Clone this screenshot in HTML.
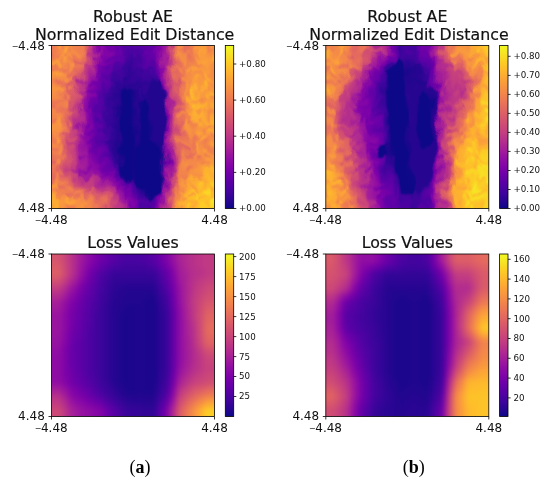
<!DOCTYPE html>
<html><head><meta charset="utf-8"><title>Robust AE</title>
<style>
html,body{margin:0;padding:0;background:#fff;}
body{width:550px;height:483px;overflow:hidden;}
svg{display:block}
text{font-family:"DejaVu Sans","Liberation Sans",sans-serif;fill:#111;}
.t{font-size:15.8px;text-anchor:middle;stroke:#111;stroke-width:.2px}
.k{font-size:12px}
.c{font-size:8.7px}
.cap{font-family:"Liberation Serif","DejaVu Serif",serif;font-size:18px;text-anchor:middle;fill:#000}
</style></head><body>
<svg width="550" height="483" viewBox="0 0 550 483">
<defs>
<linearGradient id="pl" x1="0" y1="1" x2="0" y2="0">
<stop offset="0.00" stop-color="#0d0887"/><stop offset="0.05" stop-color="#2a0593"/><stop offset="0.10" stop-color="#41049d"/><stop offset="0.15" stop-color="#5601a4"/><stop offset="0.20" stop-color="#6a00a8"/><stop offset="0.25" stop-color="#7e03a8"/><stop offset="0.30" stop-color="#8f0da4"/><stop offset="0.35" stop-color="#a11b9b"/><stop offset="0.40" stop-color="#b12a90"/><stop offset="0.45" stop-color="#bf3984"/><stop offset="0.50" stop-color="#cc4778"/><stop offset="0.55" stop-color="#d6556d"/><stop offset="0.60" stop-color="#e16462"/><stop offset="0.65" stop-color="#ea7457"/><stop offset="0.70" stop-color="#f2844b"/><stop offset="0.75" stop-color="#f89540"/><stop offset="0.80" stop-color="#fca636"/><stop offset="0.85" stop-color="#feba2c"/><stop offset="0.90" stop-color="#fcce25"/><stop offset="0.95" stop-color="#f7e425"/><stop offset="1.00" stop-color="#f0f921"/></linearGradient>
<clipPath id="ctl"><rect x="51.5" y="45.5" width="163.0" height="163.0"/></clipPath><filter id="ftl" x="-10%" y="-10%" width="120%" height="120%" color-interpolation-filters="sRGB"><feGaussianBlur stdDeviation="1.3" result="b"/><feTurbulence type="fractalNoise" baseFrequency="0.09 0.045" numOctaves="2" seed="3" result="n"/><feDisplacementMap in="b" in2="n" scale="14" xChannelSelector="R" yChannelSelector="G"/></filter>
<clipPath id="ctr"><rect x="325.8" y="45.5" width="163.0" height="163.0"/></clipPath><filter id="ftr" x="-10%" y="-10%" width="120%" height="120%" color-interpolation-filters="sRGB"><feGaussianBlur stdDeviation="1.3" result="b"/><feTurbulence type="fractalNoise" baseFrequency="0.09 0.045" numOctaves="2" seed="7" result="n"/><feDisplacementMap in="b" in2="n" scale="14" xChannelSelector="R" yChannelSelector="G"/></filter>
<clipPath id="cbl"><rect x="51.5" y="254.0" width="163.0" height="162.5"/></clipPath><filter id="fbl" x="-10%" y="-10%" width="120%" height="120%" color-interpolation-filters="sRGB"><feGaussianBlur stdDeviation="2.5"/></filter>
<clipPath id="cbr"><rect x="325.8" y="254.0" width="163.0" height="162.5"/></clipPath><filter id="fbr" x="-10%" y="-10%" width="120%" height="120%" color-interpolation-filters="sRGB"><feGaussianBlur stdDeviation="2.5"/></filter>
</defs>
<rect width="550" height="483" fill="#fff"/>
<g clip-path="url(#ctl)"><g filter="url(#ftl)" shape-rendering="crispEdges"><path fill="#0d0887" d="M123.9 104.4h4.9v4.9h-4.9z"/><path fill="#130789" d="M123.9 95.3h4.9v4.9h-4.9zM123.9 99.8h4.9v4.9h-4.9zM123.9 108.9h4.9v4.9h-4.9zM123.9 113.4h4.9v4.9h-4.9zM123.9 117.9h4.9v4.9h-4.9zM123.9 127h4.9v4.9h-4.9zM151.1 127h4.9v4.9h-4.9zM123.9 131.5h4.9v4.9h-4.9zM151.1 131.5h4.9v4.9h-4.9zM123.9 136.1h4.9v4.9h-4.9zM151.1 136.1h4.9v4.9h-4.9zM123.9 140.6h9.5v4.9h-9.5zM151.1 140.6h4.9v4.9h-4.9zM123.9 145.1h4.9v4.9h-4.9zM151.1 145.1h4.9v4.9h-4.9zM123.9 149.6h9.5v4.9h-9.5zM142.1 149.6h14v4.9h-14zM123.9 154.2h9.5v4.9h-9.5zM146.6 154.2h4.9v4.9h-4.9zM123.9 158.7h4.9v4.9h-4.9zM146.6 158.7h9.5v4.9h-9.5zM137.5 163.2h4.9v4.9h-4.9zM151.1 163.2h4.9v4.9h-4.9zM137.5 167.8h4.9v4.9h-4.9zM151.1 167.8h4.9v4.9h-4.9zM137.5 172.3h4.9v4.9h-4.9zM146.6 172.3h9.5v4.9h-9.5zM146.6 176.8h4.9v4.9h-4.9z"/><path fill="#19068c" d="M123.9 90.8h4.9v4.9h-4.9zM128.5 99.8h4.9v4.9h-4.9zM128.5 104.4h4.9v4.9h-4.9zM151.1 104.4h4.9v4.9h-4.9zM151.1 108.9h4.9v4.9h-4.9zM119.4 113.4h4.9v4.9h-4.9zM128.5 113.4h4.9v4.9h-4.9zM119.4 117.9h4.9v4.9h-4.9zM151.1 117.9h4.9v4.9h-4.9zM123.9 122.5h9.5v4.9h-9.5zM151.1 122.5h4.9v4.9h-4.9zM128.5 131.5h9.5v4.9h-9.5zM146.6 136.1h4.9v4.9h-4.9zM146.6 140.6h4.9v4.9h-4.9zM128.5 145.1h14v4.9h-14zM146.6 145.1h4.9v4.9h-4.9zM133 149.6h9.5v4.9h-9.5zM133 154.2h4.9v4.9h-4.9zM142.1 154.2h4.9v4.9h-4.9zM151.1 154.2h4.9v4.9h-4.9zM128.5 158.7h9.5v4.9h-9.5zM142.1 158.7h4.9v4.9h-4.9zM123.9 163.2h4.9v4.9h-4.9zM133 163.2h4.9v4.9h-4.9zM142.1 163.2h9.5v4.9h-9.5zM142.1 167.8h9.5v4.9h-9.5zM142.1 172.3h4.9v4.9h-4.9zM142.1 176.8h4.9v4.9h-4.9zM151.1 176.8h4.9v4.9h-4.9z"/><path fill="#1d068e" d="M123.9 86.2h4.9v4.9h-4.9zM119.4 95.3h4.9v4.9h-4.9zM151.1 95.3h4.9v4.9h-4.9zM119.4 99.8h4.9v4.9h-4.9zM151.1 99.8h4.9v4.9h-4.9zM114.9 104.4h9.5v4.9h-9.5zM119.4 108.9h4.9v4.9h-4.9zM133 108.9h4.9v4.9h-4.9zM146.6 108.9h4.9v4.9h-4.9zM114.9 113.4h4.9v4.9h-4.9zM133 113.4h4.9v4.9h-4.9zM151.1 113.4h4.9v4.9h-4.9zM128.5 117.9h9.5v4.9h-9.5zM146.6 117.9h4.9v4.9h-4.9zM119.4 127h4.9v4.9h-4.9zM128.5 127h9.5v4.9h-9.5zM142.1 131.5h9.5v4.9h-9.5zM128.5 136.1h4.9v4.9h-4.9zM142.1 136.1h4.9v4.9h-4.9zM133 140.6h14v4.9h-14zM142.1 145.1h4.9v4.9h-4.9zM137.5 154.2h4.9v4.9h-4.9zM137.5 158.7h4.9v4.9h-4.9zM128.5 163.2h4.9v4.9h-4.9zM133 167.8h4.9v4.9h-4.9zM133 172.3h4.9v4.9h-4.9zM137.5 176.8h4.9v4.9h-4.9zM142.1 181.3h9.5v4.9h-9.5z"/><path fill="#220690" d="M142.1 90.8h4.9v4.9h-4.9zM151.1 90.8h4.9v4.9h-4.9zM128.5 95.3h4.9v4.9h-4.9zM146.6 99.8h4.9v4.9h-4.9zM146.6 104.4h4.9v4.9h-4.9zM114.9 108.9h4.9v4.9h-4.9zM128.5 108.9h4.9v4.9h-4.9zM142.1 108.9h4.9v4.9h-4.9zM146.6 113.4h4.9v4.9h-4.9zM119.4 122.5h4.9v4.9h-4.9zM133 122.5h18.5v4.9h-18.5zM114.9 127h4.9v4.9h-4.9zM142.1 127h9.5v4.9h-9.5zM119.4 131.5h4.9v4.9h-4.9zM119.4 136.1h4.9v4.9h-4.9zM133 136.1h9.5v4.9h-9.5zM114.9 140.6h9.5v4.9h-9.5zM137.5 181.3h4.9v4.9h-4.9zM151.1 181.3h4.9v4.9h-4.9zM151.1 185.9h4.9v4.9h-4.9z"/><path fill="#260591" d="M119.4 90.8h4.9v4.9h-4.9zM128.5 90.8h9.5v4.9h-9.5zM146.6 90.8h4.9v4.9h-4.9zM133 95.3h4.9v4.9h-4.9zM146.6 95.3h4.9v4.9h-4.9zM133 99.8h14v4.9h-14zM133 104.4h4.9v4.9h-4.9zM142.1 113.4h4.9v4.9h-4.9zM137.5 117.9h9.5v4.9h-9.5zM110.4 122.5h9.5v4.9h-9.5zM137.5 127h4.9v4.9h-4.9zM114.9 131.5h4.9v4.9h-4.9zM137.5 131.5h4.9v4.9h-4.9zM114.9 136.1h4.9v4.9h-4.9zM119.4 145.1h4.9v4.9h-4.9zM119.4 149.6h4.9v4.9h-4.9zM119.4 154.2h4.9v4.9h-4.9zM128.5 167.8h4.9v4.9h-4.9zM128.5 172.3h4.9v4.9h-4.9zM137.5 185.9h14v4.9h-14z"/><path fill="#2a0593" d="M123.9 72.7h4.9v4.9h-4.9zM123.9 81.7h14v4.9h-14zM128.5 86.2h4.9v4.9h-4.9zM137.5 86.2h4.9v4.9h-4.9zM110.4 95.3h9.5v4.9h-9.5zM137.5 95.3h9.5v4.9h-9.5zM114.9 99.8h4.9v4.9h-4.9zM110.4 104.4h4.9v4.9h-4.9zM137.5 104.4h9.5v4.9h-9.5zM137.5 113.4h4.9v4.9h-4.9zM114.9 117.9h4.9v4.9h-4.9zM114.9 145.1h4.9v4.9h-4.9zM114.9 149.6h4.9v4.9h-4.9zM114.9 154.2h4.9v4.9h-4.9zM114.9 158.7h9.5v4.9h-9.5zM123.9 167.8h4.9v4.9h-4.9z"/><path fill="#2f0596" d="M123.9 63.6h4.9v4.9h-4.9zM123.9 77.2h4.9v4.9h-4.9zM114.9 81.7h9.5v4.9h-9.5zM137.5 81.7h14v4.9h-14zM114.9 86.2h9.5v4.9h-9.5zM133 86.2h4.9v4.9h-4.9zM146.6 86.2h4.9v4.9h-4.9zM114.9 90.8h4.9v4.9h-4.9zM110.4 108.9h4.9v4.9h-4.9zM137.5 108.9h4.9v4.9h-4.9zM110.4 113.4h4.9v4.9h-4.9zM110.4 117.9h4.9v4.9h-4.9zM110.4 127h4.9v4.9h-4.9zM110.4 131.5h4.9v4.9h-4.9zM110.4 140.6h4.9v4.9h-4.9zM133 176.8h4.9v4.9h-4.9zM142.1 190.4h4.9v4.9h-4.9zM151.1 190.4h4.9v4.9h-4.9z"/><path fill="#330597" d="M123.9 68.1h9.5v4.9h-9.5zM133 77.2h4.9v4.9h-4.9zM110.4 86.2h4.9v4.9h-4.9zM142.1 86.2h4.9v4.9h-4.9zM151.1 86.2h4.9v4.9h-4.9zM110.4 90.8h4.9v4.9h-4.9zM137.5 90.8h4.9v4.9h-4.9zM105.8 95.3h4.9v4.9h-4.9zM110.4 99.8h4.9v4.9h-4.9zM110.4 136.1h4.9v4.9h-4.9zM123.9 172.3h4.9v4.9h-4.9zM128.5 176.8h4.9v4.9h-4.9z"/><path fill="#370499" d="M128.5 63.6h4.9v4.9h-4.9zM133 68.1h4.9v4.9h-4.9zM128.5 72.7h4.9v4.9h-4.9zM119.4 77.2h4.9v4.9h-4.9zM128.5 77.2h4.9v4.9h-4.9zM105.8 99.8h4.9v4.9h-4.9zM105.8 117.9h4.9v4.9h-4.9zM105.8 122.5h4.9v4.9h-4.9zM155.6 131.5h4.9v4.9h-4.9zM105.8 140.6h4.9v4.9h-4.9zM110.4 145.1h4.9v4.9h-4.9zM119.4 163.2h4.9v4.9h-4.9zM133 181.3h4.9v4.9h-4.9zM146.6 190.4h4.9v4.9h-4.9z"/><path fill="#3a049a" d="M123.9 59.1h9.5v4.9h-9.5zM137.5 68.1h4.9v4.9h-4.9zM133 72.7h4.9v4.9h-4.9zM137.5 77.2h9.5v4.9h-9.5zM151.1 81.7h4.9v4.9h-4.9zM105.8 90.8h4.9v4.9h-4.9zM105.8 104.4h4.9v4.9h-4.9zM105.8 113.4h4.9v4.9h-4.9zM155.6 145.1h4.9v4.9h-4.9zM110.4 149.6h4.9v4.9h-4.9zM110.4 154.2h4.9v4.9h-4.9zM110.4 158.7h4.9v4.9h-4.9zM155.6 158.7h4.9v4.9h-4.9zM119.4 167.8h4.9v4.9h-4.9zM155.6 167.8h4.9v4.9h-4.9zM137.5 190.4h4.9v4.9h-4.9z"/><path fill="#3e049c" d="M128.5 54.6h4.9v4.9h-4.9zM114.9 72.7h4.9v4.9h-4.9zM114.9 77.2h4.9v4.9h-4.9zM146.6 77.2h9.5v4.9h-9.5zM101.3 108.9h9.5v4.9h-9.5zM119.4 172.3h4.9v4.9h-4.9zM128.5 181.3h4.9v4.9h-4.9z"/><path fill="#41049d" d="M133 59.1h4.9v4.9h-4.9zM146.6 68.1h4.9v4.9h-4.9zM119.4 72.7h4.9v4.9h-4.9zM137.5 72.7h9.5v4.9h-9.5zM101.3 95.3h4.9v4.9h-4.9zM155.6 99.8h4.9v4.9h-4.9zM101.3 113.4h4.9v4.9h-4.9zM155.6 113.4h4.9v4.9h-4.9zM155.6 122.5h4.9v4.9h-4.9zM105.8 127h4.9v4.9h-4.9zM105.8 131.5h4.9v4.9h-4.9zM114.9 163.2h4.9v4.9h-4.9zM155.6 163.2h4.9v4.9h-4.9zM155.6 172.3h4.9v4.9h-4.9z"/><path fill="#44039e" d="M123.9 54.6h4.9v4.9h-4.9zM137.5 54.6h4.9v4.9h-4.9zM137.5 59.1h4.9v4.9h-4.9zM133 63.6h4.9v4.9h-4.9zM119.4 68.1h4.9v4.9h-4.9zM142.1 68.1h4.9v4.9h-4.9zM151.1 72.7h4.9v4.9h-4.9zM110.4 77.2h4.9v4.9h-4.9zM105.8 86.2h4.9v4.9h-4.9zM101.3 90.8h4.9v4.9h-4.9zM155.6 95.3h4.9v4.9h-4.9zM101.3 99.8h4.9v4.9h-4.9zM155.6 117.9h4.9v4.9h-4.9zM101.3 127h4.9v4.9h-4.9zM155.6 136.1h4.9v4.9h-4.9zM155.6 149.6h4.9v4.9h-4.9zM155.6 154.2h4.9v4.9h-4.9zM110.4 163.2h4.9v4.9h-4.9zM133 185.9h4.9v4.9h-4.9zM142.1 194.9h4.9v4.9h-4.9zM151.1 194.9h4.9v4.9h-4.9z"/><path fill="#4903a0" d="M123.9 50h14v4.9h-14zM119.4 63.6h4.9v4.9h-4.9zM137.5 63.6h4.9v4.9h-4.9zM114.9 68.1h4.9v4.9h-4.9zM151.1 68.1h4.9v4.9h-4.9zM110.4 81.7h4.9v4.9h-4.9zM101.3 117.9h4.9v4.9h-4.9zM101.3 122.5h4.9v4.9h-4.9zM155.6 127h4.9v4.9h-4.9zM105.8 136.1h4.9v4.9h-4.9zM155.6 140.6h4.9v4.9h-4.9zM123.9 176.8h4.9v4.9h-4.9zM155.6 176.8h4.9v4.9h-4.9zM137.5 194.9h4.9v4.9h-4.9zM146.6 194.9h4.9v4.9h-4.9zM137.5 204h4.9v16.9h-4.9zM146.6 204h4.9v16.9h-4.9z"/><path fill="#4c02a1" d="M128.5 33.5h4.9v16.9h-4.9zM137.5 50h4.9v4.9h-4.9zM146.6 72.7h4.9v4.9h-4.9zM155.6 90.8h4.9v4.9h-4.9zM101.3 104.4h4.9v4.9h-4.9zM155.6 104.4h4.9v4.9h-4.9zM155.6 108.9h4.9v4.9h-4.9zM101.3 140.6h4.9v4.9h-4.9zM105.8 145.1h4.9v4.9h-4.9zM105.8 154.2h4.9v4.9h-4.9zM114.9 167.8h4.9v4.9h-4.9z"/><path fill="#5002a2" d="M123.9 33.5h4.9v16.9h-4.9zM142.1 59.1h4.9v4.9h-4.9zM114.9 63.6h4.9v4.9h-4.9zM110.4 72.7h4.9v4.9h-4.9zM101.3 86.2h4.9v4.9h-4.9zM96.8 95.3h4.9v4.9h-4.9zM96.8 117.9h4.9v4.9h-4.9zM96.8 127h4.9v4.9h-4.9zM101.3 136.1h4.9v4.9h-4.9zM105.8 158.7h4.9v4.9h-4.9zM114.9 172.3h4.9v4.9h-4.9zM128.5 185.9h4.9v4.9h-4.9zM133 190.4h4.9v4.9h-4.9zM142.1 199.4h4.9v4.9h-4.9zM151.1 199.4h4.9v4.9h-4.9zM142.1 204h4.9v16.9h-4.9z"/><path fill="#5302a3" d="M119.4 33.5h4.9v16.9h-4.9zM137.5 33.5h4.9v16.9h-4.9zM133 54.6h4.9v4.9h-4.9zM119.4 59.1h4.9v4.9h-4.9zM151.1 59.1h4.9v4.9h-4.9zM105.8 72.7h4.9v4.9h-4.9zM155.6 86.2h4.9v4.9h-4.9zM96.8 90.8h4.9v4.9h-4.9zM96.8 104.4h4.9v4.9h-4.9zM101.3 131.5h4.9v4.9h-4.9zM96.8 140.6h4.9v4.9h-4.9zM105.8 149.6h4.9v4.9h-4.9zM101.3 154.2h4.9v4.9h-4.9zM146.6 199.4h4.9v4.9h-4.9z"/><path fill="#5601a4" d="M133 33.5h4.9v16.9h-4.9zM142.1 54.6h4.9v4.9h-4.9zM142.1 63.6h4.9v4.9h-4.9zM151.1 63.6h4.9v4.9h-4.9zM101.3 81.7h9.5v4.9h-9.5zM92.2 99.8h9.5v4.9h-9.5zM96.8 108.9h4.9v4.9h-4.9zM119.4 176.8h4.9v4.9h-4.9zM151.1 204h4.9v16.9h-4.9z"/><path fill="#5901a5" d="M119.4 50h4.9v4.9h-4.9zM105.8 63.6h4.9v4.9h-4.9zM146.6 63.6h4.9v4.9h-4.9zM101.3 72.7h4.9v4.9h-4.9zM92.2 95.3h4.9v4.9h-4.9zM92.2 108.9h4.9v4.9h-4.9zM96.8 136.1h4.9v4.9h-4.9zM155.6 181.3h4.9v4.9h-4.9zM137.5 199.4h4.9v4.9h-4.9z"/><path fill="#5e01a6" d="M142.1 33.5h9.5v16.9h-9.5zM114.9 54.6h9.5v4.9h-9.5zM114.9 59.1h4.9v4.9h-4.9zM146.6 59.1h4.9v4.9h-4.9zM110.4 68.1h4.9v4.9h-4.9zM105.8 77.2h4.9v4.9h-4.9zM92.2 90.8h4.9v4.9h-4.9zM96.8 113.4h4.9v4.9h-4.9zM96.8 122.5h4.9v4.9h-4.9zM96.8 131.5h4.9v4.9h-4.9zM96.8 145.1h9.5v4.9h-9.5zM101.3 149.6h4.9v4.9h-4.9zM105.8 163.2h4.9v4.9h-4.9zM160.2 163.2h4.9v4.9h-4.9zM133 194.9h4.9v4.9h-4.9z"/><path fill="#6100a7" d="M110.4 33.5h4.9v16.9h-4.9zM96.8 77.2h4.9v4.9h-4.9zM155.6 77.2h4.9v4.9h-4.9zM160.2 108.9h4.9v4.9h-4.9zM92.2 113.4h4.9v4.9h-4.9zM160.2 117.9h4.9v4.9h-4.9zM160.2 122.5h4.9v4.9h-4.9zM160.2 145.1h4.9v4.9h-4.9zM110.4 167.8h4.9v4.9h-4.9zM114.9 176.8h4.9v4.9h-4.9zM119.4 181.3h4.9v4.9h-4.9z"/><path fill="#6400a7" d="M151.1 33.5h4.9v16.9h-4.9zM142.1 50h9.5v4.9h-9.5zM105.8 54.6h9.5v4.9h-9.5zM146.6 54.6h9.5v4.9h-9.5zM101.3 63.6h4.9v4.9h-4.9zM110.4 63.6h4.9v4.9h-4.9zM105.8 68.1h4.9v4.9h-4.9zM155.6 68.1h4.9v4.9h-4.9zM101.3 77.2h4.9v4.9h-4.9zM96.8 86.2h4.9v4.9h-4.9zM160.2 99.8h4.9v4.9h-4.9zM160.2 113.4h4.9v4.9h-4.9zM92.2 117.9h4.9v4.9h-4.9zM92.2 145.1h4.9v4.9h-4.9zM96.8 154.2h4.9v4.9h-4.9zM160.2 154.2h4.9v4.9h-4.9zM123.9 181.3h4.9v4.9h-4.9zM123.9 185.9h4.9v4.9h-4.9zM155.6 185.9h4.9v4.9h-4.9zM155.6 190.4h4.9v4.9h-4.9z"/><path fill="#6700a8" d="M155.6 81.7h4.9v4.9h-4.9zM92.2 104.4h4.9v4.9h-4.9zM92.2 122.5h4.9v4.9h-4.9zM92.2 127h4.9v4.9h-4.9zM92.2 131.5h4.9v4.9h-4.9zM160.2 131.5h4.9v4.9h-4.9zM160.2 136.1h4.9v4.9h-4.9zM92.2 149.6h4.9v4.9h-4.9zM160.2 158.7h4.9v4.9h-4.9zM101.3 163.2h4.9v4.9h-4.9z"/><path fill="#6a00a8" d="M114.9 33.5h4.9v16.9h-4.9zM110.4 50h9.5v4.9h-9.5zM110.4 59.1h4.9v4.9h-4.9zM101.3 68.1h4.9v4.9h-4.9zM155.6 72.7h4.9v4.9h-4.9zM160.2 127h4.9v4.9h-4.9zM92.2 140.6h4.9v4.9h-4.9zM160.2 140.6h4.9v4.9h-4.9zM96.8 158.7h9.5v4.9h-9.5zM101.3 167.8h9.5v4.9h-9.5zM128.5 190.4h4.9v4.9h-4.9zM133 204h4.9v16.9h-4.9z"/><path fill="#6e00a8" d="M155.6 63.6h4.9v4.9h-4.9zM96.8 81.7h4.9v4.9h-4.9zM160.2 81.7h4.9v4.9h-4.9zM160.2 95.3h4.9v4.9h-4.9zM87.7 104.4h4.9v4.9h-4.9z"/><path fill="#7100a8" d="M105.8 59.1h4.9v4.9h-4.9zM92.2 81.7h4.9v4.9h-4.9zM87.7 90.8h4.9v4.9h-4.9zM87.7 99.8h4.9v4.9h-4.9zM87.7 131.5h4.9v4.9h-4.9zM87.7 140.6h4.9v4.9h-4.9zM96.8 149.6h4.9v4.9h-4.9zM160.2 149.6h4.9v4.9h-4.9zM160.2 167.8h4.9v4.9h-4.9zM105.8 172.3h4.9v4.9h-4.9z"/><path fill="#7501a8" d="M105.8 33.5h4.9v16.9h-4.9zM151.1 50h4.9v4.9h-4.9zM96.8 68.1h4.9v4.9h-4.9zM96.8 72.7h4.9v4.9h-4.9zM83.2 122.5h4.9v4.9h-4.9zM92.2 136.1h4.9v4.9h-4.9zM87.7 149.6h4.9v4.9h-4.9zM123.9 190.4h4.9v4.9h-4.9zM133 199.4h4.9v4.9h-4.9zM155.6 199.4h4.9v4.9h-4.9zM128.5 204h4.9v16.9h-4.9z"/><path fill="#7801a8" d="M101.3 54.6h4.9v4.9h-4.9zM96.8 63.6h4.9v4.9h-4.9zM92.2 72.7h4.9v4.9h-4.9zM92.2 86.2h4.9v4.9h-4.9zM164.7 158.7h4.9v4.9h-4.9zM96.8 167.8h4.9v4.9h-4.9zM110.4 172.3h4.9v4.9h-4.9zM160.2 172.3h4.9v4.9h-4.9zM128.5 194.9h4.9v4.9h-4.9z"/><path fill="#7b02a8" d="M155.6 33.5h4.9v16.9h-4.9zM101.3 59.1h4.9v4.9h-4.9zM155.6 59.1h4.9v4.9h-4.9zM87.7 81.7h4.9v4.9h-4.9zM160.2 90.8h4.9v4.9h-4.9zM160.2 104.4h4.9v4.9h-4.9zM87.7 113.4h4.9v4.9h-4.9zM87.7 117.9h4.9v4.9h-4.9zM92.2 154.2h4.9v4.9h-4.9zM96.8 163.2h4.9v4.9h-4.9zM123.9 194.9h4.9v4.9h-4.9zM155.6 194.9h4.9v4.9h-4.9z"/><path fill="#7e03a8" d="M155.6 54.6h4.9v4.9h-4.9zM87.7 108.9h4.9v4.9h-4.9zM164.7 113.4h4.9v4.9h-4.9zM87.7 122.5h4.9v4.9h-4.9zM164.7 127h4.9v4.9h-4.9zM87.7 136.1h4.9v4.9h-4.9zM155.6 204h4.9v16.9h-4.9z"/><path fill="#8104a7" d="M96.8 33.5h4.9v16.9h-4.9zM101.3 50h9.5v4.9h-9.5zM160.2 86.2h4.9v4.9h-4.9zM87.7 95.3h4.9v4.9h-4.9zM87.7 127h4.9v4.9h-4.9zM83.2 131.5h4.9v4.9h-4.9zM164.7 136.1h4.9v4.9h-4.9zM87.7 145.1h4.9v4.9h-4.9zM92.2 158.7h4.9v4.9h-4.9zM160.2 176.8h4.9v4.9h-4.9zM114.9 181.3h4.9v4.9h-4.9z"/><path fill="#8405a7" d="M155.6 50h4.9v4.9h-4.9zM96.8 59.1h4.9v4.9h-4.9zM160.2 72.7h4.9v4.9h-4.9zM87.7 86.2h4.9v4.9h-4.9zM83.2 108.9h4.9v4.9h-4.9zM164.7 122.5h4.9v4.9h-4.9zM83.2 127h4.9v4.9h-4.9zM83.2 140.6h4.9v4.9h-4.9zM87.7 163.2h4.9v4.9h-4.9zM101.3 172.3h4.9v4.9h-4.9zM110.4 176.8h4.9v4.9h-4.9zM114.9 185.9h9.5v4.9h-9.5zM128.5 199.4h4.9v4.9h-4.9z"/><path fill="#8707a6" d="M160.2 68.1h4.9v4.9h-4.9zM92.2 77.2h4.9v4.9h-4.9zM83.2 90.8h4.9v4.9h-4.9zM83.2 99.8h4.9v4.9h-4.9zM164.7 108.9h4.9v4.9h-4.9zM83.2 117.9h4.9v4.9h-4.9zM83.2 136.1h4.9v4.9h-4.9zM87.7 154.2h4.9v4.9h-4.9z"/><path fill="#8b0aa5" d="M101.3 33.5h4.9v16.9h-4.9zM83.2 95.3h4.9v4.9h-4.9zM83.2 104.4h4.9v4.9h-4.9zM164.7 145.1h4.9v4.9h-4.9zM164.7 149.6h4.9v4.9h-4.9zM87.7 158.7h4.9v4.9h-4.9zM92.2 163.2h4.9v4.9h-4.9zM83.2 167.8h4.9v4.9h-4.9zM92.2 167.8h4.9v4.9h-4.9zM96.8 172.3h4.9v4.9h-4.9zM105.8 176.8h4.9v4.9h-4.9z"/><path fill="#8e0ca4" d="M160.2 77.2h4.9v4.9h-4.9zM83.2 113.4h4.9v4.9h-4.9zM78.7 154.2h4.9v4.9h-4.9zM160.2 181.3h4.9v4.9h-4.9z"/><path fill="#910ea3" d="M96.8 54.6h4.9v4.9h-4.9zM92.2 68.1h4.9v4.9h-4.9zM78.7 104.4h4.9v4.9h-4.9zM78.7 108.9h4.9v4.9h-4.9zM164.7 117.9h4.9v4.9h-4.9zM78.7 136.1h4.9v4.9h-4.9zM87.7 167.8h4.9v4.9h-4.9zM164.7 172.3h4.9v4.9h-4.9zM110.4 181.3h4.9v4.9h-4.9z"/><path fill="#9410a2" d="M92.2 63.6h4.9v4.9h-4.9zM78.7 122.5h4.9v4.9h-4.9zM83.2 145.1h4.9v4.9h-4.9zM164.7 163.2h4.9v4.9h-4.9zM78.7 167.8h4.9v4.9h-4.9zM92.2 172.3h4.9v4.9h-4.9zM123.9 199.4h4.9v4.9h-4.9zM160.2 199.4h4.9v4.9h-4.9z"/><path fill="#9613a1" d="M160.2 33.5h4.9v16.9h-4.9zM87.7 77.2h4.9v4.9h-4.9zM164.7 77.2h4.9v4.9h-4.9zM164.7 140.6h4.9v4.9h-4.9zM83.2 154.2h4.9v4.9h-4.9zM164.7 154.2h4.9v4.9h-4.9zM78.7 172.3h4.9v4.9h-4.9zM119.4 190.4h4.9v4.9h-4.9z"/><path fill="#99159f" d="M92.2 54.6h4.9v4.9h-4.9zM160.2 63.6h4.9v4.9h-4.9zM83.2 86.2h4.9v4.9h-4.9zM78.7 99.8h4.9v4.9h-4.9zM78.7 127h4.9v4.9h-4.9zM164.7 131.5h4.9v4.9h-4.9zM78.7 145.1h4.9v4.9h-4.9zM83.2 149.6h4.9v4.9h-4.9zM87.7 172.3h4.9v4.9h-4.9zM160.2 185.9h4.9v4.9h-4.9zM114.9 190.4h4.9v4.9h-4.9zM119.4 194.9h4.9v4.9h-4.9zM160.2 194.9h4.9v4.9h-4.9z"/><path fill="#9d189d" d="M164.7 99.8h4.9v4.9h-4.9zM78.7 140.6h4.9v4.9h-4.9zM119.4 199.4h4.9v4.9h-4.9z"/><path fill="#a01a9c" d="M96.8 50h4.9v4.9h-4.9zM160.2 50h4.9v4.9h-4.9zM164.7 54.6h4.9v4.9h-4.9zM164.7 95.3h4.9v4.9h-4.9zM164.7 104.4h4.9v4.9h-4.9zM169.2 145.1h4.9v4.9h-4.9zM78.7 158.7h9.5v4.9h-9.5zM164.7 167.8h4.9v4.9h-4.9zM83.2 172.3h4.9v4.9h-4.9zM83.2 176.8h9.5v4.9h-9.5zM160.2 190.4h4.9v4.9h-4.9z"/><path fill="#a21d9a" d="M160.2 59.1h4.9v4.9h-4.9zM83.2 77.2h4.9v4.9h-4.9zM164.7 90.8h4.9v4.9h-4.9zM78.7 149.6h4.9v4.9h-4.9zM83.2 163.2h4.9v4.9h-4.9zM101.3 176.8h4.9v4.9h-4.9zM105.8 181.3h4.9v4.9h-4.9zM164.7 181.3h4.9v4.9h-4.9z"/><path fill="#a51f99" d="M92.2 33.5h4.9v16.9h-4.9zM164.7 33.5h4.9v16.9h-4.9zM160.2 54.6h4.9v4.9h-4.9zM87.7 72.7h4.9v4.9h-4.9zM83.2 81.7h4.9v4.9h-4.9zM169.2 149.6h4.9v4.9h-4.9zM78.7 163.2h4.9v4.9h-4.9zM74.1 167.8h4.9v4.9h-4.9zM164.7 176.8h4.9v4.9h-4.9zM101.3 181.3h4.9v4.9h-4.9z"/><path fill="#a72197" d="M164.7 59.1h4.9v4.9h-4.9zM164.7 68.1h4.9v4.9h-4.9zM164.7 86.2h4.9v4.9h-4.9zM78.7 95.3h4.9v4.9h-4.9zM169.2 127h4.9v4.9h-4.9zM123.9 204h4.9v16.9h-4.9zM160.2 204h4.9v16.9h-4.9z"/><path fill="#aa2395" d="M87.7 68.1h4.9v4.9h-4.9zM164.7 81.7h4.9v4.9h-4.9zM78.7 90.8h4.9v4.9h-4.9zM169.2 99.8h4.9v4.9h-4.9zM78.7 113.4h4.9v4.9h-4.9zM169.2 113.4h4.9v4.9h-4.9zM169.2 131.5h4.9v4.9h-4.9zM169.2 140.6h4.9v4.9h-4.9zM74.1 163.2h4.9v4.9h-4.9z"/><path fill="#ac2694" d="M78.7 131.5h4.9v4.9h-4.9zM105.8 185.9h4.9v4.9h-4.9z"/><path fill="#b02991" d="M92.2 50h4.9v4.9h-4.9zM92.2 59.1h4.9v4.9h-4.9zM164.7 72.7h4.9v4.9h-4.9zM78.7 77.2h4.9v4.9h-4.9zM169.2 104.4h4.9v4.9h-4.9zM169.2 117.9h4.9v4.9h-4.9zM169.2 122.5h4.9v4.9h-4.9zM74.1 136.1h4.9v4.9h-4.9zM169.2 136.1h4.9v4.9h-4.9zM169.2 154.2h4.9v4.9h-4.9zM74.1 158.7h4.9v4.9h-4.9zM169.2 158.7h4.9v4.9h-4.9zM69.6 167.8h4.9v4.9h-4.9zM96.8 185.9h4.9v4.9h-4.9z"/><path fill="#b22b8f" d="M169.2 108.9h4.9v4.9h-4.9zM78.7 117.9h4.9v4.9h-4.9zM74.1 122.5h4.9v4.9h-4.9zM169.2 167.8h4.9v4.9h-4.9zM96.8 176.8h4.9v4.9h-4.9zM96.8 181.3h4.9v4.9h-4.9zM101.3 185.9h4.9v4.9h-4.9zM110.4 185.9h4.9v4.9h-4.9z"/><path fill="#b42e8d" d="M87.7 63.6h4.9v4.9h-4.9zM74.1 140.6h4.9v4.9h-4.9zM74.1 145.1h4.9v4.9h-4.9zM74.1 149.6h4.9v4.9h-4.9zM74.1 154.2h4.9v4.9h-4.9zM164.7 185.9h4.9v4.9h-4.9zM119.4 204h4.9v16.9h-4.9z"/><path fill="#b6308b" d="M169.2 77.2h4.9v4.9h-4.9zM74.1 117.9h4.9v4.9h-4.9zM92.2 176.8h4.9v4.9h-4.9z"/><path fill="#b83289" d="M164.7 63.6h4.9v4.9h-4.9zM83.2 72.7h4.9v4.9h-4.9zM74.1 90.8h4.9v4.9h-4.9zM74.1 131.5h4.9v4.9h-4.9zM78.7 176.8h4.9v4.9h-4.9zM78.7 181.3h4.9v4.9h-4.9z"/><path fill="#bb3488" d="M87.7 50h4.9v4.9h-4.9zM164.7 50h4.9v4.9h-4.9zM169.2 59.1h4.9v4.9h-4.9zM78.7 86.2h4.9v4.9h-4.9zM169.2 86.2h4.9v4.9h-4.9zM169.2 163.2h4.9v4.9h-4.9zM92.2 181.3h4.9v4.9h-4.9zM101.3 190.4h4.9v4.9h-4.9zM110.4 190.4h4.9v4.9h-4.9z"/><path fill="#be3885" d="M169.2 33.5h4.9v16.9h-4.9zM74.1 104.4h4.9v4.9h-4.9zM74.1 113.4h4.9v4.9h-4.9zM110.4 194.9h9.5v4.9h-9.5zM164.7 194.9h4.9v4.9h-4.9zM114.9 204h4.9v16.9h-4.9z"/><path fill="#c03a83" d="M83.2 63.6h4.9v4.9h-4.9zM83.2 68.1h4.9v4.9h-4.9zM169.2 72.7h4.9v4.9h-4.9zM78.7 81.7h4.9v4.9h-4.9zM92.2 185.9h4.9v4.9h-4.9zM105.8 190.4h4.9v4.9h-4.9zM164.7 190.4h4.9v4.9h-4.9zM164.7 199.4h4.9v4.9h-4.9zM164.7 204h4.9v16.9h-4.9z"/><path fill="#c23c81" d="M169.2 81.7h4.9v4.9h-4.9zM69.6 140.6h4.9v4.9h-4.9zM69.6 176.8h4.9v4.9h-4.9zM83.2 181.3h9.5v4.9h-9.5zM87.7 185.9h4.9v4.9h-4.9z"/><path fill="#c43e7f" d="M87.7 33.5h4.9v16.9h-4.9zM69.6 163.2h4.9v4.9h-4.9zM74.1 172.3h4.9v4.9h-4.9zM74.1 176.8h4.9v4.9h-4.9z"/><path fill="#c6417d" d="M169.2 90.8h4.9v4.9h-4.9zM74.1 108.9h4.9v4.9h-4.9zM74.1 127h4.9v4.9h-4.9zM65.1 140.6h4.9v4.9h-4.9zM69.6 154.2h4.9v4.9h-4.9zM173.8 154.2h4.9v4.9h-4.9zM69.6 158.7h4.9v4.9h-4.9zM169.2 172.3h4.9v4.9h-4.9zM169.2 185.9h4.9v4.9h-4.9z"/><path fill="#c8437b" d="M87.7 59.1h4.9v4.9h-4.9zM169.2 95.3h4.9v4.9h-4.9zM74.1 99.8h4.9v4.9h-4.9zM173.8 131.5h4.9v4.9h-4.9zM69.6 149.6h4.9v4.9h-4.9zM173.8 158.7h4.9v4.9h-4.9zM74.1 181.3h4.9v4.9h-4.9zM114.9 199.4h4.9v4.9h-4.9z"/><path fill="#ca457a" d="M169.2 54.6h4.9v4.9h-4.9zM169.2 68.1h4.9v4.9h-4.9zM74.1 86.2h4.9v4.9h-4.9zM69.6 131.5h4.9v4.9h-4.9zM69.6 172.3h4.9v4.9h-4.9zM83.2 185.9h4.9v4.9h-4.9zM87.7 190.4h4.9v4.9h-4.9zM169.2 204h4.9v16.9h-4.9z"/><path fill="#cc4977" d="M173.8 108.9h4.9v4.9h-4.9zM69.6 113.4h4.9v4.9h-4.9zM69.6 127h4.9v4.9h-4.9zM173.8 127h4.9v4.9h-4.9zM173.8 136.1h4.9v4.9h-4.9zM65.1 145.1h4.9v4.9h-4.9zM173.8 145.1h4.9v4.9h-4.9zM65.1 167.8h4.9v4.9h-4.9zM110.4 199.4h4.9v4.9h-4.9z"/><path fill="#ce4b75" d="M173.8 81.7h4.9v4.9h-4.9zM173.8 95.3h4.9v4.9h-4.9zM173.8 140.6h4.9v4.9h-4.9zM69.6 145.1h4.9v4.9h-4.9zM169.2 176.8h4.9v4.9h-4.9zM169.2 181.3h4.9v4.9h-4.9zM96.8 190.4h4.9v4.9h-4.9z"/><path fill="#d04d73" d="M87.7 54.6h4.9v4.9h-4.9zM74.1 77.2h4.9v4.9h-4.9zM74.1 95.3h4.9v4.9h-4.9zM69.6 104.4h4.9v4.9h-4.9zM65.1 163.2h4.9v4.9h-4.9zM65.1 172.3h4.9v4.9h-4.9zM69.6 181.3h4.9v4.9h-4.9zM78.7 185.9h4.9v4.9h-4.9z"/><path fill="#d24f71" d="M169.2 63.6h4.9v4.9h-4.9zM173.8 86.2h4.9v4.9h-4.9zM69.6 122.5h4.9v4.9h-4.9zM69.6 136.1h4.9v4.9h-4.9zM65.1 149.6h4.9v4.9h-4.9zM173.8 176.8h4.9v4.9h-4.9zM101.3 194.9h4.9v4.9h-4.9zM110.4 204h4.9v16.9h-4.9z"/><path fill="#d45270" d="M169.2 50h4.9v4.9h-4.9zM173.8 90.8h4.9v4.9h-4.9zM173.8 99.8h4.9v4.9h-4.9zM173.8 113.4h4.9v4.9h-4.9zM65.1 136.1h4.9v4.9h-4.9zM101.3 204h4.9v16.9h-4.9z"/><path fill="#d5546e" d="M173.8 59.1h4.9v4.9h-4.9zM78.7 72.7h4.9v4.9h-4.9zM173.8 77.2h4.9v4.9h-4.9zM69.6 99.8h4.9v4.9h-4.9zM173.8 122.5h4.9v4.9h-4.9zM173.8 149.6h4.9v4.9h-4.9zM65.1 154.2h4.9v4.9h-4.9zM65.1 158.7h4.9v4.9h-4.9zM105.8 194.9h4.9v4.9h-4.9z"/><path fill="#d7566c" d="M83.2 59.1h4.9v4.9h-4.9zM69.6 95.3h4.9v4.9h-4.9zM65.1 99.8h4.9v4.9h-4.9zM65.1 104.4h4.9v4.9h-4.9zM65.1 117.9h4.9v4.9h-4.9zM65.1 131.5h4.9v4.9h-4.9zM60.6 145.1h4.9v4.9h-4.9zM60.6 163.2h4.9v4.9h-4.9zM92.2 194.9h4.9v4.9h-4.9zM169.2 194.9h4.9v4.9h-4.9z"/><path fill="#da5a6a" d="M173.8 54.6h4.9v4.9h-4.9zM96.8 194.9h4.9v4.9h-4.9zM105.8 204h4.9v16.9h-4.9z"/><path fill="#db5c68" d="M69.6 81.7h4.9v4.9h-4.9zM60.6 131.5h4.9v4.9h-4.9zM178.3 154.2h4.9v4.9h-4.9zM65.1 176.8h4.9v4.9h-4.9zM173.8 181.3h4.9v4.9h-4.9zM83.2 190.4h4.9v4.9h-4.9zM92.2 190.4h4.9v4.9h-4.9z"/><path fill="#dd5e66" d="M74.1 81.7h4.9v4.9h-4.9zM69.6 90.8h4.9v4.9h-4.9zM60.6 172.3h4.9v4.9h-4.9zM74.1 185.9h4.9v4.9h-4.9zM169.2 190.4h4.9v4.9h-4.9zM105.8 199.4h4.9v4.9h-4.9z"/><path fill="#de6164" d="M65.1 86.2h4.9v4.9h-4.9zM65.1 90.8h4.9v4.9h-4.9zM173.8 117.9h4.9v4.9h-4.9zM65.1 122.5h4.9v4.9h-4.9zM60.6 149.6h4.9v4.9h-4.9zM178.3 158.7h4.9v4.9h-4.9zM173.8 167.8h4.9v4.9h-4.9zM169.2 199.4h4.9v4.9h-4.9zM96.8 204h4.9v16.9h-4.9z"/><path fill="#e06363" d="M74.1 59.1h9.5v4.9h-9.5zM78.7 68.1h4.9v4.9h-4.9zM65.1 81.7h4.9v4.9h-4.9zM173.8 104.4h4.9v4.9h-4.9zM69.6 108.9h4.9v4.9h-4.9zM60.6 140.6h4.9v4.9h-4.9zM178.3 149.6h4.9v4.9h-4.9zM39.5 158.7h16.9v4.9h-16.9zM60.6 158.7h4.9v4.9h-4.9zM173.8 163.2h4.9v4.9h-4.9z"/><path fill="#e26561" d="M83.2 33.5h4.9v16.9h-4.9zM178.3 99.8h4.9v4.9h-4.9zM178.3 122.5h4.9v4.9h-4.9zM178.3 131.5h4.9v4.9h-4.9zM178.3 145.1h9.5v4.9h-9.5zM56 167.8h4.9v4.9h-4.9zM173.8 172.3h4.9v4.9h-4.9zM65.1 181.3h4.9v4.9h-4.9zM69.6 185.9h4.9v4.9h-4.9zM87.7 194.9h4.9v4.9h-4.9z"/><path fill="#e4695e" d="M60.6 95.3h4.9v4.9h-4.9zM39.5 176.8h16.9v4.9h-16.9zM83.2 194.9h4.9v4.9h-4.9z"/><path fill="#e56b5d" d="M178.3 59.1h4.9v4.9h-4.9zM74.1 68.1h4.9v4.9h-4.9zM173.8 68.1h4.9v4.9h-4.9zM69.6 72.7h4.9v4.9h-4.9zM173.8 72.7h4.9v4.9h-4.9zM178.3 108.9h4.9v4.9h-4.9zM65.1 113.4h4.9v4.9h-4.9zM69.6 117.9h4.9v4.9h-4.9zM65.1 127h4.9v4.9h-4.9zM182.8 131.5h4.9v4.9h-4.9zM187.3 154.2h4.9v4.9h-4.9zM56 163.2h4.9v4.9h-4.9zM39.5 172.3h16.9v4.9h-16.9zM39.5 181.3h16.9v4.9h-16.9zM60.6 185.9h4.9v4.9h-4.9zM65.1 190.4h4.9v4.9h-4.9zM96.8 199.4h4.9v4.9h-4.9z"/><path fill="#e76e5b" d="M173.8 50h4.9v4.9h-4.9zM182.8 50h4.9v4.9h-4.9zM78.7 54.6h9.5v4.9h-9.5zM78.7 63.6h4.9v4.9h-4.9zM178.3 117.9h4.9v4.9h-4.9zM60.6 136.1h4.9v4.9h-4.9zM60.6 167.8h4.9v4.9h-4.9zM60.6 176.8h4.9v4.9h-4.9zM173.8 185.9h4.9v4.9h-4.9zM173.8 204h4.9v16.9h-4.9z"/><path fill="#e87059" d="M173.8 33.5h4.9v16.9h-4.9zM182.8 33.5h9.5v16.9h-9.5zM178.3 63.6h4.9v4.9h-4.9zM74.1 72.7h4.9v4.9h-4.9zM178.3 72.7h4.9v4.9h-4.9zM56 81.7h4.9v4.9h-4.9zM178.3 81.7h4.9v4.9h-4.9zM65.1 108.9h4.9v4.9h-4.9zM187.3 149.6h4.9v4.9h-4.9zM74.1 194.9h4.9v4.9h-4.9zM101.3 199.4h4.9v4.9h-4.9z"/><path fill="#e97257" d="M39.5 50h16.9v4.9h-16.9zM187.3 54.6h4.9v4.9h-4.9zM65.1 72.7h4.9v4.9h-4.9zM60.6 81.7h4.9v4.9h-4.9zM39.5 104.4h16.9v4.9h-16.9zM60.6 108.9h4.9v4.9h-4.9zM178.3 136.1h4.9v4.9h-4.9zM196.4 154.2h4.9v4.9h-4.9zM39.5 167.8h16.9v4.9h-16.9zM187.3 167.8h4.9v4.9h-4.9zM69.6 194.9h4.9v4.9h-4.9z"/><path fill="#eb7556" d="M83.2 50h4.9v4.9h-4.9zM39.5 63.6h16.9v4.9h-16.9zM74.1 63.6h4.9v4.9h-4.9zM173.8 63.6h4.9v4.9h-4.9zM60.6 68.1h4.9v4.9h-4.9zM178.3 104.4h4.9v4.9h-4.9zM56 108.9h4.9v4.9h-4.9zM60.6 117.9h4.9v4.9h-4.9zM178.3 127h4.9v4.9h-4.9zM39.5 145.1h16.9v4.9h-16.9zM39.5 154.2h26v4.9h-26zM78.7 190.4h4.9v4.9h-4.9z"/><path fill="#ec7754" d="M191.9 50h4.9v4.9h-4.9zM74.1 54.6h4.9v4.9h-4.9zM187.3 59.1h4.9v4.9h-4.9zM39.5 68.1h16.9v4.9h-16.9zM182.8 68.1h4.9v4.9h-4.9zM69.6 86.2h4.9v4.9h-4.9zM60.6 90.8h4.9v4.9h-4.9zM178.3 90.8h4.9v4.9h-4.9zM39.5 99.8h21.5v4.9h-21.5zM39.5 117.9h16.9v4.9h-16.9zM60.6 127h4.9v4.9h-4.9zM182.8 136.1h4.9v4.9h-4.9zM191.9 136.1h4.9v4.9h-4.9zM187.3 140.6h9.5v4.9h-9.5zM182.8 149.6h4.9v4.9h-4.9zM191.9 149.6h4.9v4.9h-4.9zM39.5 163.2h16.9v4.9h-16.9zM173.8 190.4h4.9v4.9h-4.9z"/><path fill="#ee7b51" d="M39.5 33.5h16.9v16.9h-16.9zM65.1 68.1h4.9v4.9h-4.9zM178.3 86.2h4.9v4.9h-4.9zM182.8 99.8h4.9v4.9h-4.9zM182.8 104.4h4.9v4.9h-4.9zM60.6 122.5h4.9v4.9h-4.9zM187.3 122.5h4.9v4.9h-4.9zM39.5 136.1h16.9v4.9h-16.9zM56 140.6h4.9v4.9h-4.9zM178.3 140.6h4.9v4.9h-4.9zM191.9 167.8h4.9v4.9h-4.9z"/><path fill="#ef7e50" d="M60.6 33.5h4.9v16.9h-4.9zM78.7 33.5h4.9v16.9h-4.9zM191.9 33.5h4.9v16.9h-4.9zM187.3 50h4.9v4.9h-4.9zM56 54.6h4.9v4.9h-4.9zM191.9 54.6h4.9v4.9h-4.9zM191.9 59.1h4.9v4.9h-4.9zM65.1 63.6h4.9v4.9h-4.9zM182.8 63.6h4.9v4.9h-4.9zM56 68.1h4.9v4.9h-4.9zM56 90.8h4.9v4.9h-4.9zM65.1 95.3h4.9v4.9h-4.9zM56 104.4h4.9v4.9h-4.9zM205.4 140.6h4.9v4.9h-4.9zM187.3 145.1h9.5v4.9h-9.5zM39.5 149.6h16.9v4.9h-16.9zM205.4 154.2h4.9v4.9h-4.9zM182.8 158.7h4.9v4.9h-4.9zM178.3 163.2h4.9v4.9h-4.9zM182.8 172.3h4.9v4.9h-4.9zM60.6 181.3h4.9v4.9h-4.9zM56 190.4h4.9v4.9h-4.9zM69.6 190.4h9.5v4.9h-9.5z"/><path fill="#f0804e" d="M205.4 33.5h4.9v16.9h-4.9zM39.5 54.6h16.9v4.9h-16.9zM69.6 59.1h4.9v4.9h-4.9zM182.8 72.7h4.9v4.9h-4.9zM69.6 77.2h4.9v4.9h-4.9zM39.5 81.7h16.9v4.9h-16.9zM60.6 86.2h4.9v4.9h-4.9zM60.6 104.4h4.9v4.9h-4.9zM60.6 113.4h4.9v4.9h-4.9zM196.4 136.1h4.9v4.9h-4.9zM182.8 140.6h4.9v4.9h-4.9zM210 145.1h16.9v4.9h-16.9zM196.4 158.7h4.9v4.9h-4.9zM56 176.8h4.9v4.9h-4.9zM178.3 176.8h4.9v4.9h-4.9zM65.1 185.9h4.9v4.9h-4.9zM60.6 190.4h4.9v4.9h-4.9zM92.2 199.4h4.9v4.9h-4.9zM65.1 204h9.5v16.9h-9.5zM92.2 204h4.9v16.9h-4.9z"/><path fill="#f1834c" d="M74.1 33.5h4.9v16.9h-4.9zM69.6 50h4.9v4.9h-4.9zM78.7 50h4.9v4.9h-4.9zM205.4 50h4.9v4.9h-4.9zM65.1 54.6h4.9v4.9h-4.9zM60.6 59.1h4.9v4.9h-4.9zM187.3 63.6h9.5v4.9h-9.5zM178.3 95.3h4.9v4.9h-4.9zM182.8 113.4h4.9v4.9h-4.9zM182.8 117.9h9.5v4.9h-9.5zM191.9 122.5h4.9v4.9h-4.9zM187.3 136.1h4.9v4.9h-4.9zM205.4 145.1h4.9v4.9h-4.9zM210 149.6h16.9v4.9h-16.9zM182.8 154.2h4.9v4.9h-4.9zM200.9 163.2h4.9v4.9h-4.9zM178.3 167.8h4.9v4.9h-4.9zM56 172.3h4.9v4.9h-4.9zM178.3 172.3h4.9v4.9h-4.9zM173.8 194.9h4.9v4.9h-4.9zM87.7 199.4h4.9v4.9h-4.9zM173.8 199.4h4.9v4.9h-4.9zM83.2 204h4.9v16.9h-4.9z"/><path fill="#f3854b" d="M178.3 50h4.9v4.9h-4.9zM178.3 68.1h4.9v4.9h-4.9zM187.3 90.8h4.9v4.9h-4.9zM56 95.3h4.9v4.9h-4.9zM182.8 95.3h4.9v4.9h-4.9zM60.6 99.8h4.9v4.9h-4.9zM39.5 113.4h16.9v4.9h-16.9zM178.3 113.4h4.9v4.9h-4.9zM200.9 127h4.9v4.9h-4.9zM210 131.5h16.9v4.9h-16.9zM187.3 158.7h4.9v4.9h-4.9zM182.8 167.8h4.9v4.9h-4.9zM39.5 190.4h16.9v4.9h-16.9zM78.7 194.9h4.9v4.9h-4.9z"/><path fill="#f48849" d="M56 50h4.9v4.9h-4.9zM210 50h16.9v4.9h-16.9zM60.6 63.6h4.9v4.9h-4.9zM196.4 63.6h4.9v4.9h-4.9zM69.6 68.1h4.9v4.9h-4.9zM60.6 77.2h4.9v4.9h-4.9zM182.8 77.2h4.9v4.9h-4.9zM187.3 81.7h4.9v4.9h-4.9zM200.9 95.3h4.9v4.9h-4.9zM187.3 99.8h4.9v4.9h-4.9zM39.5 108.9h16.9v4.9h-16.9zM56 131.5h4.9v4.9h-4.9zM205.4 136.1h4.9v4.9h-4.9zM39.5 140.6h16.9v4.9h-16.9zM200.9 140.6h4.9v4.9h-4.9zM56 145.1h4.9v4.9h-4.9zM56 149.6h4.9v4.9h-4.9zM56 158.7h4.9v4.9h-4.9zM191.9 158.7h4.9v4.9h-4.9zM200.9 158.7h4.9v4.9h-4.9zM191.9 163.2h4.9v4.9h-4.9zM178.3 185.9h4.9v4.9h-4.9zM56 194.9h9.5v4.9h-9.5zM78.7 199.4h4.9v4.9h-4.9zM87.7 204h4.9v16.9h-4.9z"/><path fill="#f58c46" d="M178.3 33.5h4.9v16.9h-4.9zM74.1 50h4.9v4.9h-4.9zM182.8 54.6h4.9v4.9h-4.9zM196.4 54.6h4.9v4.9h-4.9zM210 68.1h16.9v4.9h-16.9zM210 72.7h16.9v4.9h-16.9zM56 77.2h4.9v4.9h-4.9zM178.3 77.2h4.9v4.9h-4.9zM39.5 95.3h16.9v4.9h-16.9zM210 95.3h16.9v4.9h-16.9zM205.4 108.9h21.5v4.9h-21.5zM56 113.4h4.9v4.9h-4.9zM205.4 122.5h4.9v4.9h-4.9zM191.9 127h4.9v4.9h-4.9zM39.5 131.5h16.9v4.9h-16.9zM191.9 131.5h4.9v4.9h-4.9zM200.9 131.5h4.9v4.9h-4.9zM191.9 154.2h4.9v4.9h-4.9zM182.8 163.2h4.9v4.9h-4.9zM205.4 163.2h4.9v4.9h-4.9zM187.3 172.3h4.9v4.9h-4.9zM56 181.3h4.9v4.9h-4.9z"/><path fill="#f68f44" d="M69.6 33.5h4.9v16.9h-4.9zM60.6 50h4.9v4.9h-4.9zM178.3 54.6h4.9v4.9h-4.9zM205.4 54.6h4.9v4.9h-4.9zM182.8 59.1h4.9v4.9h-4.9zM210 63.6h16.9v4.9h-16.9zM39.5 72.7h16.9v4.9h-16.9zM60.6 72.7h4.9v4.9h-4.9zM191.9 72.7h9.5v4.9h-9.5zM65.1 77.2h4.9v4.9h-4.9zM187.3 77.2h4.9v4.9h-4.9zM182.8 81.7h4.9v4.9h-4.9zM210 81.7h16.9v4.9h-16.9zM187.3 86.2h4.9v4.9h-4.9zM39.5 90.8h16.9v4.9h-16.9zM182.8 90.8h4.9v4.9h-4.9zM182.8 108.9h4.9v4.9h-4.9zM205.4 113.4h4.9v4.9h-4.9zM39.5 122.5h16.9v4.9h-16.9zM187.3 131.5h4.9v4.9h-4.9zM210 136.1h16.9v4.9h-16.9zM200.9 145.1h4.9v4.9h-4.9zM200.9 149.6h4.9v4.9h-4.9zM187.3 163.2h4.9v4.9h-4.9zM196.4 163.2h4.9v4.9h-4.9zM74.1 204h4.9v16.9h-4.9z"/><path fill="#f79143" d="M196.4 50h4.9v4.9h-4.9zM69.6 54.6h4.9v4.9h-4.9zM210 54.6h16.9v4.9h-16.9zM69.6 63.6h4.9v4.9h-4.9zM187.3 72.7h4.9v4.9h-4.9zM196.4 77.2h4.9v4.9h-4.9zM205.4 86.2h4.9v4.9h-4.9zM200.9 99.8h4.9v4.9h-4.9zM187.3 104.4h4.9v4.9h-4.9zM196.4 108.9h4.9v4.9h-4.9zM56 127h4.9v4.9h-4.9zM200.9 154.2h4.9v4.9h-4.9zM191.9 172.3h9.5v4.9h-9.5zM178.3 181.3h4.9v4.9h-4.9zM83.2 199.4h4.9v4.9h-4.9z"/><path fill="#f89441" d="M60.6 54.6h4.9v4.9h-4.9zM200.9 63.6h4.9v4.9h-4.9zM196.4 68.1h4.9v4.9h-4.9zM205.4 72.7h4.9v4.9h-4.9zM39.5 86.2h21.5v4.9h-21.5zM182.8 86.2h4.9v4.9h-4.9zM196.4 117.9h4.9v4.9h-4.9zM56 122.5h4.9v4.9h-4.9zM39.5 127h16.9v4.9h-16.9zM182.8 127h4.9v4.9h-4.9zM56 136.1h4.9v4.9h-4.9zM205.4 167.8h4.9v4.9h-4.9zM200.9 172.3h4.9v4.9h-4.9zM196.4 176.8h4.9v4.9h-4.9zM56 185.9h4.9v4.9h-4.9zM74.1 199.4h4.9v4.9h-4.9zM78.7 204h4.9v16.9h-4.9z"/><path fill="#f9973f" d="M56 33.5h4.9v16.9h-4.9zM196.4 33.5h4.9v16.9h-4.9zM210 33.5h16.9v16.9h-16.9zM39.5 77.2h16.9v4.9h-16.9zM210 77.2h16.9v4.9h-16.9zM196.4 81.7h4.9v4.9h-4.9zM205.4 81.7h4.9v4.9h-4.9zM196.4 95.3h4.9v4.9h-4.9zM210 99.8h16.9v4.9h-16.9zM187.3 108.9h4.9v4.9h-4.9zM56 117.9h4.9v4.9h-4.9zM182.8 122.5h4.9v4.9h-4.9zM200.9 122.5h4.9v4.9h-4.9zM210 122.5h16.9v4.9h-16.9zM187.3 127h4.9v4.9h-4.9zM196.4 127h4.9v4.9h-4.9zM196.4 149.6h4.9v4.9h-4.9zM210 158.7h16.9v4.9h-16.9zM196.4 167.8h4.9v4.9h-4.9zM39.5 185.9h16.9v4.9h-16.9zM182.8 194.9h4.9v4.9h-4.9zM60.6 199.4h4.9v4.9h-4.9zM60.6 204h4.9v16.9h-4.9z"/><path fill="#f99a3e" d="M200.9 54.6h4.9v4.9h-4.9zM39.5 59.1h21.5v4.9h-21.5zM65.1 59.1h4.9v4.9h-4.9zM205.4 59.1h4.9v4.9h-4.9zM205.4 63.6h4.9v4.9h-4.9zM205.4 68.1h4.9v4.9h-4.9zM200.9 77.2h4.9v4.9h-4.9zM196.4 86.2h4.9v4.9h-4.9zM210 86.2h16.9v4.9h-16.9zM200.9 90.8h4.9v4.9h-4.9zM205.4 104.4h4.9v4.9h-4.9zM205.4 131.5h4.9v4.9h-4.9zM196.4 140.6h4.9v4.9h-4.9zM196.4 145.1h4.9v4.9h-4.9zM210 154.2h16.9v4.9h-16.9zM205.4 158.7h4.9v4.9h-4.9zM187.3 181.3h4.9v4.9h-4.9zM178.3 190.4h4.9v4.9h-4.9zM178.3 194.9h4.9v4.9h-4.9zM182.8 204h4.9v16.9h-4.9z"/><path fill="#fa9c3c" d="M65.1 33.5h4.9v16.9h-4.9zM200.9 33.5h4.9v16.9h-4.9zM196.4 59.1h4.9v4.9h-4.9zM56 63.6h4.9v4.9h-4.9zM187.3 68.1h9.5v4.9h-9.5zM200.9 68.1h4.9v4.9h-4.9zM56 72.7h4.9v4.9h-4.9zM191.9 81.7h4.9v4.9h-4.9zM205.4 90.8h4.9v4.9h-4.9zM191.9 95.3h4.9v4.9h-4.9zM205.4 99.8h4.9v4.9h-4.9zM210 140.6h16.9v4.9h-16.9zM205.4 149.6h4.9v4.9h-4.9zM182.8 176.8h4.9v4.9h-4.9zM65.1 194.9h4.9v4.9h-4.9zM69.6 199.4h4.9v4.9h-4.9zM178.3 204h4.9v16.9h-4.9z"/><path fill="#fba139" d="M65.1 50h4.9v4.9h-4.9zM200.9 50h4.9v4.9h-4.9zM200.9 59.1h4.9v4.9h-4.9zM191.9 77.2h4.9v4.9h-4.9zM200.9 108.9h4.9v4.9h-4.9zM187.3 113.4h4.9v4.9h-4.9zM205.4 117.9h4.9v4.9h-4.9zM210 163.2h16.9v4.9h-16.9zM200.9 167.8h4.9v4.9h-4.9zM191.9 181.3h4.9v4.9h-4.9zM187.3 190.4h4.9v4.9h-4.9z"/><path fill="#fca338" d="M196.4 131.5h4.9v4.9h-4.9zM200.9 136.1h4.9v4.9h-4.9zM191.9 185.9h4.9v4.9h-4.9zM65.1 199.4h4.9v4.9h-4.9zM39.5 204h16.9v16.9h-16.9z"/><path fill="#fca636" d="M205.4 77.2h4.9v4.9h-4.9zM196.4 90.8h4.9v4.9h-4.9zM210 104.4h16.9v4.9h-16.9zM210 127h16.9v4.9h-16.9zM187.3 176.8h4.9v4.9h-4.9zM182.8 181.3h4.9v4.9h-4.9z"/><path fill="#fca934" d="M210 59.1h16.9v4.9h-16.9zM200.9 72.7h4.9v4.9h-4.9zM200.9 86.2h4.9v4.9h-4.9zM187.3 95.3h4.9v4.9h-4.9zM205.4 95.3h4.9v4.9h-4.9zM191.9 104.4h4.9v4.9h-4.9zM210 113.4h16.9v4.9h-16.9zM200.9 117.9h4.9v4.9h-4.9zM205.4 127h4.9v4.9h-4.9zM200.9 181.3h4.9v4.9h-4.9zM39.5 194.9h16.9v4.9h-16.9zM191.9 204h4.9v16.9h-4.9z"/><path fill="#fdac33" d="M210 90.8h16.9v4.9h-16.9zM196.4 99.8h4.9v4.9h-4.9zM196.4 113.4h9.5v4.9h-9.5zM191.9 117.9h4.9v4.9h-4.9zM196.4 122.5h4.9v4.9h-4.9zM210 172.3h16.9v4.9h-16.9zM200.9 176.8h4.9v4.9h-4.9zM182.8 185.9h4.9v4.9h-4.9zM210 185.9h16.9v4.9h-16.9zM39.5 199.4h21.5v4.9h-21.5zM178.3 199.4h4.9v4.9h-4.9z"/><path fill="#fdaf31" d="M200.9 104.4h4.9v4.9h-4.9zM191.9 108.9h4.9v4.9h-4.9zM191.9 113.4h4.9v4.9h-4.9zM210 117.9h16.9v4.9h-16.9zM191.9 176.8h4.9v4.9h-4.9zM205.4 181.3h4.9v4.9h-4.9zM200.9 185.9h4.9v4.9h-4.9zM196.4 194.9h4.9v4.9h-4.9zM187.3 199.4h9.5v4.9h-9.5zM56 204h4.9v16.9h-4.9z"/><path fill="#fdb22f" d="M200.9 81.7h4.9v4.9h-4.9zM196.4 104.4h4.9v4.9h-4.9zM205.4 172.3h4.9v4.9h-4.9zM182.8 199.4h4.9v4.9h-4.9z"/><path fill="#feb72d" d="M191.9 86.2h4.9v4.9h-4.9zM191.9 90.8h4.9v4.9h-4.9zM191.9 99.8h4.9v4.9h-4.9zM205.4 176.8h21.5v4.9h-21.5zM196.4 185.9h4.9v4.9h-4.9zM182.8 190.4h4.9v4.9h-4.9z"/><path fill="#feba2c" d="M210 167.8h16.9v4.9h-16.9zM210 190.4h16.9v4.9h-16.9zM187.3 194.9h4.9v4.9h-4.9zM200.9 194.9h4.9v4.9h-4.9zM210 194.9h16.9v4.9h-16.9zM205.4 199.4h4.9v4.9h-4.9z"/><path fill="#febd2a" d="M187.3 185.9h4.9v4.9h-4.9zM205.4 185.9h4.9v4.9h-4.9zM196.4 204h4.9v16.9h-4.9z"/><path fill="#fec029" d="M196.4 190.4h4.9v4.9h-4.9z"/><path fill="#fdc328" d="M196.4 181.3h4.9v4.9h-4.9zM205.4 194.9h4.9v4.9h-4.9zM196.4 199.4h9.5v4.9h-9.5zM187.3 204h4.9v16.9h-4.9zM210 204h16.9v16.9h-16.9z"/><path fill="#fdc627" d="M191.9 190.4h4.9v4.9h-4.9z"/><path fill="#fdcb26" d="M200.9 204h9.5v16.9h-9.5z"/><path fill="#fcce25" d="M210 181.3h16.9v4.9h-16.9zM191.9 194.9h4.9v4.9h-4.9z"/><path fill="#fcd225" d="M200.9 190.4h4.9v4.9h-4.9z"/><path fill="#fad824" d="M205.4 190.4h4.9v4.9h-4.9z"/><path fill="#f7e425" d="M210 199.4h16.9v4.9h-16.9z"/><polygon fill="#220690" points="150,84 160,80 165,95 165,150 163,182 158,193 150,193"/><polygon fill="#0d0887" points="121,92 126,86 133,90 134,181 128,186 121,178"/><polygon fill="#0d0887" points="140,100 146,96 151,104 151,142 146,146 140,140"/><polygon fill="#0d0887" points="135,146 152,141 163,150 163,180 157,192 151,201 146,192 135,184"/></g></g>
<rect x="51.5" y="45.5" width="163.0" height="163.0" fill="none" stroke="#000" stroke-width="0.8"/>
<path d="M51.5 45.5h-3M51.5 208.5h-3M51.5 208.5v3M214.5 208.5v3" stroke="#000" stroke-width="0.8" fill="none"/>
<text class="k" x="44.8" y="49.8" text-anchor="end"><tspan font-size="8px" dy="-1.1">−</tspan><tspan dy="1.1" dx="-0.4">4.48</tspan></text><text class="k" x="44.8" y="212.1" text-anchor="end">4.48</text><text class="k" x="51.2" y="223.8" text-anchor="middle"><tspan font-size="8px" dy="-1.1">−</tspan><tspan dy="1.1" dx="-0.4">4.48</tspan></text><text class="k" x="214.5" y="223.8" text-anchor="middle">4.48</text>
<text class="t" x="133.0" y="21.7">Robust AE</text><text class="t" x="134.7" y="39.8">Normalized Edit Distance</text>
<rect x="225.3" y="45.5" width="8.4" height="163.0" fill="url(#pl)" stroke="#000" stroke-width="0.8"/>
<path d="M233.7 208.5h2.6" stroke="#000" stroke-width="0.8"/><text class="c" x="239.1" y="211.4">+0.00</text><path d="M233.7 172.4h2.6" stroke="#000" stroke-width="0.8"/><text class="c" x="239.1" y="175.3">+0.20</text><path d="M233.7 136.2h2.6" stroke="#000" stroke-width="0.8"/><text class="c" x="239.1" y="139.1">+0.40</text><path d="M233.7 100.1h2.6" stroke="#000" stroke-width="0.8"/><text class="c" x="239.1" y="103.0">+0.60</text><path d="M233.7 64.0h2.6" stroke="#000" stroke-width="0.8"/><text class="c" x="239.1" y="66.9">+0.80</text>
<g clip-path="url(#ctr)"><g filter="url(#ftr)" shape-rendering="crispEdges"><path fill="#130789" d="M398.2 99.8h4.9v4.9h-4.9zM425.4 117.9h4.9v4.9h-4.9zM398.2 122.5h4.9v4.9h-4.9zM425.4 127h4.9v4.9h-4.9zM420.9 140.6h9.5v4.9h-9.5zM420.9 145.1h4.9v4.9h-4.9zM398.2 154.2h4.9v4.9h-4.9zM398.2 158.7h4.9v4.9h-4.9zM398.2 163.2h4.9v4.9h-4.9z"/><path fill="#19068c" d="M398.2 90.8h4.9v4.9h-4.9zM393.7 99.8h4.9v4.9h-4.9zM425.4 104.4h4.9v4.9h-4.9zM398.2 108.9h4.9v4.9h-4.9zM425.4 108.9h4.9v4.9h-4.9zM425.4 113.4h4.9v4.9h-4.9zM398.2 117.9h4.9v4.9h-4.9zM425.4 122.5h4.9v4.9h-4.9zM398.2 131.5h4.9v4.9h-4.9zM420.9 131.5h9.5v4.9h-9.5zM425.4 136.1h4.9v4.9h-4.9zM398.2 140.6h4.9v4.9h-4.9zM407.3 140.6h4.9v4.9h-4.9zM389.2 145.1h14v4.9h-14zM416.4 145.1h4.9v4.9h-4.9zM425.4 145.1h4.9v4.9h-4.9zM398.2 149.6h4.9v4.9h-4.9zM420.9 149.6h9.5v4.9h-9.5zM402.8 154.2h4.9v4.9h-4.9zM425.4 154.2h4.9v4.9h-4.9zM402.8 158.7h4.9v4.9h-4.9zM420.9 158.7h9.5v4.9h-9.5z"/><path fill="#1d068e" d="M398.2 63.6h4.9v4.9h-4.9zM407.3 68.1h4.9v4.9h-4.9zM402.8 72.7h9.5v4.9h-9.5zM402.8 77.2h4.9v4.9h-4.9zM416.4 81.7h4.9v4.9h-4.9zM402.8 90.8h4.9v4.9h-4.9zM425.4 90.8h4.9v4.9h-4.9zM393.7 95.3h9.5v4.9h-9.5zM425.4 95.3h4.9v4.9h-4.9zM425.4 99.8h4.9v4.9h-4.9zM393.7 104.4h9.5v4.9h-9.5zM398.2 113.4h4.9v4.9h-4.9zM420.9 122.5h4.9v4.9h-4.9zM398.2 127h9.5v4.9h-9.5zM416.4 127h4.9v4.9h-4.9zM407.3 131.5h4.9v4.9h-4.9zM398.2 136.1h4.9v4.9h-4.9zM407.3 136.1h4.9v4.9h-4.9zM420.9 136.1h4.9v4.9h-4.9zM402.8 140.6h4.9v4.9h-4.9zM416.4 140.6h4.9v4.9h-4.9zM402.8 145.1h14v4.9h-14zM393.7 149.6h4.9v4.9h-4.9zM402.8 149.6h9.5v4.9h-9.5zM416.4 149.6h4.9v4.9h-4.9zM393.7 154.2h4.9v4.9h-4.9zM407.3 154.2h4.9v4.9h-4.9zM420.9 154.2h4.9v4.9h-4.9zM393.7 158.7h4.9v4.9h-4.9zM425.4 163.2h4.9v4.9h-4.9zM398.2 167.8h4.9v4.9h-4.9zM416.4 167.8h4.9v4.9h-4.9z"/><path fill="#220690" d="M411.8 63.6h4.9v4.9h-4.9zM398.2 68.1h9.5v4.9h-9.5zM411.8 68.1h4.9v4.9h-4.9zM398.2 72.7h4.9v4.9h-4.9zM398.2 77.2h4.9v4.9h-4.9zM407.3 77.2h23v4.9h-23zM389.2 81.7h4.9v4.9h-4.9zM398.2 81.7h14v4.9h-14zM420.9 81.7h4.9v4.9h-4.9zM393.7 86.2h14v4.9h-14zM389.2 90.8h9.5v4.9h-9.5zM384.7 95.3h4.9v4.9h-4.9zM402.8 95.3h4.9v4.9h-4.9zM402.8 99.8h4.9v4.9h-4.9zM402.8 104.4h4.9v4.9h-4.9zM393.7 108.9h4.9v4.9h-4.9zM402.8 108.9h4.9v4.9h-4.9zM389.2 113.4h9.5v4.9h-9.5zM420.9 113.4h4.9v4.9h-4.9zM393.7 117.9h4.9v4.9h-4.9zM416.4 117.9h9.5v4.9h-9.5zM402.8 122.5h4.9v4.9h-4.9zM407.3 127h4.9v4.9h-4.9zM420.9 127h4.9v4.9h-4.9zM402.8 131.5h4.9v4.9h-4.9zM416.4 131.5h4.9v4.9h-4.9zM402.8 136.1h4.9v4.9h-4.9zM416.4 136.1h4.9v4.9h-4.9zM389.2 140.6h9.5v4.9h-9.5zM411.8 140.6h4.9v4.9h-4.9zM384.7 145.1h4.9v4.9h-4.9zM384.7 149.6h9.5v4.9h-9.5zM407.3 158.7h4.9v4.9h-4.9zM402.8 163.2h4.9v4.9h-4.9zM420.9 163.2h4.9v4.9h-4.9zM402.8 167.8h4.9v4.9h-4.9zM411.8 167.8h4.9v4.9h-4.9zM425.4 167.8h4.9v4.9h-4.9zM398.2 172.3h18.5v4.9h-18.5zM402.8 176.8h4.9v4.9h-4.9z"/><path fill="#260591" d="M416.4 63.6h4.9v4.9h-4.9zM416.4 68.1h4.9v4.9h-4.9zM393.7 72.7h4.9v4.9h-4.9zM411.8 72.7h4.9v4.9h-4.9zM389.2 77.2h9.5v4.9h-9.5zM384.7 81.7h4.9v4.9h-4.9zM393.7 81.7h4.9v4.9h-4.9zM411.8 81.7h4.9v4.9h-4.9zM425.4 81.7h4.9v4.9h-4.9zM407.3 86.2h4.9v4.9h-4.9zM420.9 86.2h9.5v4.9h-9.5zM384.7 90.8h4.9v4.9h-4.9zM420.9 90.8h4.9v4.9h-4.9zM416.4 95.3h4.9v4.9h-4.9zM389.2 99.8h4.9v4.9h-4.9zM420.9 99.8h4.9v4.9h-4.9zM407.3 104.4h4.9v4.9h-4.9zM420.9 104.4h4.9v4.9h-4.9zM389.2 108.9h4.9v4.9h-4.9zM407.3 108.9h4.9v4.9h-4.9zM420.9 108.9h4.9v4.9h-4.9zM402.8 113.4h4.9v4.9h-4.9zM402.8 117.9h4.9v4.9h-4.9zM393.7 122.5h4.9v4.9h-4.9zM407.3 122.5h4.9v4.9h-4.9zM393.7 127h4.9v4.9h-4.9zM411.8 131.5h4.9v4.9h-4.9zM393.7 136.1h4.9v4.9h-4.9zM411.8 136.1h4.9v4.9h-4.9zM384.7 140.6h4.9v4.9h-4.9zM411.8 149.6h4.9v4.9h-4.9zM416.4 154.2h4.9v4.9h-4.9zM416.4 158.7h4.9v4.9h-4.9zM407.3 163.2h4.9v4.9h-4.9zM416.4 163.2h4.9v4.9h-4.9zM393.7 167.8h4.9v4.9h-4.9zM407.3 167.8h4.9v4.9h-4.9zM420.9 167.8h4.9v4.9h-4.9zM416.4 172.3h14v4.9h-14zM398.2 176.8h4.9v4.9h-4.9zM425.4 176.8h4.9v4.9h-4.9zM398.2 181.3h14v4.9h-14z"/><path fill="#2a0593" d="M402.8 63.6h9.5v4.9h-9.5zM416.4 72.7h4.9v4.9h-4.9zM384.7 77.2h4.9v4.9h-4.9zM389.2 86.2h4.9v4.9h-4.9zM416.4 86.2h4.9v4.9h-4.9zM407.3 90.8h9.5v4.9h-9.5zM389.2 95.3h4.9v4.9h-4.9zM420.9 95.3h4.9v4.9h-4.9zM384.7 99.8h4.9v4.9h-4.9zM407.3 99.8h14v4.9h-14zM389.2 104.4h4.9v4.9h-4.9zM416.4 104.4h4.9v4.9h-4.9zM384.7 108.9h4.9v4.9h-4.9zM416.4 108.9h4.9v4.9h-4.9zM407.3 113.4h4.9v4.9h-4.9zM389.2 117.9h4.9v4.9h-4.9zM407.3 117.9h4.9v4.9h-4.9zM389.2 122.5h4.9v4.9h-4.9zM416.4 122.5h4.9v4.9h-4.9zM389.2 127h4.9v4.9h-4.9zM393.7 131.5h4.9v4.9h-4.9zM411.8 154.2h4.9v4.9h-4.9zM389.2 158.7h4.9v4.9h-4.9zM411.8 158.7h4.9v4.9h-4.9zM393.7 163.2h4.9v4.9h-4.9zM411.8 163.2h4.9v4.9h-4.9zM407.3 176.8h18.5v4.9h-18.5zM398.2 185.9h18.5v4.9h-18.5z"/><path fill="#2f0596" d="M398.2 59.1h4.9v4.9h-4.9zM407.3 59.1h4.9v4.9h-4.9zM384.7 72.7h9.5v4.9h-9.5zM384.7 86.2h4.9v4.9h-4.9zM416.4 90.8h4.9v4.9h-4.9zM407.3 95.3h9.5v4.9h-9.5zM384.7 104.4h4.9v4.9h-4.9zM411.8 104.4h4.9v4.9h-4.9zM384.7 117.9h4.9v4.9h-4.9zM411.8 117.9h4.9v4.9h-4.9zM384.7 122.5h4.9v4.9h-4.9zM411.8 127h4.9v4.9h-4.9zM389.2 131.5h4.9v4.9h-4.9zM384.7 136.1h9.5v4.9h-9.5zM384.7 154.2h9.5v4.9h-9.5zM389.2 163.2h4.9v4.9h-4.9zM393.7 172.3h4.9v4.9h-4.9zM411.8 181.3h9.5v4.9h-9.5zM416.4 185.9h4.9v4.9h-4.9zM398.2 190.4h9.5v4.9h-9.5z"/><path fill="#330597" d="M402.8 59.1h4.9v4.9h-4.9zM411.8 59.1h4.9v4.9h-4.9zM389.2 63.6h9.5v4.9h-9.5zM393.7 68.1h4.9v4.9h-4.9zM420.9 68.1h4.9v4.9h-4.9zM420.9 72.7h9.5v4.9h-9.5zM411.8 86.2h4.9v4.9h-4.9zM380.1 90.8h4.9v4.9h-4.9zM384.7 113.4h4.9v4.9h-4.9zM416.4 113.4h4.9v4.9h-4.9zM411.8 122.5h4.9v4.9h-4.9zM384.7 131.5h4.9v4.9h-4.9zM384.7 158.7h4.9v4.9h-4.9zM420.9 181.3h9.5v4.9h-9.5zM420.9 185.9h4.9v4.9h-4.9zM407.3 190.4h4.9v4.9h-4.9z"/><path fill="#370499" d="M398.2 33.5h4.9v16.9h-4.9zM384.7 63.6h4.9v4.9h-4.9zM384.7 68.1h9.5v4.9h-9.5zM380.1 86.2h4.9v4.9h-4.9zM384.7 127h4.9v4.9h-4.9zM416.4 190.4h4.9v4.9h-4.9zM407.3 194.9h4.9v4.9h-4.9z"/><path fill="#3a049a" d="M398.2 50h4.9v4.9h-4.9zM425.4 68.1h4.9v4.9h-4.9zM411.8 108.9h4.9v4.9h-4.9zM380.1 113.4h4.9v4.9h-4.9zM411.8 113.4h4.9v4.9h-4.9zM380.1 145.1h4.9v4.9h-4.9zM411.8 190.4h4.9v4.9h-4.9zM411.8 204h4.9v16.9h-4.9z"/><path fill="#3e049c" d="M402.8 33.5h4.9v16.9h-4.9zM398.2 54.6h4.9v4.9h-4.9zM407.3 54.6h4.9v4.9h-4.9zM393.7 59.1h4.9v4.9h-4.9zM380.1 81.7h4.9v4.9h-4.9zM380.1 99.8h4.9v4.9h-4.9zM380.1 104.4h4.9v4.9h-4.9zM384.7 163.2h4.9v4.9h-4.9zM393.7 176.8h4.9v4.9h-4.9zM393.7 181.3h4.9v4.9h-4.9zM411.8 194.9h4.9v4.9h-4.9zM411.8 199.4h4.9v4.9h-4.9z"/><path fill="#41049d" d="M407.3 33.5h9.5v16.9h-9.5zM402.8 50h4.9v4.9h-4.9zM411.8 50h4.9v4.9h-4.9zM402.8 54.6h4.9v4.9h-4.9zM411.8 54.6h4.9v4.9h-4.9zM420.9 63.6h4.9v4.9h-4.9zM380.1 95.3h4.9v4.9h-4.9zM380.1 108.9h4.9v4.9h-4.9zM380.1 117.9h4.9v4.9h-4.9zM380.1 122.5h4.9v4.9h-4.9zM380.1 127h4.9v4.9h-4.9zM429.9 127h4.9v4.9h-4.9zM429.9 145.1h4.9v4.9h-4.9zM425.4 185.9h4.9v4.9h-4.9zM398.2 194.9h4.9v4.9h-4.9zM416.4 194.9h4.9v4.9h-4.9zM398.2 199.4h4.9v4.9h-4.9z"/><path fill="#44039e" d="M416.4 54.6h4.9v4.9h-4.9zM416.4 59.1h4.9v4.9h-4.9zM425.4 63.6h4.9v4.9h-4.9zM375.6 81.7h4.9v4.9h-4.9zM384.7 167.8h9.5v4.9h-9.5zM389.2 172.3h4.9v4.9h-4.9zM393.7 185.9h4.9v4.9h-4.9zM402.8 194.9h4.9v4.9h-4.9zM402.8 199.4h4.9v4.9h-4.9zM416.4 199.4h4.9v4.9h-4.9z"/><path fill="#4903a0" d="M380.1 77.2h4.9v4.9h-4.9zM375.6 86.2h4.9v4.9h-4.9zM375.6 95.3h4.9v4.9h-4.9zM429.9 104.4h4.9v4.9h-4.9zM429.9 108.9h4.9v4.9h-4.9zM380.1 136.1h4.9v4.9h-4.9zM429.9 149.6h4.9v4.9h-4.9zM429.9 158.7h4.9v4.9h-4.9zM389.2 181.3h4.9v4.9h-4.9zM420.9 190.4h4.9v4.9h-4.9zM407.3 199.4h4.9v4.9h-4.9zM420.9 199.4h4.9v4.9h-4.9zM398.2 204h4.9v16.9h-4.9z"/><path fill="#4c02a1" d="M407.3 50h4.9v4.9h-4.9zM416.4 50h4.9v4.9h-4.9zM380.1 72.7h4.9v4.9h-4.9zM375.6 90.8h4.9v4.9h-4.9zM429.9 95.3h4.9v4.9h-4.9zM375.6 104.4h4.9v4.9h-4.9zM429.9 122.5h4.9v4.9h-4.9zM429.9 131.5h4.9v4.9h-4.9zM380.1 149.6h4.9v4.9h-4.9zM389.2 190.4h4.9v4.9h-4.9zM425.4 199.4h4.9v4.9h-4.9zM402.8 204h9.5v16.9h-9.5zM420.9 204h4.9v16.9h-4.9z"/><path fill="#5002a2" d="M420.9 59.1h4.9v4.9h-4.9zM429.9 99.8h4.9v4.9h-4.9zM375.6 113.4h4.9v4.9h-4.9zM429.9 113.4h4.9v4.9h-4.9zM380.1 140.6h4.9v4.9h-4.9zM380.1 154.2h4.9v4.9h-4.9zM429.9 154.2h4.9v4.9h-4.9zM429.9 167.8h4.9v4.9h-4.9zM384.7 172.3h4.9v4.9h-4.9zM389.2 176.8h4.9v4.9h-4.9zM389.2 185.9h4.9v4.9h-4.9zM420.9 194.9h4.9v4.9h-4.9z"/><path fill="#5302a3" d="M389.2 59.1h4.9v4.9h-4.9zM375.6 77.2h4.9v4.9h-4.9zM371.1 86.2h4.9v4.9h-4.9zM375.6 108.9h4.9v4.9h-4.9zM429.9 117.9h4.9v4.9h-4.9zM380.1 131.5h4.9v4.9h-4.9zM429.9 136.1h4.9v4.9h-4.9zM429.9 140.6h4.9v4.9h-4.9zM393.7 190.4h4.9v4.9h-4.9zM425.4 190.4h4.9v4.9h-4.9zM393.7 204h4.9v16.9h-4.9zM416.4 204h4.9v16.9h-4.9z"/><path fill="#5601a4" d="M393.7 54.6h4.9v4.9h-4.9zM429.9 86.2h4.9v4.9h-4.9zM429.9 90.8h4.9v4.9h-4.9zM375.6 99.8h4.9v4.9h-4.9zM371.1 104.4h4.9v4.9h-4.9zM375.6 127h4.9v4.9h-4.9zM429.9 163.2h4.9v4.9h-4.9zM393.7 194.9h4.9v4.9h-4.9zM425.4 194.9h4.9v4.9h-4.9zM393.7 199.4h4.9v4.9h-4.9z"/><path fill="#5901a5" d="M393.7 50h4.9v4.9h-4.9zM425.4 59.1h4.9v4.9h-4.9zM380.1 167.8h4.9v4.9h-4.9zM380.1 172.3h4.9v4.9h-4.9zM429.9 172.3h4.9v4.9h-4.9zM384.7 176.8h4.9v4.9h-4.9zM425.4 204h4.9v16.9h-4.9z"/><path fill="#5e01a6" d="M416.4 33.5h4.9v16.9h-4.9zM420.9 54.6h9.5v4.9h-9.5zM380.1 68.1h4.9v4.9h-4.9zM429.9 72.7h4.9v4.9h-4.9zM371.1 77.2h4.9v4.9h-4.9zM371.1 90.8h4.9v4.9h-4.9zM371.1 95.3h4.9v4.9h-4.9zM375.6 154.2h4.9v4.9h-4.9zM380.1 158.7h4.9v4.9h-4.9zM380.1 163.2h4.9v4.9h-4.9zM384.7 181.3h4.9v4.9h-4.9zM384.7 194.9h4.9v4.9h-4.9zM384.7 199.4h9.5v4.9h-9.5z"/><path fill="#6100a7" d="M393.7 33.5h4.9v16.9h-4.9zM429.9 63.6h4.9v4.9h-4.9zM371.1 81.7h4.9v4.9h-4.9zM366.6 90.8h4.9v4.9h-4.9zM371.1 108.9h4.9v4.9h-4.9zM375.6 145.1h4.9v4.9h-4.9zM375.6 149.6h4.9v4.9h-4.9zM380.1 176.8h4.9v4.9h-4.9zM389.2 204h4.9v16.9h-4.9z"/><path fill="#6400a7" d="M429.9 68.1h4.9v4.9h-4.9zM429.9 81.7h4.9v4.9h-4.9zM366.6 95.3h4.9v4.9h-4.9zM371.1 99.8h4.9v4.9h-4.9zM375.6 122.5h4.9v4.9h-4.9zM429.9 181.3h4.9v4.9h-4.9zM384.7 185.9h4.9v4.9h-4.9zM384.7 190.4h4.9v4.9h-4.9zM389.2 194.9h4.9v4.9h-4.9z"/><path fill="#6700a8" d="M384.7 59.1h4.9v4.9h-4.9zM429.9 59.1h4.9v4.9h-4.9zM380.1 63.6h4.9v4.9h-4.9zM375.6 72.7h4.9v4.9h-4.9zM429.9 77.2h4.9v4.9h-4.9zM375.6 117.9h4.9v4.9h-4.9zM375.6 136.1h4.9v4.9h-4.9zM429.9 176.8h4.9v4.9h-4.9zM380.1 185.9h4.9v4.9h-4.9zM429.9 185.9h4.9v4.9h-4.9z"/><path fill="#6a00a8" d="M420.9 50h9.5v4.9h-9.5zM389.2 54.6h4.9v4.9h-4.9zM366.6 86.2h4.9v4.9h-4.9zM371.1 122.5h4.9v4.9h-4.9zM375.6 131.5h4.9v4.9h-4.9zM434.5 149.6h4.9v4.9h-4.9z"/><path fill="#6e00a8" d="M389.2 33.5h4.9v16.9h-4.9zM420.9 33.5h9.5v16.9h-9.5zM384.7 54.6h4.9v4.9h-4.9zM375.6 68.1h4.9v4.9h-4.9zM371.1 113.4h4.9v4.9h-4.9zM371.1 127h4.9v4.9h-4.9zM375.6 140.6h4.9v4.9h-4.9zM375.6 158.7h4.9v4.9h-4.9zM434.5 167.8h4.9v4.9h-4.9zM429.9 190.4h4.9v4.9h-4.9zM384.7 204h4.9v16.9h-4.9z"/><path fill="#7100a8" d="M366.6 81.7h4.9v4.9h-4.9zM366.6 117.9h4.9v4.9h-4.9zM434.5 117.9h4.9v4.9h-4.9zM366.6 127h4.9v4.9h-4.9z"/><path fill="#7501a8" d="M371.1 72.7h4.9v4.9h-4.9zM366.6 77.2h4.9v4.9h-4.9zM434.5 90.8h4.9v4.9h-4.9zM366.6 99.8h4.9v4.9h-4.9zM434.5 127h4.9v4.9h-4.9zM371.1 154.2h4.9v4.9h-4.9zM375.6 167.8h4.9v4.9h-4.9zM429.9 204h4.9v16.9h-4.9z"/><path fill="#7801a8" d="M434.5 81.7h4.9v4.9h-4.9zM362 104.4h9.5v4.9h-9.5zM366.6 113.4h4.9v4.9h-4.9zM434.5 131.5h4.9v4.9h-4.9zM371.1 140.6h4.9v4.9h-4.9zM434.5 140.6h4.9v4.9h-4.9zM434.5 145.1h4.9v4.9h-4.9zM375.6 172.3h4.9v4.9h-4.9zM380.1 190.4h4.9v4.9h-4.9zM380.1 194.9h4.9v4.9h-4.9z"/><path fill="#7b02a8" d="M389.2 50h4.9v4.9h-4.9zM380.1 59.1h4.9v4.9h-4.9zM362 95.3h4.9v4.9h-4.9zM362 108.9h4.9v4.9h-4.9zM357.5 113.4h9.5v4.9h-9.5zM434.5 113.4h4.9v4.9h-4.9zM371.1 117.9h4.9v4.9h-4.9zM366.6 122.5h4.9v4.9h-4.9zM371.1 131.5h4.9v4.9h-4.9zM371.1 149.6h4.9v4.9h-4.9zM371.1 158.7h4.9v4.9h-4.9zM434.5 163.2h4.9v4.9h-4.9zM380.1 181.3h4.9v4.9h-4.9zM375.6 194.9h4.9v4.9h-4.9z"/><path fill="#7e03a8" d="M357.5 104.4h4.9v4.9h-4.9zM357.5 108.9h4.9v4.9h-4.9zM366.6 108.9h4.9v4.9h-4.9zM357.5 117.9h4.9v4.9h-4.9zM434.5 122.5h4.9v4.9h-4.9zM366.6 140.6h4.9v4.9h-4.9zM434.5 154.2h4.9v4.9h-4.9zM434.5 158.7h4.9v4.9h-4.9zM375.6 163.2h4.9v4.9h-4.9zM375.6 185.9h4.9v4.9h-4.9zM380.1 199.4h4.9v4.9h-4.9zM380.1 204h4.9v16.9h-4.9z"/><path fill="#8104a7" d="M429.9 54.6h4.9v4.9h-4.9zM434.5 63.6h4.9v4.9h-4.9zM371.1 68.1h4.9v4.9h-4.9zM434.5 95.3h4.9v4.9h-4.9zM371.1 145.1h4.9v4.9h-4.9zM371.1 172.3h4.9v4.9h-4.9zM434.5 176.8h4.9v4.9h-4.9zM429.9 194.9h4.9v4.9h-4.9zM429.9 199.4h4.9v4.9h-4.9z"/><path fill="#8405a7" d="M362 86.2h4.9v4.9h-4.9zM362 90.8h4.9v4.9h-4.9zM357.5 99.8h9.5v4.9h-9.5zM366.6 136.1h4.9v4.9h-4.9zM434.5 136.1h4.9v4.9h-4.9zM366.6 145.1h4.9v4.9h-4.9zM366.6 149.6h4.9v4.9h-4.9zM434.5 172.3h4.9v4.9h-4.9zM375.6 176.8h4.9v4.9h-4.9zM371.1 185.9h4.9v4.9h-4.9z"/><path fill="#8707a6" d="M366.6 72.7h4.9v4.9h-4.9zM434.5 99.8h4.9v4.9h-4.9zM434.5 104.4h4.9v4.9h-4.9zM366.6 131.5h4.9v4.9h-4.9zM371.1 136.1h4.9v4.9h-4.9zM375.6 199.4h4.9v4.9h-4.9z"/><path fill="#8b0aa5" d="M375.6 63.6h4.9v4.9h-4.9zM434.5 68.1h4.9v4.9h-4.9zM434.5 86.2h4.9v4.9h-4.9zM434.5 108.9h4.9v4.9h-4.9zM366.6 167.8h4.9v4.9h-4.9zM375.6 181.3h4.9v4.9h-4.9z"/><path fill="#8e0ca4" d="M429.9 33.5h4.9v16.9h-4.9zM380.1 54.6h4.9v4.9h-4.9zM362 81.7h4.9v4.9h-4.9zM362 117.9h4.9v4.9h-4.9zM362 131.5h4.9v4.9h-4.9zM362 136.1h4.9v4.9h-4.9zM439 154.2h4.9v4.9h-4.9zM366.6 176.8h4.9v4.9h-4.9zM434.5 181.3h4.9v4.9h-4.9z"/><path fill="#910ea3" d="M384.7 50h4.9v4.9h-4.9zM375.6 59.1h4.9v4.9h-4.9zM357.5 90.8h4.9v4.9h-4.9zM357.5 95.3h4.9v4.9h-4.9zM353 108.9h4.9v4.9h-4.9zM439 145.1h4.9v4.9h-4.9zM371.1 167.8h4.9v4.9h-4.9zM434.5 185.9h4.9v4.9h-4.9z"/><path fill="#9410a2" d="M362 122.5h4.9v4.9h-4.9zM366.6 154.2h4.9v4.9h-4.9zM371.1 163.2h4.9v4.9h-4.9zM371.1 176.8h4.9v4.9h-4.9zM371.1 181.3h4.9v4.9h-4.9zM375.6 190.4h4.9v4.9h-4.9z"/><path fill="#9613a1" d="M434.5 59.1h4.9v4.9h-4.9zM439 99.8h4.9v4.9h-4.9zM439 117.9h4.9v4.9h-4.9zM357.5 122.5h4.9v4.9h-4.9zM362 127h4.9v4.9h-4.9zM439 140.6h4.9v4.9h-4.9zM366.6 158.7h4.9v4.9h-4.9zM371.1 190.4h4.9v4.9h-4.9zM434.5 190.4h4.9v4.9h-4.9zM434.5 199.4h4.9v4.9h-4.9zM375.6 204h4.9v16.9h-4.9z"/><path fill="#99159f" d="M434.5 72.7h4.9v4.9h-4.9zM439 127h4.9v4.9h-4.9zM439 167.8h4.9v4.9h-4.9zM439 176.8h4.9v4.9h-4.9zM366.6 185.9h4.9v4.9h-4.9z"/><path fill="#9d189d" d="M384.7 33.5h4.9v16.9h-4.9zM429.9 50h4.9v4.9h-4.9zM439 95.3h4.9v4.9h-4.9zM357.5 127h4.9v4.9h-4.9zM357.5 131.5h4.9v4.9h-4.9zM366.6 181.3h4.9v4.9h-4.9zM371.1 194.9h4.9v4.9h-4.9zM371.1 204h4.9v16.9h-4.9z"/><path fill="#a01a9c" d="M434.5 54.6h4.9v4.9h-4.9zM434.5 77.2h4.9v4.9h-4.9zM439 81.7h4.9v4.9h-4.9zM443.5 90.8h4.9v4.9h-4.9zM439 108.9h4.9v4.9h-4.9zM362 140.6h4.9v4.9h-4.9zM439 163.2h4.9v4.9h-4.9z"/><path fill="#a21d9a" d="M371.1 63.6h4.9v4.9h-4.9zM439 86.2h9.5v4.9h-9.5zM353 122.5h4.9v4.9h-4.9zM439 122.5h4.9v4.9h-4.9zM357.5 136.1h4.9v4.9h-4.9zM366.6 190.4h4.9v4.9h-4.9zM366.6 194.9h4.9v4.9h-4.9z"/><path fill="#a51f99" d="M434.5 33.5h4.9v16.9h-4.9zM366.6 63.6h4.9v4.9h-4.9zM353 95.3h4.9v4.9h-4.9zM353 113.4h4.9v4.9h-4.9zM357.5 149.6h4.9v4.9h-4.9zM439 158.7h4.9v4.9h-4.9zM362 163.2h4.9v4.9h-4.9zM366.6 172.3h4.9v4.9h-4.9zM434.5 194.9h4.9v4.9h-4.9z"/><path fill="#a72197" d="M375.6 54.6h4.9v4.9h-4.9zM443.5 104.4h4.9v4.9h-4.9zM348.4 117.9h9.5v4.9h-9.5zM439 136.1h4.9v4.9h-4.9zM362 149.6h4.9v4.9h-4.9zM362 154.2h4.9v4.9h-4.9zM439 172.3h4.9v4.9h-4.9zM362 185.9h4.9v4.9h-4.9zM434.5 204h4.9v16.9h-4.9z"/><path fill="#aa2395" d="M439 72.7h4.9v4.9h-4.9zM362 77.2h4.9v4.9h-4.9zM439 77.2h4.9v4.9h-4.9zM443.5 95.3h4.9v4.9h-4.9zM448.1 104.4h4.9v4.9h-4.9zM357.5 140.6h4.9v4.9h-4.9zM362 145.1h4.9v4.9h-4.9zM366.6 163.2h4.9v4.9h-4.9zM439 199.4h4.9v4.9h-4.9zM366.6 204h4.9v16.9h-4.9z"/><path fill="#ac2694" d="M375.6 33.5h4.9v16.9h-4.9zM371.1 59.1h4.9v4.9h-4.9zM439 59.1h4.9v4.9h-4.9zM439 68.1h4.9v4.9h-4.9zM362 72.7h4.9v4.9h-4.9zM353 81.7h4.9v4.9h-4.9zM357.5 86.2h4.9v4.9h-4.9zM353 99.8h4.9v4.9h-4.9zM348.4 104.4h9.5v4.9h-9.5zM353 131.5h4.9v4.9h-4.9zM439 131.5h4.9v4.9h-4.9zM439 149.6h4.9v4.9h-4.9zM357.5 154.2h4.9v4.9h-4.9zM357.5 163.2h4.9v4.9h-4.9z"/><path fill="#b02991" d="M380.1 50h4.9v4.9h-4.9zM439 63.6h4.9v4.9h-4.9zM366.6 68.1h4.9v4.9h-4.9zM357.5 77.2h4.9v4.9h-4.9zM443.5 77.2h4.9v4.9h-4.9zM353 90.8h4.9v4.9h-4.9zM353 145.1h4.9v4.9h-4.9zM439 190.4h4.9v4.9h-4.9zM371.1 199.4h4.9v4.9h-4.9z"/><path fill="#b22b8f" d="M357.5 81.7h4.9v4.9h-4.9zM457.1 90.8h4.9v4.9h-4.9zM439 104.4h4.9v4.9h-4.9zM343.9 108.9h4.9v4.9h-4.9zM343.9 113.4h4.9v4.9h-4.9zM443.5 122.5h4.9v4.9h-4.9zM353 127h4.9v4.9h-4.9zM362 158.7h4.9v4.9h-4.9z"/><path fill="#b42e8d" d="M380.1 33.5h4.9v16.9h-4.9zM443.5 63.6h4.9v4.9h-4.9zM362 68.1h4.9v4.9h-4.9zM439 90.8h4.9v4.9h-4.9zM448.1 90.8h4.9v4.9h-4.9zM348.4 131.5h4.9v4.9h-4.9zM439 194.9h4.9v4.9h-4.9zM366.6 199.4h4.9v4.9h-4.9z"/><path fill="#b6308b" d="M448.1 81.7h4.9v4.9h-4.9zM461.6 86.2h4.9v4.9h-4.9zM448.1 95.3h4.9v4.9h-4.9zM457.1 95.3h4.9v4.9h-4.9zM343.9 104.4h4.9v4.9h-4.9zM348.4 108.9h4.9v4.9h-4.9zM348.4 113.4h4.9v4.9h-4.9zM439 113.4h4.9v4.9h-4.9zM353 136.1h4.9v4.9h-4.9zM443.5 149.6h4.9v4.9h-4.9zM362 172.3h4.9v4.9h-4.9zM362 176.8h4.9v4.9h-4.9zM439 204h4.9v16.9h-4.9z"/><path fill="#b83289" d="M353 86.2h4.9v4.9h-4.9zM448.1 86.2h9.5v4.9h-9.5zM348.4 99.8h4.9v4.9h-4.9zM443.5 108.9h4.9v4.9h-4.9zM448.1 113.4h4.9v4.9h-4.9zM343.9 117.9h4.9v4.9h-4.9zM353 167.8h14v4.9h-14zM362 181.3h4.9v4.9h-4.9z"/><path fill="#bb3488" d="M434.5 50h4.9v4.9h-4.9zM443.5 72.7h4.9v4.9h-4.9zM443.5 99.8h4.9v4.9h-4.9zM452.6 99.8h4.9v4.9h-4.9zM357.5 158.7h4.9v4.9h-4.9zM443.5 163.2h4.9v4.9h-4.9zM357.5 181.3h4.9v4.9h-4.9zM439 181.3h4.9v4.9h-4.9z"/><path fill="#be3885" d="M439 33.5h4.9v16.9h-4.9zM448.1 63.6h4.9v4.9h-4.9zM461.6 77.2h9.5v4.9h-9.5zM443.5 81.7h4.9v4.9h-4.9zM457.1 86.2h4.9v4.9h-4.9zM452.6 95.3h4.9v4.9h-4.9zM448.1 99.8h4.9v4.9h-4.9zM452.6 108.9h4.9v4.9h-4.9zM348.4 122.5h4.9v4.9h-4.9zM357.5 145.1h4.9v4.9h-4.9zM357.5 172.3h4.9v4.9h-4.9zM443.5 172.3h4.9v4.9h-4.9zM357.5 176.8h4.9v4.9h-4.9zM362 190.4h4.9v4.9h-4.9z"/><path fill="#c03a83" d="M448.1 77.2h4.9v4.9h-4.9zM348.4 81.7h4.9v4.9h-4.9zM343.9 99.8h4.9v4.9h-4.9zM443.5 113.4h4.9v4.9h-4.9zM353 158.7h4.9v4.9h-4.9zM443.5 167.8h4.9v4.9h-4.9zM439 185.9h4.9v4.9h-4.9z"/><path fill="#c23c81" d="M439 54.6h4.9v4.9h-4.9zM362 63.6h4.9v4.9h-4.9zM357.5 72.7h4.9v4.9h-4.9zM452.6 81.7h4.9v4.9h-4.9zM461.6 81.7h4.9v4.9h-4.9zM348.4 86.2h4.9v4.9h-4.9zM343.9 90.8h4.9v4.9h-4.9zM343.9 95.3h4.9v4.9h-4.9zM461.6 95.3h4.9v4.9h-4.9zM339.4 108.9h4.9v4.9h-4.9zM343.9 127h4.9v4.9h-4.9zM343.9 131.5h4.9v4.9h-4.9zM348.4 140.6h4.9v4.9h-4.9zM443.5 176.8h4.9v4.9h-4.9zM357.5 185.9h4.9v4.9h-4.9z"/><path fill="#c43e7f" d="M443.5 68.1h4.9v4.9h-4.9zM448.1 72.7h4.9v4.9h-4.9zM457.1 72.7h4.9v4.9h-4.9zM452.6 77.2h4.9v4.9h-4.9zM457.1 81.7h4.9v4.9h-4.9zM452.6 90.8h4.9v4.9h-4.9zM348.4 95.3h4.9v4.9h-4.9zM339.4 113.4h4.9v4.9h-4.9zM339.4 117.9h4.9v4.9h-4.9zM348.4 127h4.9v4.9h-4.9zM448.1 127h4.9v4.9h-4.9zM353 140.6h4.9v4.9h-4.9zM348.4 149.6h4.9v4.9h-4.9z"/><path fill="#c6417d" d="M375.6 50h4.9v4.9h-4.9zM371.1 54.6h4.9v4.9h-4.9zM452.6 72.7h4.9v4.9h-4.9zM353 77.2h4.9v4.9h-4.9zM348.4 90.8h4.9v4.9h-4.9zM339.4 99.8h4.9v4.9h-4.9zM452.6 104.4h4.9v4.9h-4.9zM443.5 117.9h4.9v4.9h-4.9zM443.5 185.9h4.9v4.9h-4.9zM362 194.9h4.9v4.9h-4.9zM443.5 199.4h4.9v4.9h-4.9z"/><path fill="#c8437b" d="M448.1 68.1h4.9v4.9h-4.9zM353 72.7h4.9v4.9h-4.9zM448.1 108.9h4.9v4.9h-4.9zM448.1 117.9h4.9v4.9h-4.9zM443.5 136.1h4.9v4.9h-4.9zM443.5 140.6h4.9v4.9h-4.9zM357.5 199.4h4.9v4.9h-4.9z"/><path fill="#ca457a" d="M457.1 77.2h4.9v4.9h-4.9zM461.6 90.8h4.9v4.9h-4.9zM339.4 95.3h4.9v4.9h-4.9zM343.9 122.5h4.9v4.9h-4.9zM443.5 127h4.9v4.9h-4.9zM443.5 145.1h4.9v4.9h-4.9zM353 149.6h4.9v4.9h-4.9zM348.4 158.7h4.9v4.9h-4.9zM353 181.3h4.9v4.9h-4.9zM362 199.4h4.9v4.9h-4.9z"/><path fill="#cc4977" d="M461.6 72.7h4.9v4.9h-4.9zM343.9 86.2h4.9v4.9h-4.9zM339.4 104.4h4.9v4.9h-4.9zM461.6 104.4h4.9v4.9h-4.9zM448.1 136.1h4.9v4.9h-4.9zM343.9 154.2h9.5v4.9h-9.5zM443.5 158.7h4.9v4.9h-4.9zM362 204h4.9v16.9h-4.9z"/><path fill="#ce4b75" d="M366.6 59.1h4.9v4.9h-4.9zM353 68.1h4.9v4.9h-4.9zM343.9 81.7h4.9v4.9h-4.9zM466.2 81.7h4.9v4.9h-4.9zM457.1 99.8h4.9v4.9h-4.9zM457.1 108.9h4.9v4.9h-4.9zM339.4 127h4.9v4.9h-4.9zM443.5 131.5h4.9v4.9h-4.9zM348.4 136.1h4.9v4.9h-4.9zM353 154.2h4.9v4.9h-4.9zM353 176.8h4.9v4.9h-4.9zM443.5 204h4.9v16.9h-4.9z"/><path fill="#d04d73" d="M366.6 50h4.9v4.9h-4.9zM366.6 54.6h4.9v4.9h-4.9zM362 59.1h4.9v4.9h-4.9zM334.9 108.9h4.9v4.9h-4.9zM443.5 154.2h4.9v4.9h-4.9zM353 163.2h4.9v4.9h-4.9zM348.4 167.8h4.9v4.9h-4.9zM353 172.3h4.9v4.9h-4.9zM443.5 181.3h4.9v4.9h-4.9zM353 185.9h4.9v4.9h-4.9zM357.5 190.4h4.9v4.9h-4.9z"/><path fill="#d24f71" d="M371.1 33.5h4.9v16.9h-4.9zM362 50h4.9v4.9h-4.9zM443.5 59.1h9.5v4.9h-9.5zM461.6 68.1h4.9v4.9h-4.9zM470.7 77.2h4.9v4.9h-4.9zM452.6 113.4h4.9v4.9h-4.9zM339.4 131.5h4.9v4.9h-4.9zM339.4 136.1h4.9v4.9h-4.9zM348.4 145.1h4.9v4.9h-4.9zM357.5 194.9h4.9v4.9h-4.9zM357.5 204h4.9v16.9h-4.9z"/><path fill="#d45270" d="M371.1 50h4.9v4.9h-4.9zM457.1 68.1h4.9v4.9h-4.9zM348.4 72.7h4.9v4.9h-4.9zM466.2 95.3h4.9v4.9h-4.9zM448.1 145.1h4.9v4.9h-4.9z"/><path fill="#d5546e" d="M362 54.6h4.9v4.9h-4.9zM443.5 54.6h4.9v4.9h-4.9zM466.2 86.2h9.5v4.9h-9.5zM334.9 113.4h4.9v4.9h-4.9zM348.4 163.2h4.9v4.9h-4.9z"/><path fill="#d7566c" d="M439 50h4.9v4.9h-4.9zM457.1 104.4h4.9v4.9h-4.9zM452.6 127h4.9v4.9h-4.9z"/><path fill="#da5a6a" d="M443.5 50h4.9v4.9h-4.9zM348.4 68.1h4.9v4.9h-4.9zM357.5 68.1h4.9v4.9h-4.9zM466.2 68.1h4.9v4.9h-4.9zM466.2 72.7h4.9v4.9h-4.9zM466.2 90.8h4.9v4.9h-4.9zM334.9 104.4h4.9v4.9h-4.9zM334.9 117.9h4.9v4.9h-4.9zM339.4 122.5h4.9v4.9h-4.9zM448.1 122.5h4.9v4.9h-4.9zM339.4 149.6h4.9v4.9h-4.9zM448.1 158.7h4.9v4.9h-4.9zM343.9 163.2h4.9v4.9h-4.9zM448.1 163.2h4.9v4.9h-4.9zM448.1 172.3h4.9v4.9h-4.9z"/><path fill="#db5c68" d="M457.1 113.4h4.9v4.9h-4.9zM343.9 167.8h4.9v4.9h-4.9zM348.4 181.3h4.9v4.9h-4.9zM353 190.4h4.9v4.9h-4.9z"/><path fill="#dd5e66" d="M353 54.6h4.9v4.9h-4.9zM457.1 63.6h4.9v4.9h-4.9zM452.6 68.1h4.9v4.9h-4.9zM348.4 77.2h4.9v4.9h-4.9zM334.9 99.8h4.9v4.9h-4.9zM334.9 127h4.9v4.9h-4.9zM343.9 136.1h4.9v4.9h-4.9zM339.4 158.7h4.9v4.9h-4.9zM348.4 185.9h4.9v4.9h-4.9z"/><path fill="#de6164" d="M443.5 190.4h4.9v4.9h-4.9zM443.5 194.9h4.9v4.9h-4.9z"/><path fill="#e06363" d="M366.6 33.5h4.9v16.9h-4.9zM452.6 63.6h4.9v4.9h-4.9zM470.7 72.7h4.9v4.9h-4.9zM343.9 77.2h4.9v4.9h-4.9zM461.6 99.8h4.9v4.9h-4.9zM330.3 104.4h4.9v4.9h-4.9zM461.6 108.9h4.9v4.9h-4.9zM452.6 122.5h4.9v4.9h-4.9zM448.1 131.5h4.9v4.9h-4.9zM343.9 140.6h4.9v4.9h-4.9zM343.9 145.1h4.9v4.9h-4.9z"/><path fill="#e26561" d="M353 33.5h4.9v16.9h-4.9zM443.5 33.5h4.9v16.9h-4.9zM470.7 81.7h4.9v4.9h-4.9zM466.2 99.8h4.9v4.9h-4.9zM452.6 117.9h4.9v4.9h-4.9zM348.4 172.3h4.9v4.9h-4.9z"/><path fill="#e4695e" d="M353 50h9.5v4.9h-9.5zM448.1 54.6h4.9v4.9h-4.9zM457.1 59.1h4.9v4.9h-4.9zM357.5 63.6h4.9v4.9h-4.9zM334.9 77.2h4.9v4.9h-4.9zM457.1 122.5h4.9v4.9h-4.9zM334.9 149.6h4.9v4.9h-4.9z"/><path fill="#e56b5d" d="M357.5 59.1h4.9v4.9h-4.9zM466.2 104.4h4.9v4.9h-4.9zM448.1 140.6h4.9v4.9h-4.9zM339.4 145.1h4.9v4.9h-4.9zM343.9 149.6h4.9v4.9h-4.9zM448.1 149.6h4.9v4.9h-4.9zM448.1 185.9h4.9v4.9h-4.9zM348.4 199.4h9.5v4.9h-9.5z"/><path fill="#e76e5b" d="M448.1 50h4.9v4.9h-4.9zM348.4 54.6h4.9v4.9h-4.9zM343.9 63.6h4.9v4.9h-4.9zM313.8 104.4h16.9v4.9h-16.9zM457.1 131.5h4.9v4.9h-4.9zM348.4 190.4h4.9v4.9h-4.9zM353 194.9h4.9v4.9h-4.9z"/><path fill="#e87059" d="M357.5 33.5h4.9v16.9h-4.9zM353 59.1h4.9v4.9h-4.9zM339.4 72.7h4.9v4.9h-4.9zM475.2 81.7h4.9v4.9h-4.9zM339.4 90.8h4.9v4.9h-4.9zM470.7 95.3h4.9v4.9h-4.9zM457.1 117.9h4.9v4.9h-4.9zM313.8 127h16.9v4.9h-16.9zM330.3 136.1h4.9v4.9h-4.9zM343.9 158.7h4.9v4.9h-4.9zM339.4 176.8h4.9v4.9h-4.9zM348.4 176.8h4.9v4.9h-4.9zM353 204h4.9v16.9h-4.9z"/><path fill="#e97257" d="M357.5 54.6h4.9v4.9h-4.9zM452.6 54.6h4.9v4.9h-4.9zM339.4 63.6h4.9v4.9h-4.9zM339.4 81.7h4.9v4.9h-4.9zM339.4 86.2h4.9v4.9h-4.9zM330.3 99.8h4.9v4.9h-4.9zM466.2 108.9h4.9v4.9h-4.9zM461.6 113.4h4.9v4.9h-4.9zM330.3 131.5h4.9v4.9h-4.9zM452.6 131.5h4.9v4.9h-4.9zM452.6 136.1h4.9v4.9h-4.9zM339.4 140.6h4.9v4.9h-4.9zM448.1 154.2h4.9v4.9h-4.9zM448.1 167.8h4.9v4.9h-4.9zM343.9 172.3h4.9v4.9h-4.9zM448.1 176.8h4.9v4.9h-4.9z"/><path fill="#eb7556" d="M362 33.5h4.9v16.9h-4.9zM457.1 54.6h4.9v4.9h-4.9zM353 63.6h4.9v4.9h-4.9zM461.6 63.6h4.9v4.9h-4.9zM313.8 113.4h21.5v4.9h-21.5zM313.8 131.5h16.9v4.9h-16.9zM334.9 140.6h4.9v4.9h-4.9zM448.1 194.9h4.9v4.9h-4.9z"/><path fill="#ec7754" d="M448.1 33.5h9.5v16.9h-9.5zM461.6 59.1h4.9v4.9h-4.9zM313.8 68.1h16.9v4.9h-16.9zM313.8 81.7h16.9v4.9h-16.9zM334.9 95.3h4.9v4.9h-4.9zM470.7 104.4h4.9v4.9h-4.9zM313.8 108.9h16.9v4.9h-16.9zM334.9 122.5h4.9v4.9h-4.9zM334.9 158.7h4.9v4.9h-4.9zM339.4 167.8h4.9v4.9h-4.9zM343.9 204h4.9v16.9h-4.9z"/><path fill="#ee7b51" d="M343.9 59.1h4.9v4.9h-4.9zM330.3 72.7h4.9v4.9h-4.9zM339.4 77.2h4.9v4.9h-4.9zM330.3 81.7h4.9v4.9h-4.9zM470.7 90.8h4.9v4.9h-4.9zM313.8 99.8h16.9v4.9h-16.9zM330.3 127h4.9v4.9h-4.9zM334.9 145.1h4.9v4.9h-4.9zM452.6 149.6h4.9v4.9h-4.9zM339.4 154.2h4.9v4.9h-4.9zM339.4 181.3h4.9v4.9h-4.9z"/><path fill="#ef7e50" d="M348.4 59.1h4.9v4.9h-4.9zM343.9 72.7h4.9v4.9h-4.9zM475.2 77.2h4.9v4.9h-4.9zM334.9 86.2h4.9v4.9h-4.9zM457.1 127h9.5v4.9h-9.5zM313.8 149.6h16.9v4.9h-16.9zM334.9 163.2h9.5v4.9h-9.5z"/><path fill="#f0804e" d="M330.3 33.5h4.9v16.9h-4.9zM343.9 50h9.5v4.9h-9.5zM452.6 59.1h4.9v4.9h-4.9zM334.9 90.8h4.9v4.9h-4.9zM330.3 117.9h4.9v4.9h-4.9zM334.9 131.5h4.9v4.9h-4.9zM313.8 145.1h16.9v4.9h-16.9zM334.9 154.2h4.9v4.9h-4.9zM330.3 158.7h4.9v4.9h-4.9zM343.9 181.3h4.9v4.9h-4.9zM339.4 185.9h4.9v4.9h-4.9zM343.9 190.4h4.9v4.9h-4.9zM448.1 190.4h4.9v4.9h-4.9zM348.4 194.9h4.9v4.9h-4.9z"/><path fill="#f1834c" d="M466.2 54.6h4.9v4.9h-4.9zM348.4 63.6h4.9v4.9h-4.9zM470.7 63.6h4.9v4.9h-4.9zM343.9 68.1h4.9v4.9h-4.9zM475.2 72.7h4.9v4.9h-4.9zM334.9 81.7h4.9v4.9h-4.9zM475.2 90.8h4.9v4.9h-4.9zM470.7 99.8h4.9v4.9h-4.9zM313.8 122.5h16.9v4.9h-16.9zM334.9 136.1h4.9v4.9h-4.9zM457.1 140.6h4.9v4.9h-4.9zM313.8 154.2h16.9v4.9h-16.9zM343.9 199.4h4.9v4.9h-4.9zM448.1 199.4h4.9v4.9h-4.9z"/><path fill="#f3854b" d="M313.8 33.5h16.9v16.9h-16.9zM348.4 33.5h4.9v16.9h-4.9zM339.4 54.6h4.9v4.9h-4.9zM334.9 63.6h4.9v4.9h-4.9zM475.2 68.1h4.9v4.9h-4.9zM334.9 72.7h4.9v4.9h-4.9zM461.6 136.1h4.9v4.9h-4.9zM330.3 140.6h4.9v4.9h-4.9zM452.6 158.7h4.9v4.9h-4.9zM452.6 167.8h4.9v4.9h-4.9zM343.9 176.8h4.9v4.9h-4.9zM452.6 176.8h4.9v4.9h-4.9zM334.9 199.4h4.9v4.9h-4.9zM339.4 204h4.9v16.9h-4.9zM448.1 204h4.9v16.9h-4.9z"/><path fill="#f48849" d="M334.9 50h4.9v4.9h-4.9zM343.9 54.6h4.9v4.9h-4.9zM313.8 59.1h16.9v4.9h-16.9zM470.7 68.1h4.9v4.9h-4.9zM470.7 108.9h4.9v4.9h-4.9zM313.8 117.9h16.9v4.9h-16.9zM461.6 122.5h4.9v4.9h-4.9zM452.6 140.6h4.9v4.9h-4.9zM448.1 181.3h9.5v4.9h-9.5zM348.4 204h4.9v16.9h-4.9z"/><path fill="#f58c46" d="M330.3 54.6h4.9v4.9h-4.9zM339.4 59.1h4.9v4.9h-4.9zM330.3 63.6h4.9v4.9h-4.9zM466.2 63.6h4.9v4.9h-4.9zM334.9 68.1h4.9v4.9h-4.9zM313.8 72.7h16.9v4.9h-16.9zM330.3 77.2h4.9v4.9h-4.9zM330.3 108.9h4.9v4.9h-4.9zM313.8 136.1h16.9v4.9h-16.9zM313.8 140.6h16.9v4.9h-16.9zM452.6 154.2h4.9v4.9h-4.9zM334.9 167.8h4.9v4.9h-4.9zM334.9 176.8h4.9v4.9h-4.9z"/><path fill="#f68f44" d="M343.9 33.5h4.9v16.9h-4.9zM457.1 33.5h9.5v16.9h-9.5zM330.3 50h4.9v4.9h-4.9zM339.4 68.1h4.9v4.9h-4.9zM313.8 95.3h16.9v4.9h-16.9zM330.3 122.5h4.9v4.9h-4.9zM461.6 131.5h4.9v4.9h-4.9zM452.6 145.1h4.9v4.9h-4.9zM330.3 149.6h4.9v4.9h-4.9zM339.4 172.3h4.9v4.9h-4.9zM334.9 185.9h4.9v4.9h-4.9z"/><path fill="#f79143" d="M334.9 33.5h4.9v16.9h-4.9zM475.2 63.6h4.9v4.9h-4.9zM461.6 117.9h4.9v4.9h-4.9zM470.7 122.5h4.9v4.9h-4.9zM457.1 145.1h4.9v4.9h-4.9zM313.8 158.7h16.9v4.9h-16.9zM339.4 194.9h4.9v4.9h-4.9z"/><path fill="#f89441" d="M334.9 54.6h4.9v4.9h-4.9zM475.2 54.6h4.9v4.9h-4.9zM470.7 59.1h4.9v4.9h-4.9zM313.8 63.6h16.9v4.9h-16.9zM466.2 113.4h9.5v4.9h-9.5zM470.7 117.9h4.9v4.9h-4.9zM457.1 136.1h4.9v4.9h-4.9zM313.8 163.2h16.9v4.9h-16.9zM457.1 163.2h4.9v4.9h-4.9zM452.6 172.3h4.9v4.9h-4.9zM343.9 185.9h4.9v4.9h-4.9zM334.9 194.9h4.9v4.9h-4.9zM343.9 194.9h4.9v4.9h-4.9zM313.8 204h16.9v16.9h-16.9z"/><path fill="#f9973f" d="M452.6 50h4.9v4.9h-4.9zM461.6 54.6h4.9v4.9h-4.9zM470.7 54.6h4.9v4.9h-4.9zM330.3 59.1h4.9v4.9h-4.9zM466.2 59.1h4.9v4.9h-4.9zM330.3 86.2h4.9v4.9h-4.9zM466.2 122.5h4.9v4.9h-4.9zM466.2 127h4.9v4.9h-4.9zM330.3 145.1h4.9v4.9h-4.9zM457.1 154.2h4.9v4.9h-4.9zM313.8 167.8h16.9v4.9h-16.9zM457.1 167.8h4.9v4.9h-4.9zM457.1 172.3h4.9v4.9h-4.9zM313.8 190.4h16.9v4.9h-16.9z"/><path fill="#f99a3e" d="M457.1 50h9.5v4.9h-9.5zM479.7 63.6h4.9v4.9h-4.9zM313.8 77.2h16.9v4.9h-16.9zM313.8 86.2h16.9v4.9h-16.9zM475.2 86.2h4.9v4.9h-4.9zM330.3 95.3h4.9v4.9h-4.9zM330.3 154.2h4.9v4.9h-4.9zM452.6 163.2h4.9v4.9h-4.9z"/><path fill="#fa9c3c" d="M339.4 33.5h4.9v16.9h-4.9zM475.2 131.5h4.9v4.9h-4.9zM479.7 136.1h4.9v4.9h-4.9zM330.3 167.8h4.9v4.9h-4.9zM334.9 172.3h4.9v4.9h-4.9zM313.8 181.3h16.9v4.9h-16.9zM334.9 190.4h4.9v4.9h-4.9z"/><path fill="#fba139" d="M339.4 50h4.9v4.9h-4.9zM484.3 54.6h16.9v4.9h-16.9zM334.9 59.1h4.9v4.9h-4.9zM330.3 68.1h4.9v4.9h-4.9zM475.2 95.3h4.9v4.9h-4.9zM475.2 108.9h4.9v4.9h-4.9zM466.2 136.1h4.9v4.9h-4.9zM479.7 140.6h4.9v4.9h-4.9zM313.8 199.4h16.9v4.9h-16.9zM334.9 204h4.9v16.9h-4.9z"/><path fill="#fca338" d="M479.7 72.7h21.5v4.9h-21.5zM479.7 86.2h21.5v4.9h-21.5zM475.2 99.8h4.9v4.9h-4.9zM484.3 136.1h16.9v4.9h-16.9zM339.4 190.4h4.9v4.9h-4.9zM339.4 199.4h4.9v4.9h-4.9z"/><path fill="#fca636" d="M466.2 50h4.9v4.9h-4.9zM313.8 54.6h16.9v4.9h-16.9zM484.3 59.1h16.9v4.9h-16.9zM313.8 90.8h21.5v4.9h-21.5zM466.2 131.5h4.9v4.9h-4.9zM484.3 140.6h16.9v4.9h-16.9zM330.3 163.2h4.9v4.9h-4.9zM457.1 185.9h9.5v4.9h-9.5zM330.3 199.4h4.9v4.9h-4.9z"/><path fill="#fca934" d="M466.2 33.5h4.9v16.9h-4.9zM313.8 50h16.9v4.9h-16.9zM470.7 50h4.9v4.9h-4.9zM479.7 54.6h4.9v4.9h-4.9zM479.7 77.2h4.9v4.9h-4.9zM479.7 81.7h4.9v4.9h-4.9zM475.2 104.4h4.9v4.9h-4.9zM475.2 127h4.9v4.9h-4.9zM461.6 140.6h4.9v4.9h-4.9zM457.1 149.6h4.9v4.9h-4.9zM330.3 172.3h4.9v4.9h-4.9zM330.3 181.3h4.9v4.9h-4.9zM330.3 185.9h4.9v4.9h-4.9zM452.6 190.4h4.9v4.9h-4.9zM457.1 199.4h4.9v4.9h-4.9z"/><path fill="#fdac33" d="M470.7 33.5h4.9v16.9h-4.9zM466.2 117.9h4.9v4.9h-4.9zM475.2 117.9h4.9v4.9h-4.9zM484.3 127h16.9v4.9h-16.9zM479.7 131.5h4.9v4.9h-4.9zM475.2 136.1h4.9v4.9h-4.9zM313.8 194.9h16.9v4.9h-16.9zM330.3 204h4.9v16.9h-4.9zM452.6 204h4.9v16.9h-4.9z"/><path fill="#fdaf31" d="M475.2 33.5h4.9v16.9h-4.9zM479.7 50h4.9v4.9h-4.9zM470.7 136.1h4.9v4.9h-4.9zM470.7 140.6h4.9v4.9h-4.9zM461.6 145.1h9.5v4.9h-9.5zM461.6 149.6h4.9v4.9h-4.9zM461.6 154.2h4.9v4.9h-4.9zM475.2 154.2h4.9v4.9h-4.9zM461.6 167.8h4.9v4.9h-4.9zM313.8 176.8h16.9v4.9h-16.9zM466.2 176.8h4.9v4.9h-4.9zM334.9 181.3h4.9v4.9h-4.9zM457.1 181.3h4.9v4.9h-4.9zM313.8 185.9h16.9v4.9h-16.9zM330.3 194.9h4.9v4.9h-4.9zM452.6 194.9h9.5v4.9h-9.5z"/><path fill="#fdb22f" d="M475.2 59.1h9.5v4.9h-9.5zM479.7 90.8h4.9v4.9h-4.9zM470.7 127h4.9v4.9h-4.9zM470.7 131.5h4.9v4.9h-4.9zM479.7 145.1h21.5v4.9h-21.5zM470.7 167.8h4.9v4.9h-4.9zM330.3 176.8h4.9v4.9h-4.9zM457.1 176.8h4.9v4.9h-4.9zM461.6 181.3h4.9v4.9h-4.9zM452.6 185.9h4.9v4.9h-4.9zM457.1 190.4h4.9v4.9h-4.9zM457.1 204h4.9v16.9h-4.9z"/><path fill="#feb72d" d="M479.7 104.4h21.5v4.9h-21.5zM475.2 113.4h4.9v4.9h-4.9zM479.7 117.9h4.9v4.9h-4.9zM484.3 131.5h16.9v4.9h-16.9zM475.2 145.1h4.9v4.9h-4.9zM461.6 158.7h4.9v4.9h-4.9zM470.7 163.2h4.9v4.9h-4.9zM313.8 172.3h16.9v4.9h-16.9zM470.7 185.9h4.9v4.9h-4.9zM330.3 190.4h4.9v4.9h-4.9zM466.2 194.9h4.9v4.9h-4.9zM452.6 199.4h4.9v4.9h-4.9z"/><path fill="#feba2c" d="M479.7 33.5h4.9v16.9h-4.9zM479.7 68.1h4.9v4.9h-4.9zM484.3 77.2h16.9v4.9h-16.9zM484.3 81.7h16.9v4.9h-16.9zM479.7 95.3h4.9v4.9h-4.9zM479.7 113.4h4.9v4.9h-4.9zM475.2 122.5h4.9v4.9h-4.9zM466.2 140.6h4.9v4.9h-4.9zM479.7 149.6h4.9v4.9h-4.9zM470.7 154.2h4.9v4.9h-4.9zM457.1 158.7h4.9v4.9h-4.9zM470.7 158.7h4.9v4.9h-4.9zM466.2 185.9h4.9v4.9h-4.9zM461.6 199.4h4.9v4.9h-4.9zM461.6 204h4.9v16.9h-4.9z"/><path fill="#febd2a" d="M484.3 63.6h16.9v4.9h-16.9zM484.3 68.1h16.9v4.9h-16.9zM475.2 140.6h4.9v4.9h-4.9zM479.7 158.7h4.9v4.9h-4.9zM461.6 163.2h4.9v4.9h-4.9zM461.6 172.3h4.9v4.9h-4.9zM466.2 181.3h4.9v4.9h-4.9zM479.7 204h4.9v16.9h-4.9z"/><path fill="#fec029" d="M475.2 50h4.9v4.9h-4.9zM484.3 50h16.9v4.9h-16.9zM479.7 108.9h4.9v4.9h-4.9zM479.7 127h4.9v4.9h-4.9zM470.7 149.6h4.9v4.9h-4.9zM466.2 154.2h4.9v4.9h-4.9zM466.2 167.8h4.9v4.9h-4.9zM484.3 185.9h16.9v4.9h-16.9zM461.6 190.4h4.9v4.9h-4.9zM479.7 190.4h4.9v4.9h-4.9zM484.3 194.9h16.9v4.9h-16.9zM470.7 199.4h4.9v4.9h-4.9zM475.2 204h4.9v16.9h-4.9z"/><path fill="#fdc328" d="M484.3 90.8h16.9v4.9h-16.9zM484.3 95.3h16.9v4.9h-16.9zM484.3 113.4h16.9v4.9h-16.9zM484.3 122.5h16.9v4.9h-16.9zM466.2 163.2h4.9v4.9h-4.9zM461.6 176.8h4.9v4.9h-4.9zM475.2 176.8h9.5v4.9h-9.5zM475.2 190.4h4.9v4.9h-4.9zM466.2 204h4.9v16.9h-4.9z"/><path fill="#fdc627" d="M484.3 158.7h16.9v4.9h-16.9zM470.7 181.3h4.9v4.9h-4.9zM479.7 185.9h4.9v4.9h-4.9zM484.3 190.4h16.9v4.9h-16.9zM475.2 199.4h4.9v4.9h-4.9z"/><path fill="#fdcb26" d="M484.3 33.5h16.9v16.9h-16.9zM470.7 145.1h4.9v4.9h-4.9zM475.2 149.6h4.9v4.9h-4.9zM479.7 154.2h4.9v4.9h-4.9zM475.2 158.7h4.9v4.9h-4.9zM475.2 163.2h4.9v4.9h-4.9zM475.2 172.3h4.9v4.9h-4.9zM479.7 181.3h4.9v4.9h-4.9zM461.6 194.9h4.9v4.9h-4.9zM479.7 199.4h4.9v4.9h-4.9z"/><path fill="#fcce25" d="M479.7 122.5h4.9v4.9h-4.9zM484.3 149.6h16.9v4.9h-16.9zM470.7 176.8h4.9v4.9h-4.9zM466.2 190.4h4.9v4.9h-4.9z"/><path fill="#fcd225" d="M479.7 99.8h21.5v4.9h-21.5zM466.2 149.6h4.9v4.9h-4.9zM484.3 154.2h16.9v4.9h-16.9zM466.2 158.7h4.9v4.9h-4.9zM484.3 199.4h16.9v4.9h-16.9z"/><path fill="#fbd524" d="M479.7 163.2h4.9v4.9h-4.9zM466.2 172.3h9.5v4.9h-9.5zM470.7 194.9h4.9v4.9h-4.9zM470.7 204h4.9v16.9h-4.9zM484.3 204h16.9v16.9h-16.9z"/><path fill="#fad824" d="M484.3 167.8h16.9v4.9h-16.9zM484.3 172.3h16.9v4.9h-16.9zM470.7 190.4h4.9v4.9h-4.9zM479.7 194.9h4.9v4.9h-4.9z"/><path fill="#f9dc24" d="M484.3 108.9h16.9v4.9h-16.9zM484.3 117.9h16.9v4.9h-16.9zM479.7 167.8h4.9v4.9h-4.9zM475.2 194.9h4.9v4.9h-4.9zM466.2 199.4h4.9v4.9h-4.9z"/><path fill="#f8df25" d="M484.3 163.2h16.9v4.9h-16.9zM475.2 167.8h4.9v4.9h-4.9zM479.7 172.3h4.9v4.9h-4.9zM484.3 176.8h16.9v4.9h-16.9z"/><path fill="#f7e425" d="M475.2 181.3h4.9v4.9h-4.9zM484.3 181.3h16.9v4.9h-16.9zM475.2 185.9h4.9v4.9h-4.9z"/><polygon fill="#260591" points="409,90 425,80 436,92 438,130 436,158 432,180 424,192 412,190"/><polygon fill="#0d0887" points="387,72 398,58 406,62 406,150 412,160 412,192 404,196 399,180 392,160 388,120"/><polygon fill="#0d0887" points="418,100 426,90 432,100 432,140 424,148 418,138"/><polygon fill="#0d0887" points="377,146 386,143 388,156 379,158"/></g></g>
<rect x="325.8" y="45.5" width="163.0" height="163.0" fill="none" stroke="#000" stroke-width="0.8"/>
<path d="M325.8 45.5h-3M325.8 208.5h-3M325.8 208.5v3M488.8 208.5v3" stroke="#000" stroke-width="0.8" fill="none"/>
<text class="k" x="319.1" y="49.8" text-anchor="end"><tspan font-size="8px" dy="-1.1">−</tspan><tspan dy="1.1" dx="-0.4">4.48</tspan></text><text class="k" x="319.1" y="212.1" text-anchor="end">4.48</text><text class="k" x="325.5" y="223.8" text-anchor="middle"><tspan font-size="8px" dy="-1.1">−</tspan><tspan dy="1.1" dx="-0.4">4.48</tspan></text><text class="k" x="488.8" y="223.8" text-anchor="middle">4.48</text>
<text class="t" x="407.3" y="21.7">Robust AE</text><text class="t" x="409.0" y="39.8">Normalized Edit Distance</text>
<rect x="499.6" y="45.5" width="8.4" height="163.0" fill="url(#pl)" stroke="#000" stroke-width="0.8"/>
<path d="M508.0 208.5h2.6" stroke="#000" stroke-width="0.8"/><text class="c" x="513.4" y="211.4">+0.00</text><path d="M508.0 189.5h2.6" stroke="#000" stroke-width="0.8"/><text class="c" x="513.4" y="192.4">+0.10</text><path d="M508.0 170.5h2.6" stroke="#000" stroke-width="0.8"/><text class="c" x="513.4" y="173.4">+0.20</text><path d="M508.0 151.4h2.6" stroke="#000" stroke-width="0.8"/><text class="c" x="513.4" y="154.3">+0.30</text><path d="M508.0 132.4h2.6" stroke="#000" stroke-width="0.8"/><text class="c" x="513.4" y="135.3">+0.40</text><path d="M508.0 113.4h2.6" stroke="#000" stroke-width="0.8"/><text class="c" x="513.4" y="116.3">+0.50</text><path d="M508.0 94.4h2.6" stroke="#000" stroke-width="0.8"/><text class="c" x="513.4" y="97.3">+0.60</text><path d="M508.0 75.4h2.6" stroke="#000" stroke-width="0.8"/><text class="c" x="513.4" y="78.3">+0.70</text><path d="M508.0 56.3h2.6" stroke="#000" stroke-width="0.8"/><text class="c" x="513.4" y="59.2">+0.80</text>
<g clip-path="url(#cbl)"><g filter="url(#fbl)" shape-rendering="crispEdges"><path fill="#19068c" d="M151.1 299.1h4.9v4.9h-4.9zM151.1 303.7h4.9v4.9h-4.9zM151.1 308.2h4.9v4.9h-4.9zM123.9 312.7h4.9v4.9h-4.9zM151.1 312.7h4.9v4.9h-4.9zM123.9 317.2h4.9v4.9h-4.9zM151.1 317.2h4.9v4.9h-4.9zM123.9 321.7h4.9v4.9h-4.9zM151.1 321.7h4.9v4.9h-4.9zM123.9 326.2h4.9v4.9h-4.9zM151.1 326.2h4.9v4.9h-4.9zM123.9 330.7h4.9v4.9h-4.9zM151.1 330.7h4.9v4.9h-4.9zM123.9 335.2h4.9v4.9h-4.9zM151.1 335.2h4.9v4.9h-4.9zM123.9 339.8h4.9v4.9h-4.9zM151.1 339.8h4.9v4.9h-4.9zM123.9 344.3h4.9v4.9h-4.9zM151.1 344.3h4.9v4.9h-4.9zM123.9 348.8h4.9v4.9h-4.9zM151.1 348.8h4.9v4.9h-4.9zM123.9 353.3h4.9v4.9h-4.9zM151.1 353.3h4.9v4.9h-4.9zM123.9 357.8h4.9v4.9h-4.9zM151.1 357.8h4.9v4.9h-4.9zM123.9 362.3h4.9v4.9h-4.9zM151.1 362.3h4.9v4.9h-4.9zM123.9 366.8h4.9v4.9h-4.9zM151.1 366.8h4.9v4.9h-4.9zM123.9 371.4h4.9v4.9h-4.9zM151.1 371.4h4.9v4.9h-4.9zM123.9 375.9h4.9v4.9h-4.9zM151.1 375.9h4.9v4.9h-4.9zM123.9 380.4h4.9v4.9h-4.9zM151.1 380.4h4.9v4.9h-4.9z"/><path fill="#1d068e" d="M146.6 294.6h9.5v4.9h-9.5zM142.1 299.1h9.5v4.9h-9.5zM123.9 303.7h14v4.9h-14zM142.1 303.7h9.5v4.9h-9.5zM123.9 308.2h14v4.9h-14zM142.1 308.2h9.5v4.9h-9.5zM119.4 312.7h4.9v4.9h-4.9zM128.5 312.7h9.5v4.9h-9.5zM142.1 312.7h9.5v4.9h-9.5zM119.4 317.2h4.9v4.9h-4.9zM128.5 317.2h9.5v4.9h-9.5zM142.1 317.2h9.5v4.9h-9.5zM119.4 321.7h4.9v4.9h-4.9zM128.5 321.7h9.5v4.9h-9.5zM142.1 321.7h9.5v4.9h-9.5zM119.4 326.2h4.9v4.9h-4.9zM128.5 326.2h9.5v4.9h-9.5zM142.1 326.2h9.5v4.9h-9.5zM119.4 330.7h4.9v4.9h-4.9zM128.5 330.7h9.5v4.9h-9.5zM142.1 330.7h9.5v4.9h-9.5zM119.4 335.2h4.9v4.9h-4.9zM128.5 335.2h9.5v4.9h-9.5zM142.1 335.2h9.5v4.9h-9.5zM119.4 339.8h4.9v4.9h-4.9zM128.5 339.8h9.5v4.9h-9.5zM142.1 339.8h9.5v4.9h-9.5zM119.4 344.3h4.9v4.9h-4.9zM128.5 344.3h9.5v4.9h-9.5zM142.1 344.3h9.5v4.9h-9.5zM119.4 348.8h4.9v4.9h-4.9zM128.5 348.8h9.5v4.9h-9.5zM142.1 348.8h9.5v4.9h-9.5zM119.4 353.3h4.9v4.9h-4.9zM128.5 353.3h9.5v4.9h-9.5zM142.1 353.3h9.5v4.9h-9.5zM119.4 357.8h4.9v4.9h-4.9zM128.5 357.8h9.5v4.9h-9.5zM142.1 357.8h9.5v4.9h-9.5zM119.4 362.3h4.9v4.9h-4.9zM128.5 362.3h9.5v4.9h-9.5zM142.1 362.3h9.5v4.9h-9.5zM119.4 366.8h4.9v4.9h-4.9zM128.5 366.8h9.5v4.9h-9.5zM142.1 366.8h9.5v4.9h-9.5zM119.4 371.4h4.9v4.9h-4.9zM128.5 371.4h9.5v4.9h-9.5zM142.1 371.4h9.5v4.9h-9.5zM119.4 375.9h4.9v4.9h-4.9zM128.5 375.9h9.5v4.9h-9.5zM142.1 375.9h9.5v4.9h-9.5zM119.4 380.4h4.9v4.9h-4.9zM128.5 380.4h9.5v4.9h-9.5zM142.1 380.4h9.5v4.9h-9.5zM123.9 384.9h14v4.9h-14zM142.1 384.9h14v4.9h-14zM123.9 389.4h14v4.9h-14zM142.1 389.4h14v4.9h-14z"/><path fill="#220690" d="M123.9 290.1h32.1v4.9h-32.1zM123.9 294.6h23v4.9h-23zM119.4 299.1h23v4.9h-23zM119.4 303.7h4.9v4.9h-4.9zM137.5 303.7h4.9v4.9h-4.9zM114.9 308.2h9.5v4.9h-9.5zM137.5 308.2h4.9v4.9h-4.9zM114.9 312.7h4.9v4.9h-4.9zM137.5 312.7h4.9v4.9h-4.9zM114.9 317.2h4.9v4.9h-4.9zM137.5 317.2h4.9v4.9h-4.9zM114.9 321.7h4.9v4.9h-4.9zM137.5 321.7h4.9v4.9h-4.9zM114.9 326.2h4.9v4.9h-4.9zM137.5 326.2h4.9v4.9h-4.9zM114.9 330.7h4.9v4.9h-4.9zM137.5 330.7h4.9v4.9h-4.9zM114.9 335.2h4.9v4.9h-4.9zM137.5 335.2h4.9v4.9h-4.9zM114.9 339.8h4.9v4.9h-4.9zM137.5 339.8h4.9v4.9h-4.9zM114.9 344.3h4.9v4.9h-4.9zM137.5 344.3h4.9v4.9h-4.9zM114.9 348.8h4.9v4.9h-4.9zM137.5 348.8h4.9v4.9h-4.9zM114.9 353.3h4.9v4.9h-4.9zM137.5 353.3h4.9v4.9h-4.9zM114.9 357.8h4.9v4.9h-4.9zM137.5 357.8h4.9v4.9h-4.9zM114.9 362.3h4.9v4.9h-4.9zM137.5 362.3h4.9v4.9h-4.9zM114.9 366.8h4.9v4.9h-4.9zM137.5 366.8h4.9v4.9h-4.9zM114.9 371.4h4.9v4.9h-4.9zM137.5 371.4h4.9v4.9h-4.9zM114.9 375.9h4.9v4.9h-4.9zM137.5 375.9h4.9v4.9h-4.9zM114.9 380.4h4.9v4.9h-4.9zM137.5 380.4h4.9v4.9h-4.9zM119.4 384.9h4.9v4.9h-4.9zM137.5 384.9h4.9v4.9h-4.9zM137.5 389.4h4.9v4.9h-4.9zM123.9 393.9h32.1v4.9h-32.1z"/><path fill="#260591" d="M119.4 285.6h36.6v4.9h-36.6zM119.4 290.1h4.9v4.9h-4.9zM114.9 294.6h9.5v4.9h-9.5zM110.4 299.1h9.5v4.9h-9.5zM110.4 303.7h9.5v4.9h-9.5zM155.6 303.7h4.9v4.9h-4.9zM110.4 308.2h4.9v4.9h-4.9zM155.6 308.2h4.9v4.9h-4.9zM110.4 312.7h4.9v4.9h-4.9zM155.6 312.7h4.9v4.9h-4.9zM110.4 317.2h4.9v4.9h-4.9zM155.6 317.2h4.9v4.9h-4.9zM110.4 321.7h4.9v4.9h-4.9zM155.6 321.7h4.9v4.9h-4.9zM110.4 326.2h4.9v4.9h-4.9zM155.6 326.2h4.9v4.9h-4.9zM110.4 330.7h4.9v4.9h-4.9zM155.6 330.7h4.9v4.9h-4.9zM110.4 335.2h4.9v4.9h-4.9zM155.6 335.2h4.9v4.9h-4.9zM110.4 339.8h4.9v4.9h-4.9zM155.6 339.8h4.9v4.9h-4.9zM110.4 344.3h4.9v4.9h-4.9zM155.6 344.3h4.9v4.9h-4.9zM110.4 348.8h4.9v4.9h-4.9zM155.6 348.8h4.9v4.9h-4.9zM110.4 353.3h4.9v4.9h-4.9zM155.6 353.3h4.9v4.9h-4.9zM110.4 357.8h4.9v4.9h-4.9zM155.6 357.8h4.9v4.9h-4.9zM110.4 362.3h4.9v4.9h-4.9zM155.6 362.3h4.9v4.9h-4.9zM110.4 366.8h4.9v4.9h-4.9zM155.6 366.8h4.9v4.9h-4.9zM110.4 371.4h4.9v4.9h-4.9zM155.6 371.4h4.9v4.9h-4.9zM110.4 375.9h4.9v4.9h-4.9zM155.6 375.9h4.9v4.9h-4.9zM110.4 380.4h4.9v4.9h-4.9zM114.9 384.9h4.9v4.9h-4.9zM119.4 389.4h4.9v4.9h-4.9zM119.4 393.9h4.9v4.9h-4.9zM128.5 398.4h27.6v4.9h-27.6z"/><path fill="#2a0593" d="M123.9 281.1h32.1v4.9h-32.1zM114.9 285.6h4.9v4.9h-4.9zM110.4 290.1h9.5v4.9h-9.5zM110.4 294.6h4.9v4.9h-4.9zM155.6 299.1h4.9v4.9h-4.9zM155.6 380.4h4.9v4.9h-4.9zM155.6 384.9h4.9v4.9h-4.9zM114.9 389.4h4.9v4.9h-4.9zM123.9 398.4h4.9v4.9h-4.9zM142.1 403h14v4.9h-14z"/><path fill="#2f0596" d="M110.4 281.1h14v4.9h-14zM110.4 285.6h4.9v4.9h-4.9zM155.6 294.6h4.9v4.9h-4.9zM105.8 303.7h4.9v4.9h-4.9zM105.8 308.2h4.9v4.9h-4.9zM105.8 312.7h4.9v4.9h-4.9zM160.2 312.7h4.9v4.9h-4.9zM105.8 317.2h4.9v4.9h-4.9zM160.2 317.2h4.9v4.9h-4.9zM105.8 321.7h4.9v4.9h-4.9zM160.2 321.7h4.9v4.9h-4.9zM105.8 326.2h4.9v4.9h-4.9zM160.2 326.2h4.9v4.9h-4.9zM105.8 330.7h4.9v4.9h-4.9zM160.2 330.7h4.9v4.9h-4.9zM105.8 335.2h4.9v4.9h-4.9zM160.2 335.2h4.9v4.9h-4.9zM105.8 339.8h4.9v4.9h-4.9zM160.2 339.8h4.9v4.9h-4.9zM105.8 344.3h4.9v4.9h-4.9zM160.2 344.3h4.9v4.9h-4.9zM105.8 348.8h4.9v4.9h-4.9zM160.2 348.8h4.9v4.9h-4.9zM105.8 353.3h4.9v4.9h-4.9zM160.2 353.3h4.9v4.9h-4.9zM105.8 357.8h4.9v4.9h-4.9zM160.2 357.8h4.9v4.9h-4.9zM105.8 362.3h4.9v4.9h-4.9zM160.2 362.3h4.9v4.9h-4.9zM105.8 366.8h4.9v4.9h-4.9zM160.2 366.8h4.9v4.9h-4.9zM105.8 371.4h4.9v4.9h-4.9zM105.8 375.9h4.9v4.9h-4.9zM110.4 384.9h4.9v4.9h-4.9zM155.6 389.4h4.9v4.9h-4.9zM114.9 393.9h4.9v4.9h-4.9zM128.5 403h14v4.9h-14zM151.1 407.5h4.9v4.9h-4.9zM151.1 412h4.9v16.9h-4.9z"/><path fill="#330597" d="M110.4 276.6h45.7v4.9h-45.7zM155.6 290.1h4.9v4.9h-4.9zM105.8 294.6h4.9v4.9h-4.9zM105.8 299.1h4.9v4.9h-4.9zM160.2 303.7h4.9v4.9h-4.9zM160.2 308.2h4.9v4.9h-4.9zM160.2 371.4h4.9v4.9h-4.9zM160.2 375.9h4.9v4.9h-4.9zM105.8 380.4h4.9v4.9h-4.9zM110.4 389.4h4.9v4.9h-4.9zM155.6 393.9h4.9v4.9h-4.9zM119.4 398.4h4.9v4.9h-4.9zM123.9 403h4.9v4.9h-4.9zM137.5 407.5h14v4.9h-14zM137.5 412h14v16.9h-14z"/><path fill="#370499" d="M110.4 272.1h45.7v4.9h-45.7zM105.8 285.6h4.9v4.9h-4.9zM155.6 285.6h4.9v4.9h-4.9zM105.8 290.1h4.9v4.9h-4.9zM160.2 299.1h4.9v4.9h-4.9zM101.3 303.7h4.9v4.9h-4.9zM101.3 308.2h4.9v4.9h-4.9zM101.3 312.7h4.9v4.9h-4.9zM101.3 317.2h4.9v4.9h-4.9zM101.3 321.7h4.9v4.9h-4.9zM101.3 326.2h4.9v4.9h-4.9zM101.3 330.7h4.9v4.9h-4.9zM101.3 335.2h4.9v4.9h-4.9zM101.3 339.8h4.9v4.9h-4.9zM101.3 344.3h4.9v4.9h-4.9zM101.3 348.8h4.9v4.9h-4.9zM101.3 353.3h4.9v4.9h-4.9zM101.3 357.8h4.9v4.9h-4.9zM101.3 362.3h4.9v4.9h-4.9zM101.3 366.8h4.9v4.9h-4.9zM101.3 371.4h4.9v4.9h-4.9zM101.3 375.9h4.9v4.9h-4.9zM160.2 380.4h4.9v4.9h-4.9zM105.8 384.9h4.9v4.9h-4.9zM110.4 393.9h4.9v4.9h-4.9zM128.5 407.5h9.5v4.9h-9.5zM128.5 412h9.5v16.9h-9.5z"/><path fill="#3a049a" d="M105.8 281.1h4.9v4.9h-4.9zM155.6 281.1h4.9v4.9h-4.9zM101.3 294.6h4.9v4.9h-4.9zM160.2 294.6h4.9v4.9h-4.9zM101.3 299.1h4.9v4.9h-4.9zM164.7 308.2h4.9v4.9h-4.9zM164.7 312.7h4.9v4.9h-4.9zM164.7 317.2h4.9v4.9h-4.9zM164.7 321.7h4.9v4.9h-4.9zM164.7 326.2h4.9v4.9h-4.9zM164.7 330.7h4.9v4.9h-4.9zM164.7 335.2h4.9v4.9h-4.9zM164.7 339.8h4.9v4.9h-4.9zM164.7 344.3h4.9v4.9h-4.9zM164.7 348.8h4.9v4.9h-4.9zM164.7 353.3h4.9v4.9h-4.9zM164.7 357.8h4.9v4.9h-4.9zM164.7 362.3h4.9v4.9h-4.9zM164.7 366.8h4.9v4.9h-4.9zM164.7 371.4h4.9v4.9h-4.9zM101.3 380.4h4.9v4.9h-4.9zM160.2 384.9h4.9v4.9h-4.9zM105.8 389.4h4.9v4.9h-4.9zM114.9 398.4h4.9v4.9h-4.9zM155.6 398.4h4.9v4.9h-4.9zM119.4 403h4.9v4.9h-4.9zM123.9 407.5h4.9v4.9h-4.9zM123.9 412h4.9v16.9h-4.9z"/><path fill="#3e049c" d="M119.4 267.5h27.6v4.9h-27.6zM105.8 276.6h4.9v4.9h-4.9zM101.3 290.1h4.9v4.9h-4.9zM160.2 290.1h4.9v4.9h-4.9zM164.7 303.7h4.9v4.9h-4.9zM96.8 308.2h4.9v4.9h-4.9zM96.8 312.7h4.9v4.9h-4.9zM96.8 317.2h4.9v4.9h-4.9zM96.8 321.7h4.9v4.9h-4.9zM96.8 326.2h4.9v4.9h-4.9zM96.8 330.7h4.9v4.9h-4.9zM96.8 335.2h4.9v4.9h-4.9zM96.8 339.8h4.9v4.9h-4.9zM96.8 344.3h4.9v4.9h-4.9zM96.8 348.8h4.9v4.9h-4.9zM96.8 353.3h4.9v4.9h-4.9zM96.8 357.8h4.9v4.9h-4.9zM96.8 362.3h4.9v4.9h-4.9zM96.8 366.8h4.9v4.9h-4.9zM96.8 371.4h4.9v4.9h-4.9zM164.7 375.9h4.9v4.9h-4.9zM101.3 384.9h4.9v4.9h-4.9zM160.2 389.4h4.9v4.9h-4.9z"/><path fill="#41049d" d="M123.9 263h18.5v4.9h-18.5zM110.4 267.5h9.5v4.9h-9.5zM146.6 267.5h9.5v4.9h-9.5zM105.8 272.1h4.9v4.9h-4.9zM155.6 276.6h4.9v4.9h-4.9zM101.3 281.1h4.9v4.9h-4.9zM101.3 285.6h4.9v4.9h-4.9zM96.8 299.1h4.9v4.9h-4.9zM164.7 299.1h4.9v4.9h-4.9zM96.8 303.7h4.9v4.9h-4.9zM96.8 375.9h4.9v4.9h-4.9zM96.8 380.4h4.9v4.9h-4.9zM164.7 380.4h4.9v4.9h-4.9zM105.8 393.9h4.9v4.9h-4.9zM160.2 393.9h4.9v4.9h-4.9zM110.4 398.4h4.9v4.9h-4.9zM155.6 403h4.9v4.9h-4.9z"/><path fill="#44039e" d="M119.4 263h4.9v4.9h-4.9zM142.1 263h4.9v4.9h-4.9zM155.6 272.1h4.9v4.9h-4.9zM101.3 276.6h4.9v4.9h-4.9zM160.2 285.6h4.9v4.9h-4.9zM96.8 290.1h4.9v4.9h-4.9zM96.8 294.6h4.9v4.9h-4.9zM164.7 294.6h4.9v4.9h-4.9zM92.2 312.7h4.9v4.9h-4.9zM92.2 317.2h4.9v4.9h-4.9zM92.2 321.7h4.9v4.9h-4.9zM92.2 326.2h4.9v4.9h-4.9zM92.2 330.7h4.9v4.9h-4.9zM92.2 335.2h4.9v4.9h-4.9zM92.2 339.8h4.9v4.9h-4.9zM92.2 344.3h4.9v4.9h-4.9zM92.2 348.8h4.9v4.9h-4.9zM92.2 353.3h4.9v4.9h-4.9zM92.2 357.8h4.9v4.9h-4.9zM92.2 362.3h4.9v4.9h-4.9zM92.2 366.8h4.9v4.9h-4.9zM92.2 371.4h4.9v4.9h-4.9zM96.8 384.9h4.9v4.9h-4.9zM164.7 384.9h4.9v4.9h-4.9zM101.3 389.4h4.9v4.9h-4.9zM114.9 403h4.9v4.9h-4.9zM119.4 407.5h4.9v4.9h-4.9zM119.4 412h4.9v16.9h-4.9z"/><path fill="#4903a0" d="M123.9 242h18.5v16.9h-18.5zM123.9 258.5h18.5v4.9h-18.5zM114.9 263h4.9v4.9h-4.9zM146.6 263h4.9v4.9h-4.9zM101.3 272.1h4.9v4.9h-4.9zM160.2 281.1h4.9v4.9h-4.9zM96.8 285.6h4.9v4.9h-4.9zM92.2 303.7h4.9v4.9h-4.9zM92.2 308.2h4.9v4.9h-4.9zM92.2 375.9h4.9v4.9h-4.9zM92.2 380.4h4.9v4.9h-4.9zM101.3 393.9h4.9v4.9h-4.9z"/><path fill="#4c02a1" d="M119.4 242h4.9v16.9h-4.9zM142.1 242h4.9v16.9h-4.9zM119.4 258.5h4.9v4.9h-4.9zM142.1 258.5h4.9v4.9h-4.9zM110.4 263h4.9v4.9h-4.9zM151.1 263h4.9v4.9h-4.9zM105.8 267.5h4.9v4.9h-4.9zM96.8 281.1h4.9v4.9h-4.9zM164.7 290.1h4.9v4.9h-4.9zM92.2 299.1h4.9v4.9h-4.9zM87.7 326.2h4.9v4.9h-4.9zM87.7 330.7h4.9v4.9h-4.9zM87.7 335.2h4.9v4.9h-4.9zM87.7 339.8h4.9v4.9h-4.9zM87.7 344.3h4.9v4.9h-4.9zM87.7 348.8h4.9v4.9h-4.9zM87.7 353.3h4.9v4.9h-4.9zM87.7 357.8h4.9v4.9h-4.9zM87.7 362.3h4.9v4.9h-4.9zM87.7 366.8h4.9v4.9h-4.9zM87.7 371.4h4.9v4.9h-4.9zM96.8 389.4h4.9v4.9h-4.9zM164.7 389.4h4.9v4.9h-4.9zM105.8 398.4h4.9v4.9h-4.9zM155.6 407.5h4.9v4.9h-4.9zM155.6 412h4.9v16.9h-4.9z"/><path fill="#5002a2" d="M155.6 267.5h4.9v4.9h-4.9zM96.8 276.6h4.9v4.9h-4.9zM160.2 276.6h4.9v4.9h-4.9zM92.2 294.6h4.9v4.9h-4.9zM87.7 312.7h4.9v4.9h-4.9zM87.7 317.2h4.9v4.9h-4.9zM87.7 321.7h4.9v4.9h-4.9zM87.7 375.9h4.9v4.9h-4.9zM92.2 384.9h4.9v4.9h-4.9zM160.2 398.4h4.9v4.9h-4.9zM110.4 403h4.9v4.9h-4.9zM114.9 407.5h4.9v4.9h-4.9zM114.9 412h4.9v16.9h-4.9z"/><path fill="#5302a3" d="M114.9 242h4.9v16.9h-4.9zM146.6 242h4.9v16.9h-4.9zM114.9 258.5h4.9v4.9h-4.9zM146.6 258.5h4.9v4.9h-4.9zM101.3 267.5h4.9v4.9h-4.9zM96.8 272.1h4.9v4.9h-4.9zM160.2 272.1h4.9v4.9h-4.9zM92.2 285.6h4.9v4.9h-4.9zM164.7 285.6h4.9v4.9h-4.9zM92.2 290.1h4.9v4.9h-4.9zM87.7 299.1h4.9v4.9h-4.9zM87.7 303.7h4.9v4.9h-4.9zM87.7 308.2h4.9v4.9h-4.9zM83.2 330.7h4.9v4.9h-4.9zM83.2 335.2h4.9v4.9h-4.9zM83.2 339.8h4.9v4.9h-4.9zM83.2 344.3h4.9v4.9h-4.9zM83.2 348.8h4.9v4.9h-4.9zM83.2 353.3h4.9v4.9h-4.9zM83.2 357.8h4.9v4.9h-4.9zM83.2 362.3h4.9v4.9h-4.9zM83.2 366.8h4.9v4.9h-4.9zM83.2 371.4h4.9v4.9h-4.9zM87.7 380.4h4.9v4.9h-4.9zM96.8 393.9h4.9v4.9h-4.9zM164.7 393.9h4.9v4.9h-4.9z"/><path fill="#5601a4" d="M110.4 242h4.9v16.9h-4.9zM151.1 242h4.9v16.9h-4.9zM110.4 258.5h4.9v4.9h-4.9zM151.1 258.5h4.9v4.9h-4.9zM105.8 263h4.9v4.9h-4.9zM164.7 281.1h4.9v4.9h-4.9zM169.2 312.7h4.9v4.9h-4.9zM169.2 317.2h4.9v4.9h-4.9zM83.2 321.7h4.9v4.9h-4.9zM169.2 321.7h4.9v4.9h-4.9zM83.2 326.2h4.9v4.9h-4.9zM169.2 326.2h4.9v4.9h-4.9zM169.2 330.7h4.9v4.9h-4.9zM169.2 335.2h4.9v4.9h-4.9zM169.2 339.8h4.9v4.9h-4.9zM169.2 344.3h4.9v4.9h-4.9zM169.2 348.8h4.9v4.9h-4.9zM169.2 353.3h4.9v4.9h-4.9zM83.2 375.9h4.9v4.9h-4.9zM92.2 389.4h4.9v4.9h-4.9z"/><path fill="#5901a5" d="M155.6 263h4.9v4.9h-4.9zM92.2 281.1h4.9v4.9h-4.9zM87.7 294.6h4.9v4.9h-4.9zM83.2 308.2h4.9v4.9h-4.9zM169.2 308.2h4.9v4.9h-4.9zM83.2 312.7h4.9v4.9h-4.9zM83.2 317.2h4.9v4.9h-4.9zM78.7 339.8h4.9v4.9h-4.9zM78.7 344.3h4.9v4.9h-4.9zM78.7 348.8h4.9v4.9h-4.9zM78.7 353.3h4.9v4.9h-4.9zM78.7 357.8h4.9v4.9h-4.9zM169.2 357.8h4.9v4.9h-4.9zM78.7 362.3h4.9v4.9h-4.9zM169.2 362.3h4.9v4.9h-4.9zM78.7 366.8h4.9v4.9h-4.9zM169.2 366.8h4.9v4.9h-4.9zM83.2 380.4h4.9v4.9h-4.9zM87.7 384.9h4.9v4.9h-4.9zM101.3 398.4h4.9v4.9h-4.9zM105.8 403h4.9v4.9h-4.9zM160.2 403h4.9v4.9h-4.9zM110.4 407.5h4.9v4.9h-4.9zM110.4 412h4.9v16.9h-4.9z"/><path fill="#5e01a6" d="M101.3 263h4.9v4.9h-4.9zM96.8 267.5h4.9v4.9h-4.9zM160.2 267.5h4.9v4.9h-4.9zM92.2 276.6h4.9v4.9h-4.9zM164.7 276.6h4.9v4.9h-4.9zM87.7 290.1h4.9v4.9h-4.9zM83.2 299.1h4.9v4.9h-4.9zM83.2 303.7h4.9v4.9h-4.9zM169.2 303.7h4.9v4.9h-4.9zM78.7 330.7h4.9v4.9h-4.9zM78.7 335.2h4.9v4.9h-4.9zM78.7 371.4h4.9v4.9h-4.9zM169.2 371.4h4.9v4.9h-4.9zM92.2 393.9h4.9v4.9h-4.9z"/><path fill="#6100a7" d="M105.8 242h4.9v16.9h-4.9zM105.8 258.5h4.9v4.9h-4.9zM92.2 272.1h4.9v4.9h-4.9zM164.7 272.1h4.9v4.9h-4.9zM87.7 285.6h4.9v4.9h-4.9zM83.2 294.6h4.9v4.9h-4.9zM169.2 299.1h4.9v4.9h-4.9zM78.7 317.2h4.9v4.9h-4.9zM78.7 321.7h4.9v4.9h-4.9zM78.7 326.2h4.9v4.9h-4.9zM74.1 339.8h4.9v4.9h-4.9zM74.1 344.3h4.9v4.9h-4.9zM74.1 348.8h4.9v4.9h-4.9zM74.1 353.3h4.9v4.9h-4.9zM74.1 357.8h4.9v4.9h-4.9zM74.1 362.3h4.9v4.9h-4.9zM74.1 366.8h4.9v4.9h-4.9zM78.7 375.9h4.9v4.9h-4.9zM78.7 380.4h4.9v4.9h-4.9zM83.2 384.9h4.9v4.9h-4.9zM87.7 389.4h4.9v4.9h-4.9zM164.7 398.4h4.9v4.9h-4.9z"/><path fill="#6400a7" d="M155.6 242h4.9v16.9h-4.9zM155.6 258.5h4.9v4.9h-4.9zM87.7 281.1h4.9v4.9h-4.9zM169.2 294.6h4.9v4.9h-4.9zM78.7 308.2h4.9v4.9h-4.9zM78.7 312.7h4.9v4.9h-4.9zM74.1 335.2h4.9v4.9h-4.9zM74.1 371.4h4.9v4.9h-4.9zM169.2 375.9h4.9v4.9h-4.9zM96.8 398.4h4.9v4.9h-4.9zM160.2 407.5h4.9v4.9h-4.9zM160.2 412h4.9v16.9h-4.9z"/><path fill="#6700a8" d="M101.3 242h4.9v16.9h-4.9zM101.3 258.5h4.9v4.9h-4.9zM96.8 263h4.9v4.9h-4.9zM160.2 263h4.9v4.9h-4.9zM83.2 290.1h4.9v4.9h-4.9zM169.2 290.1h4.9v4.9h-4.9zM78.7 299.1h4.9v4.9h-4.9zM78.7 303.7h4.9v4.9h-4.9zM74.1 326.2h4.9v4.9h-4.9zM74.1 330.7h4.9v4.9h-4.9zM69.6 344.3h4.9v4.9h-4.9zM69.6 348.8h4.9v4.9h-4.9zM69.6 353.3h4.9v4.9h-4.9zM69.6 357.8h4.9v4.9h-4.9zM69.6 362.3h4.9v4.9h-4.9zM74.1 375.9h4.9v4.9h-4.9zM169.2 380.4h4.9v4.9h-4.9zM87.7 393.9h4.9v4.9h-4.9zM101.3 403h4.9v4.9h-4.9zM105.8 407.5h4.9v4.9h-4.9zM105.8 412h4.9v16.9h-4.9z"/><path fill="#6a00a8" d="M92.2 267.5h4.9v4.9h-4.9zM164.7 267.5h4.9v4.9h-4.9zM87.7 276.6h4.9v4.9h-4.9zM83.2 285.6h4.9v4.9h-4.9zM169.2 285.6h4.9v4.9h-4.9zM74.1 317.2h4.9v4.9h-4.9zM74.1 321.7h4.9v4.9h-4.9zM69.6 339.8h4.9v4.9h-4.9zM69.6 366.8h4.9v4.9h-4.9zM74.1 380.4h4.9v4.9h-4.9zM78.7 384.9h4.9v4.9h-4.9zM83.2 389.4h4.9v4.9h-4.9zM92.2 398.4h4.9v4.9h-4.9z"/><path fill="#6e00a8" d="M78.7 294.6h4.9v4.9h-4.9zM74.1 308.2h4.9v4.9h-4.9zM74.1 312.7h4.9v4.9h-4.9zM69.6 330.7h4.9v4.9h-4.9zM69.6 335.2h4.9v4.9h-4.9zM69.6 371.4h4.9v4.9h-4.9zM69.6 375.9h4.9v4.9h-4.9zM169.2 384.9h4.9v4.9h-4.9zM164.7 403h4.9v4.9h-4.9z"/><path fill="#7100a8" d="M96.8 242h4.9v16.9h-4.9zM160.2 242h4.9v16.9h-4.9zM96.8 258.5h4.9v4.9h-4.9zM160.2 258.5h4.9v4.9h-4.9zM87.7 272.1h4.9v4.9h-4.9zM83.2 281.1h4.9v4.9h-4.9zM169.2 281.1h4.9v4.9h-4.9zM74.1 303.7h4.9v4.9h-4.9zM69.6 326.2h4.9v4.9h-4.9zM69.6 380.4h4.9v4.9h-4.9zM74.1 384.9h4.9v4.9h-4.9zM78.7 389.4h4.9v4.9h-4.9zM83.2 393.9h4.9v4.9h-4.9z"/><path fill="#7501a8" d="M92.2 263h4.9v4.9h-4.9zM164.7 263h4.9v4.9h-4.9zM169.2 276.6h4.9v4.9h-4.9zM78.7 290.1h4.9v4.9h-4.9zM74.1 299.1h4.9v4.9h-4.9zM69.6 312.7h4.9v4.9h-4.9zM173.8 312.7h4.9v4.9h-4.9zM69.6 317.2h4.9v4.9h-4.9zM173.8 317.2h4.9v4.9h-4.9zM69.6 321.7h4.9v4.9h-4.9zM173.8 321.7h4.9v4.9h-4.9zM173.8 326.2h4.9v4.9h-4.9zM173.8 330.7h4.9v4.9h-4.9zM173.8 335.2h4.9v4.9h-4.9zM173.8 339.8h4.9v4.9h-4.9zM173.8 344.3h4.9v4.9h-4.9zM65.1 348.8h4.9v4.9h-4.9zM173.8 348.8h4.9v4.9h-4.9zM65.1 353.3h4.9v4.9h-4.9zM173.8 353.3h4.9v4.9h-4.9zM65.1 357.8h4.9v4.9h-4.9zM65.1 362.3h4.9v4.9h-4.9zM65.1 366.8h4.9v4.9h-4.9zM87.7 398.4h4.9v4.9h-4.9zM96.8 403h4.9v4.9h-4.9z"/><path fill="#7801a8" d="M87.7 267.5h4.9v4.9h-4.9zM169.2 272.1h4.9v4.9h-4.9zM69.6 308.2h4.9v4.9h-4.9zM173.8 308.2h4.9v4.9h-4.9zM65.1 344.3h4.9v4.9h-4.9zM173.8 357.8h4.9v4.9h-4.9zM173.8 362.3h4.9v4.9h-4.9zM65.1 371.4h4.9v4.9h-4.9zM169.2 389.4h4.9v4.9h-4.9zM101.3 407.5h4.9v4.9h-4.9zM101.3 412h4.9v16.9h-4.9z"/><path fill="#7b02a8" d="M92.2 242h4.9v16.9h-4.9zM92.2 258.5h4.9v4.9h-4.9zM83.2 276.6h4.9v4.9h-4.9zM78.7 285.6h4.9v4.9h-4.9zM74.1 294.6h4.9v4.9h-4.9zM173.8 299.1h4.9v4.9h-4.9zM69.6 303.7h4.9v4.9h-4.9zM173.8 303.7h4.9v4.9h-4.9zM65.1 335.2h4.9v4.9h-4.9zM65.1 339.8h4.9v4.9h-4.9zM173.8 366.8h4.9v4.9h-4.9zM65.1 375.9h4.9v4.9h-4.9zM65.1 380.4h4.9v4.9h-4.9zM69.6 384.9h4.9v4.9h-4.9zM74.1 389.4h4.9v4.9h-4.9zM78.7 393.9h4.9v4.9h-4.9zM83.2 398.4h4.9v4.9h-4.9zM92.2 403h4.9v4.9h-4.9z"/><path fill="#7e03a8" d="M164.7 242h4.9v16.9h-4.9zM164.7 258.5h4.9v4.9h-4.9zM87.7 263h4.9v4.9h-4.9zM169.2 267.5h4.9v4.9h-4.9zM173.8 294.6h4.9v4.9h-4.9zM69.6 299.1h4.9v4.9h-4.9zM65.1 330.7h4.9v4.9h-4.9zM173.8 371.4h4.9v4.9h-4.9zM169.2 393.9h4.9v4.9h-4.9zM164.7 407.5h4.9v4.9h-4.9zM164.7 412h4.9v16.9h-4.9z"/><path fill="#8104a7" d="M83.2 272.1h4.9v4.9h-4.9zM78.7 281.1h4.9v4.9h-4.9zM74.1 290.1h4.9v4.9h-4.9zM173.8 290.1h4.9v4.9h-4.9zM65.1 312.7h4.9v4.9h-4.9zM65.1 317.2h4.9v4.9h-4.9zM65.1 321.7h4.9v4.9h-4.9zM65.1 326.2h4.9v4.9h-4.9zM60.6 348.8h4.9v4.9h-4.9zM60.6 353.3h4.9v4.9h-4.9zM60.6 357.8h4.9v4.9h-4.9zM60.6 362.3h4.9v4.9h-4.9zM60.6 366.8h4.9v4.9h-4.9zM60.6 371.4h4.9v4.9h-4.9zM69.6 389.4h4.9v4.9h-4.9zM74.1 393.9h4.9v4.9h-4.9zM87.7 403h4.9v4.9h-4.9z"/><path fill="#8405a7" d="M173.8 285.6h4.9v4.9h-4.9zM65.1 308.2h4.9v4.9h-4.9zM60.6 344.3h4.9v4.9h-4.9zM60.6 375.9h4.9v4.9h-4.9zM173.8 375.9h4.9v4.9h-4.9zM78.7 398.4h4.9v4.9h-4.9zM96.8 407.5h4.9v4.9h-4.9zM96.8 412h4.9v16.9h-4.9z"/><path fill="#8707a6" d="M87.7 242h4.9v16.9h-4.9zM87.7 258.5h4.9v4.9h-4.9zM169.2 263h4.9v4.9h-4.9zM83.2 267.5h4.9v4.9h-4.9zM173.8 281.1h4.9v4.9h-4.9zM74.1 285.6h4.9v4.9h-4.9zM69.6 294.6h4.9v4.9h-4.9zM65.1 303.7h4.9v4.9h-4.9zM60.6 339.8h4.9v4.9h-4.9zM60.6 380.4h4.9v4.9h-4.9zM65.1 384.9h4.9v4.9h-4.9zM69.6 393.9h4.9v4.9h-4.9zM83.2 403h4.9v4.9h-4.9zM92.2 407.5h4.9v4.9h-4.9zM92.2 412h4.9v16.9h-4.9z"/><path fill="#8b0aa5" d="M83.2 263h4.9v4.9h-4.9zM78.7 276.6h4.9v4.9h-4.9zM173.8 276.6h4.9v4.9h-4.9zM65.1 299.1h4.9v4.9h-4.9zM60.6 330.7h4.9v4.9h-4.9zM60.6 335.2h4.9v4.9h-4.9zM173.8 380.4h4.9v4.9h-4.9zM74.1 398.4h4.9v4.9h-4.9zM169.2 398.4h4.9v4.9h-4.9z"/><path fill="#8e0ca4" d="M169.2 242h4.9v16.9h-4.9zM169.2 258.5h4.9v4.9h-4.9zM173.8 272.1h4.9v4.9h-4.9zM69.6 290.1h4.9v4.9h-4.9zM60.6 312.7h4.9v4.9h-4.9zM60.6 317.2h4.9v4.9h-4.9zM60.6 321.7h4.9v4.9h-4.9zM60.6 326.2h4.9v4.9h-4.9zM39.5 353.3h21.5v4.9h-21.5zM39.5 357.8h21.5v4.9h-21.5zM39.5 362.3h21.5v4.9h-21.5zM39.5 366.8h21.5v4.9h-21.5zM39.5 371.4h21.5v4.9h-21.5zM39.5 375.9h21.5v4.9h-21.5zM78.7 403h4.9v4.9h-4.9zM87.7 407.5h4.9v4.9h-4.9zM87.7 412h4.9v16.9h-4.9z"/><path fill="#910ea3" d="M83.2 242h4.9v16.9h-4.9zM83.2 258.5h4.9v4.9h-4.9zM60.6 308.2h4.9v4.9h-4.9zM178.3 308.2h4.9v4.9h-4.9zM178.3 312.7h4.9v4.9h-4.9zM178.3 317.2h4.9v4.9h-4.9zM178.3 321.7h4.9v4.9h-4.9zM178.3 326.2h4.9v4.9h-4.9zM178.3 330.7h4.9v4.9h-4.9zM178.3 335.2h4.9v4.9h-4.9zM178.3 339.8h4.9v4.9h-4.9zM178.3 344.3h4.9v4.9h-4.9zM39.5 348.8h21.5v4.9h-21.5zM178.3 348.8h4.9v4.9h-4.9zM178.3 353.3h4.9v4.9h-4.9zM178.3 357.8h4.9v4.9h-4.9zM39.5 380.4h21.5v4.9h-21.5zM60.6 384.9h4.9v4.9h-4.9zM65.1 389.4h4.9v4.9h-4.9zM69.6 398.4h4.9v4.9h-4.9zM83.2 407.5h4.9v4.9h-4.9zM83.2 412h4.9v16.9h-4.9z"/><path fill="#9410a2" d="M173.8 267.5h4.9v4.9h-4.9zM78.7 272.1h4.9v4.9h-4.9zM74.1 281.1h4.9v4.9h-4.9zM65.1 294.6h4.9v4.9h-4.9zM60.6 303.7h4.9v4.9h-4.9zM178.3 303.7h4.9v4.9h-4.9zM39.5 344.3h21.5v4.9h-21.5zM178.3 362.3h4.9v4.9h-4.9zM173.8 384.9h4.9v4.9h-4.9zM74.1 403h4.9v4.9h-4.9z"/><path fill="#9613a1" d="M173.8 263h4.9v4.9h-4.9zM78.7 267.5h4.9v4.9h-4.9zM69.6 285.6h4.9v4.9h-4.9zM178.3 294.6h4.9v4.9h-4.9zM60.6 299.1h4.9v4.9h-4.9zM178.3 299.1h4.9v4.9h-4.9zM39.5 335.2h21.5v4.9h-21.5zM39.5 339.8h21.5v4.9h-21.5zM178.3 366.8h4.9v4.9h-4.9zM78.7 407.5h4.9v4.9h-4.9zM78.7 412h4.9v16.9h-4.9z"/><path fill="#99159f" d="M78.7 263h4.9v4.9h-4.9zM178.3 285.6h4.9v4.9h-4.9zM178.3 290.1h4.9v4.9h-4.9zM39.5 312.7h21.5v4.9h-21.5zM39.5 317.2h21.5v4.9h-21.5zM39.5 321.7h21.5v4.9h-21.5zM39.5 326.2h21.5v4.9h-21.5zM39.5 330.7h21.5v4.9h-21.5zM65.1 393.9h4.9v4.9h-4.9zM169.2 403h4.9v4.9h-4.9z"/><path fill="#9d189d" d="M78.7 242h4.9v16.9h-4.9zM173.8 242h4.9v16.9h-4.9zM78.7 258.5h4.9v4.9h-4.9zM173.8 258.5h4.9v4.9h-4.9zM74.1 276.6h4.9v4.9h-4.9zM178.3 281.1h4.9v4.9h-4.9zM65.1 290.1h4.9v4.9h-4.9zM39.5 308.2h21.5v4.9h-21.5zM182.8 339.8h4.9v4.9h-4.9zM182.8 344.3h4.9v4.9h-4.9zM182.8 348.8h4.9v4.9h-4.9zM182.8 353.3h4.9v4.9h-4.9zM182.8 357.8h4.9v4.9h-4.9zM178.3 371.4h4.9v4.9h-4.9zM39.5 384.9h21.5v4.9h-21.5zM60.6 389.4h4.9v4.9h-4.9zM173.8 389.4h4.9v4.9h-4.9zM69.6 403h4.9v4.9h-4.9zM74.1 407.5h4.9v4.9h-4.9zM74.1 412h4.9v16.9h-4.9z"/><path fill="#a01a9c" d="M178.3 276.6h4.9v4.9h-4.9zM182.8 317.2h4.9v4.9h-4.9zM182.8 321.7h4.9v4.9h-4.9zM182.8 326.2h4.9v4.9h-4.9zM182.8 330.7h4.9v4.9h-4.9zM182.8 335.2h4.9v4.9h-4.9zM182.8 362.3h4.9v4.9h-4.9z"/><path fill="#a21d9a" d="M178.3 272.1h4.9v4.9h-4.9zM69.6 281.1h4.9v4.9h-4.9zM60.6 294.6h4.9v4.9h-4.9zM39.5 303.7h21.5v4.9h-21.5zM182.8 308.2h4.9v4.9h-4.9zM182.8 312.7h4.9v4.9h-4.9zM182.8 366.8h4.9v4.9h-4.9zM65.1 398.4h4.9v4.9h-4.9z"/><path fill="#a51f99" d="M178.3 267.5h4.9v4.9h-4.9zM39.5 299.1h21.5v4.9h-21.5zM182.8 303.7h4.9v4.9h-4.9zM178.3 375.9h4.9v4.9h-4.9zM69.6 407.5h4.9v4.9h-4.9zM169.2 407.5h4.9v4.9h-4.9zM69.6 412h4.9v16.9h-4.9zM169.2 412h4.9v16.9h-4.9z"/><path fill="#a72197" d="M178.3 263h4.9v4.9h-4.9zM74.1 267.5h4.9v4.9h-4.9zM74.1 272.1h4.9v4.9h-4.9zM182.8 272.1h4.9v4.9h-4.9zM182.8 276.6h4.9v4.9h-4.9zM182.8 281.1h4.9v4.9h-4.9zM65.1 285.6h4.9v4.9h-4.9zM182.8 285.6h4.9v4.9h-4.9zM182.8 290.1h4.9v4.9h-4.9zM182.8 294.6h4.9v4.9h-4.9zM182.8 299.1h4.9v4.9h-4.9zM187.3 348.8h4.9v4.9h-4.9zM187.3 353.3h4.9v4.9h-4.9zM187.3 357.8h4.9v4.9h-4.9zM182.8 371.4h4.9v4.9h-4.9zM60.6 393.9h4.9v4.9h-4.9zM173.8 393.9h4.9v4.9h-4.9z"/><path fill="#aa2395" d="M74.1 242h4.9v16.9h-4.9zM178.3 242h4.9v16.9h-4.9zM74.1 258.5h4.9v4.9h-4.9zM178.3 258.5h4.9v4.9h-4.9zM74.1 263h4.9v4.9h-4.9zM182.8 267.5h4.9v4.9h-4.9zM187.3 335.2h4.9v4.9h-4.9zM187.3 339.8h4.9v4.9h-4.9zM187.3 344.3h4.9v4.9h-4.9zM187.3 362.3h4.9v4.9h-4.9zM178.3 380.4h4.9v4.9h-4.9zM39.5 389.4h21.5v4.9h-21.5zM65.1 403h4.9v4.9h-4.9z"/><path fill="#ac2694" d="M182.8 263h4.9v4.9h-4.9zM69.6 276.6h4.9v4.9h-4.9zM60.6 290.1h4.9v4.9h-4.9zM187.3 326.2h4.9v4.9h-4.9zM187.3 330.7h4.9v4.9h-4.9zM187.3 366.8h4.9v4.9h-4.9z"/><path fill="#b02991" d="M182.8 242h4.9v16.9h-4.9zM182.8 258.5h4.9v4.9h-4.9zM187.3 272.1h4.9v4.9h-4.9zM187.3 276.6h4.9v4.9h-4.9zM39.5 294.6h21.5v4.9h-21.5zM187.3 317.2h4.9v4.9h-4.9zM187.3 321.7h4.9v4.9h-4.9zM182.8 375.9h4.9v4.9h-4.9z"/><path fill="#b22b8f" d="M187.3 267.5h4.9v4.9h-4.9zM65.1 281.1h4.9v4.9h-4.9zM187.3 281.1h4.9v4.9h-4.9zM187.3 285.6h4.9v4.9h-4.9zM187.3 290.1h4.9v4.9h-4.9zM187.3 308.2h4.9v4.9h-4.9zM187.3 312.7h4.9v4.9h-4.9zM191.9 348.8h4.9v4.9h-4.9zM191.9 353.3h4.9v4.9h-4.9zM191.9 357.8h4.9v4.9h-4.9zM187.3 371.4h4.9v4.9h-4.9zM60.6 398.4h4.9v4.9h-4.9zM173.8 398.4h4.9v4.9h-4.9zM65.1 407.5h4.9v4.9h-4.9zM65.1 412h4.9v16.9h-4.9z"/><path fill="#b42e8d" d="M187.3 242h4.9v16.9h-4.9zM187.3 258.5h4.9v4.9h-4.9zM187.3 263h4.9v4.9h-4.9zM60.6 285.6h4.9v4.9h-4.9zM187.3 294.6h4.9v4.9h-4.9zM187.3 299.1h4.9v4.9h-4.9zM187.3 303.7h4.9v4.9h-4.9zM191.9 344.3h4.9v4.9h-4.9zM191.9 362.3h4.9v4.9h-4.9zM182.8 380.4h4.9v4.9h-4.9zM178.3 384.9h4.9v4.9h-4.9z"/><path fill="#b6308b" d="M69.6 242h4.9v16.9h-4.9zM69.6 258.5h4.9v4.9h-4.9zM69.6 263h4.9v4.9h-4.9zM69.6 267.5h4.9v4.9h-4.9zM191.9 267.5h4.9v4.9h-4.9zM69.6 272.1h4.9v4.9h-4.9zM191.9 272.1h4.9v4.9h-4.9zM191.9 335.2h4.9v4.9h-4.9zM191.9 339.8h4.9v4.9h-4.9zM191.9 366.8h4.9v4.9h-4.9zM39.5 393.9h21.5v4.9h-21.5z"/><path fill="#b83289" d="M191.9 242h4.9v16.9h-4.9zM191.9 258.5h4.9v4.9h-4.9zM191.9 263h4.9v4.9h-4.9zM196.4 267.5h4.9v4.9h-4.9zM196.4 272.1h4.9v4.9h-4.9zM191.9 276.6h4.9v4.9h-4.9zM39.5 290.1h21.5v4.9h-21.5zM191.9 326.2h4.9v4.9h-4.9zM191.9 330.7h4.9v4.9h-4.9zM187.3 375.9h4.9v4.9h-4.9zM60.6 403h4.9v4.9h-4.9z"/><path fill="#bb3488" d="M196.4 242h4.9v16.9h-4.9zM196.4 258.5h4.9v4.9h-4.9zM196.4 263h4.9v4.9h-4.9zM200.9 267.5h4.9v4.9h-4.9zM200.9 272.1h4.9v4.9h-4.9zM65.1 276.6h4.9v4.9h-4.9zM196.4 276.6h4.9v4.9h-4.9zM191.9 281.1h4.9v4.9h-4.9zM191.9 285.6h4.9v4.9h-4.9zM191.9 321.7h4.9v4.9h-4.9zM196.4 353.3h4.9v4.9h-4.9zM196.4 357.8h4.9v4.9h-4.9zM196.4 362.3h4.9v4.9h-4.9zM196.4 366.8h4.9v4.9h-4.9zM191.9 371.4h4.9v4.9h-4.9zM173.8 403h4.9v4.9h-4.9z"/><path fill="#be3885" d="M200.9 242h4.9v16.9h-4.9zM200.9 258.5h4.9v4.9h-4.9zM200.9 263h4.9v4.9h-4.9zM191.9 290.1h4.9v4.9h-4.9zM191.9 317.2h4.9v4.9h-4.9zM196.4 348.8h4.9v4.9h-4.9zM187.3 380.4h4.9v4.9h-4.9zM182.8 384.9h4.9v4.9h-4.9zM178.3 389.4h4.9v4.9h-4.9zM39.5 398.4h21.5v4.9h-21.5z"/><path fill="#c03a83" d="M205.4 242h21.5v16.9h-21.5zM205.4 258.5h21.5v4.9h-21.5zM205.4 263h21.5v4.9h-21.5zM205.4 267.5h21.5v4.9h-21.5zM205.4 272.1h21.5v4.9h-21.5zM200.9 276.6h4.9v4.9h-4.9zM60.6 281.1h4.9v4.9h-4.9zM196.4 281.1h4.9v4.9h-4.9zM191.9 294.6h4.9v4.9h-4.9zM191.9 303.7h4.9v4.9h-4.9zM191.9 308.2h4.9v4.9h-4.9zM191.9 312.7h4.9v4.9h-4.9zM196.4 371.4h4.9v4.9h-4.9zM60.6 407.5h4.9v4.9h-4.9zM60.6 412h4.9v16.9h-4.9z"/><path fill="#c23c81" d="M65.1 242h4.9v16.9h-4.9zM65.1 258.5h4.9v4.9h-4.9zM39.5 285.6h21.5v4.9h-21.5zM196.4 285.6h4.9v4.9h-4.9zM191.9 299.1h4.9v4.9h-4.9zM196.4 344.3h4.9v4.9h-4.9zM200.9 357.8h4.9v4.9h-4.9zM200.9 362.3h4.9v4.9h-4.9zM200.9 366.8h4.9v4.9h-4.9zM191.9 375.9h4.9v4.9h-4.9z"/><path fill="#c43e7f" d="M65.1 263h4.9v4.9h-4.9zM65.1 267.5h4.9v4.9h-4.9zM65.1 272.1h4.9v4.9h-4.9zM205.4 276.6h21.5v4.9h-21.5zM200.9 281.1h4.9v4.9h-4.9zM196.4 290.1h4.9v4.9h-4.9zM200.9 353.3h4.9v4.9h-4.9zM39.5 403h21.5v4.9h-21.5zM173.8 407.5h4.9v4.9h-4.9zM173.8 412h4.9v16.9h-4.9z"/><path fill="#c6417d" d="M200.9 285.6h4.9v4.9h-4.9zM196.4 294.6h4.9v4.9h-4.9zM196.4 339.8h4.9v4.9h-4.9zM205.4 366.8h21.5v4.9h-21.5zM200.9 371.4h4.9v4.9h-4.9zM196.4 375.9h4.9v4.9h-4.9zM191.9 380.4h4.9v4.9h-4.9zM178.3 393.9h4.9v4.9h-4.9z"/><path fill="#c8437b" d="M60.6 276.6h4.9v4.9h-4.9zM205.4 281.1h21.5v4.9h-21.5zM196.4 299.1h4.9v4.9h-4.9zM196.4 330.7h4.9v4.9h-4.9zM196.4 335.2h4.9v4.9h-4.9zM200.9 348.8h4.9v4.9h-4.9zM205.4 362.3h21.5v4.9h-21.5zM200.9 375.9h4.9v4.9h-4.9zM187.3 384.9h4.9v4.9h-4.9zM182.8 389.4h4.9v4.9h-4.9z"/><path fill="#ca457a" d="M200.9 290.1h4.9v4.9h-4.9zM196.4 303.7h4.9v4.9h-4.9zM196.4 308.2h4.9v4.9h-4.9zM196.4 317.2h4.9v4.9h-4.9zM196.4 321.7h4.9v4.9h-4.9zM196.4 326.2h4.9v4.9h-4.9zM205.4 357.8h21.5v4.9h-21.5zM205.4 371.4h21.5v4.9h-21.5zM196.4 380.4h4.9v4.9h-4.9z"/><path fill="#cc4977" d="M60.6 242h4.9v16.9h-4.9zM60.6 258.5h4.9v4.9h-4.9zM39.5 281.1h21.5v4.9h-21.5zM205.4 285.6h21.5v4.9h-21.5zM200.9 294.6h4.9v4.9h-4.9zM196.4 312.7h4.9v4.9h-4.9zM205.4 353.3h21.5v4.9h-21.5zM205.4 375.9h21.5v4.9h-21.5zM200.9 380.4h4.9v4.9h-4.9zM39.5 407.5h21.5v4.9h-21.5zM39.5 412h21.5v16.9h-21.5z"/><path fill="#ce4b75" d="M60.6 263h4.9v4.9h-4.9zM205.4 290.1h21.5v4.9h-21.5zM200.9 344.3h4.9v4.9h-4.9zM178.3 398.4h4.9v4.9h-4.9z"/><path fill="#d04d73" d="M60.6 267.5h4.9v4.9h-4.9zM200.9 299.1h4.9v4.9h-4.9zM205.4 380.4h21.5v4.9h-21.5zM191.9 384.9h4.9v4.9h-4.9zM187.3 389.4h4.9v4.9h-4.9zM182.8 393.9h4.9v4.9h-4.9z"/><path fill="#d24f71" d="M60.6 272.1h4.9v4.9h-4.9zM205.4 294.6h21.5v4.9h-21.5zM200.9 303.7h4.9v4.9h-4.9zM205.4 348.8h21.5v4.9h-21.5z"/><path fill="#d45270" d="M39.5 276.6h21.5v4.9h-21.5zM200.9 308.2h4.9v4.9h-4.9zM200.9 339.8h4.9v4.9h-4.9zM196.4 384.9h4.9v4.9h-4.9z"/><path fill="#d5546e" d="M39.5 242h21.5v16.9h-21.5zM39.5 258.5h21.5v4.9h-21.5zM205.4 299.1h21.5v4.9h-21.5zM200.9 312.7h4.9v4.9h-4.9zM200.9 335.2h4.9v4.9h-4.9zM178.3 403h4.9v4.9h-4.9z"/><path fill="#d7566c" d="M200.9 317.2h4.9v4.9h-4.9zM200.9 321.7h4.9v4.9h-4.9zM200.9 326.2h4.9v4.9h-4.9zM200.9 330.7h4.9v4.9h-4.9zM200.9 384.9h4.9v4.9h-4.9zM182.8 398.4h4.9v4.9h-4.9z"/><path fill="#da5a6a" d="M39.5 263h21.5v4.9h-21.5zM205.4 303.7h21.5v4.9h-21.5zM205.4 344.3h21.5v4.9h-21.5zM191.9 389.4h4.9v4.9h-4.9zM187.3 393.9h4.9v4.9h-4.9z"/><path fill="#db5c68" d="M39.5 267.5h21.5v4.9h-21.5zM205.4 384.9h21.5v4.9h-21.5z"/><path fill="#dd5e66" d="M39.5 272.1h21.5v4.9h-21.5zM205.4 308.2h21.5v4.9h-21.5zM196.4 389.4h4.9v4.9h-4.9zM178.3 407.5h4.9v4.9h-4.9zM178.3 412h4.9v16.9h-4.9z"/><path fill="#e06363" d="M205.4 312.7h21.5v4.9h-21.5zM205.4 339.8h21.5v4.9h-21.5zM191.9 393.9h4.9v4.9h-4.9zM182.8 403h4.9v4.9h-4.9z"/><path fill="#e26561" d="M205.4 317.2h21.5v4.9h-21.5zM205.4 335.2h21.5v4.9h-21.5zM200.9 389.4h4.9v4.9h-4.9zM187.3 398.4h4.9v4.9h-4.9z"/><path fill="#e4695e" d="M205.4 321.7h21.5v4.9h-21.5zM205.4 330.7h21.5v4.9h-21.5z"/><path fill="#e56b5d" d="M205.4 326.2h21.5v4.9h-21.5z"/><path fill="#e76e5b" d="M205.4 389.4h21.5v4.9h-21.5zM196.4 393.9h4.9v4.9h-4.9zM182.8 407.5h4.9v4.9h-4.9zM182.8 412h4.9v16.9h-4.9z"/><path fill="#e97257" d="M191.9 398.4h4.9v4.9h-4.9zM187.3 403h4.9v4.9h-4.9z"/><path fill="#eb7556" d="M200.9 393.9h4.9v4.9h-4.9z"/><path fill="#ef7e50" d="M205.4 393.9h21.5v4.9h-21.5zM196.4 398.4h4.9v4.9h-4.9z"/><path fill="#f0804e" d="M187.3 407.5h4.9v4.9h-4.9zM187.3 412h4.9v16.9h-4.9z"/><path fill="#f1834c" d="M191.9 403h4.9v4.9h-4.9z"/><path fill="#f48849" d="M200.9 398.4h4.9v4.9h-4.9z"/><path fill="#f79143" d="M196.4 403h4.9v4.9h-4.9zM191.9 407.5h4.9v4.9h-4.9zM191.9 412h4.9v16.9h-4.9z"/><path fill="#f9973f" d="M205.4 398.4h21.5v4.9h-21.5z"/><path fill="#fba139" d="M200.9 403h4.9v4.9h-4.9z"/><path fill="#fca338" d="M196.4 407.5h4.9v4.9h-4.9zM196.4 412h4.9v16.9h-4.9z"/><path fill="#fdaf31" d="M205.4 403h21.5v4.9h-21.5z"/><path fill="#feba2c" d="M200.9 407.5h4.9v4.9h-4.9zM200.9 412h4.9v16.9h-4.9z"/><path fill="#fcce25" d="M205.4 407.5h21.5v4.9h-21.5zM205.4 412h21.5v16.9h-21.5z"/></g></g>
<rect x="51.5" y="254.0" width="163.0" height="162.5" fill="none" stroke="#000" stroke-width="0.8"/>
<path d="M51.5 254.0h-3M51.5 416.5h-3M51.5 416.5v3M214.5 416.5v3" stroke="#000" stroke-width="0.8" fill="none"/>
<text class="k" x="44.8" y="258.3" text-anchor="end"><tspan font-size="8px" dy="-1.1">−</tspan><tspan dy="1.1" dx="-0.4">4.48</tspan></text><text class="k" x="44.8" y="420.1" text-anchor="end">4.48</text><text class="k" x="51.2" y="431.8" text-anchor="middle"><tspan font-size="8px" dy="-1.1">−</tspan><tspan dy="1.1" dx="-0.4">4.48</tspan></text><text class="k" x="214.5" y="431.8" text-anchor="middle">4.48</text>
<text class="t" x="133.0" y="247.9">Loss Values</text>
<rect x="225.3" y="254.0" width="8.4" height="162.5" fill="url(#pl)" stroke="#000" stroke-width="0.8"/>
<path d="M233.7 396.5h2.6" stroke="#000" stroke-width="0.8"/><text class="c" x="239.1" y="399.4">25</text><path d="M233.7 376.5h2.6" stroke="#000" stroke-width="0.8"/><text class="c" x="239.1" y="379.4">50</text><path d="M233.7 356.6h2.6" stroke="#000" stroke-width="0.8"/><text class="c" x="239.1" y="359.5">75</text><path d="M233.7 336.6h2.6" stroke="#000" stroke-width="0.8"/><text class="c" x="239.1" y="339.5">100</text><path d="M233.7 316.6h2.6" stroke="#000" stroke-width="0.8"/><text class="c" x="239.1" y="319.5">125</text><path d="M233.7 296.6h2.6" stroke="#000" stroke-width="0.8"/><text class="c" x="239.1" y="299.5">150</text><path d="M233.7 276.6h2.6" stroke="#000" stroke-width="0.8"/><text class="c" x="239.1" y="279.5">175</text><path d="M233.7 256.6h2.6" stroke="#000" stroke-width="0.8"/><text class="c" x="239.1" y="259.5">200</text>
<g clip-path="url(#cbr)"><g filter="url(#fbr)" shape-rendering="crispEdges"><path fill="#19068c" d="M398.2 299.1h4.9v4.9h-4.9zM425.4 299.1h4.9v4.9h-4.9zM398.2 303.7h4.9v4.9h-4.9zM425.4 303.7h4.9v4.9h-4.9zM398.2 308.2h4.9v4.9h-4.9zM425.4 308.2h4.9v4.9h-4.9zM398.2 312.7h4.9v4.9h-4.9zM425.4 312.7h4.9v4.9h-4.9zM398.2 317.2h4.9v4.9h-4.9zM425.4 317.2h4.9v4.9h-4.9zM398.2 321.7h4.9v4.9h-4.9zM425.4 321.7h4.9v4.9h-4.9zM398.2 326.2h4.9v4.9h-4.9zM425.4 326.2h4.9v4.9h-4.9zM398.2 330.7h4.9v4.9h-4.9zM425.4 330.7h4.9v4.9h-4.9zM398.2 335.2h4.9v4.9h-4.9zM425.4 335.2h4.9v4.9h-4.9zM398.2 339.8h4.9v4.9h-4.9zM425.4 339.8h4.9v4.9h-4.9zM398.2 344.3h4.9v4.9h-4.9zM425.4 344.3h4.9v4.9h-4.9zM398.2 348.8h4.9v4.9h-4.9zM425.4 348.8h4.9v4.9h-4.9zM398.2 353.3h4.9v4.9h-4.9zM425.4 353.3h4.9v4.9h-4.9zM398.2 357.8h4.9v4.9h-4.9zM425.4 357.8h4.9v4.9h-4.9zM398.2 362.3h4.9v4.9h-4.9zM425.4 362.3h4.9v4.9h-4.9zM398.2 366.8h4.9v4.9h-4.9zM425.4 366.8h4.9v4.9h-4.9zM398.2 371.4h4.9v4.9h-4.9zM425.4 371.4h4.9v4.9h-4.9zM398.2 375.9h4.9v4.9h-4.9zM425.4 375.9h4.9v4.9h-4.9zM398.2 380.4h4.9v4.9h-4.9zM425.4 380.4h4.9v4.9h-4.9z"/><path fill="#1d068e" d="M398.2 294.6h9.5v4.9h-9.5zM420.9 294.6h9.5v4.9h-9.5zM393.7 299.1h4.9v4.9h-4.9zM402.8 299.1h9.5v4.9h-9.5zM416.4 299.1h9.5v4.9h-9.5zM393.7 303.7h4.9v4.9h-4.9zM402.8 303.7h9.5v4.9h-9.5zM416.4 303.7h9.5v4.9h-9.5zM393.7 308.2h4.9v4.9h-4.9zM402.8 308.2h9.5v4.9h-9.5zM416.4 308.2h9.5v4.9h-9.5zM393.7 312.7h4.9v4.9h-4.9zM402.8 312.7h9.5v4.9h-9.5zM416.4 312.7h9.5v4.9h-9.5zM393.7 317.2h4.9v4.9h-4.9zM402.8 317.2h9.5v4.9h-9.5zM416.4 317.2h9.5v4.9h-9.5zM393.7 321.7h4.9v4.9h-4.9zM402.8 321.7h9.5v4.9h-9.5zM416.4 321.7h9.5v4.9h-9.5zM393.7 326.2h4.9v4.9h-4.9zM402.8 326.2h9.5v4.9h-9.5zM416.4 326.2h9.5v4.9h-9.5zM393.7 330.7h4.9v4.9h-4.9zM402.8 330.7h9.5v4.9h-9.5zM416.4 330.7h9.5v4.9h-9.5zM393.7 335.2h4.9v4.9h-4.9zM402.8 335.2h9.5v4.9h-9.5zM416.4 335.2h9.5v4.9h-9.5zM393.7 339.8h4.9v4.9h-4.9zM402.8 339.8h9.5v4.9h-9.5zM416.4 339.8h9.5v4.9h-9.5zM393.7 344.3h4.9v4.9h-4.9zM402.8 344.3h9.5v4.9h-9.5zM416.4 344.3h9.5v4.9h-9.5zM393.7 348.8h4.9v4.9h-4.9zM402.8 348.8h9.5v4.9h-9.5zM416.4 348.8h9.5v4.9h-9.5zM393.7 353.3h4.9v4.9h-4.9zM402.8 353.3h9.5v4.9h-9.5zM416.4 353.3h9.5v4.9h-9.5zM393.7 357.8h4.9v4.9h-4.9zM402.8 357.8h9.5v4.9h-9.5zM416.4 357.8h9.5v4.9h-9.5zM393.7 362.3h4.9v4.9h-4.9zM402.8 362.3h9.5v4.9h-9.5zM416.4 362.3h9.5v4.9h-9.5zM393.7 366.8h4.9v4.9h-4.9zM402.8 366.8h9.5v4.9h-9.5zM416.4 366.8h9.5v4.9h-9.5zM393.7 371.4h4.9v4.9h-4.9zM402.8 371.4h9.5v4.9h-9.5zM416.4 371.4h9.5v4.9h-9.5zM393.7 375.9h4.9v4.9h-4.9zM402.8 375.9h9.5v4.9h-9.5zM416.4 375.9h9.5v4.9h-9.5zM402.8 380.4h9.5v4.9h-9.5zM416.4 380.4h9.5v4.9h-9.5zM398.2 384.9h9.5v4.9h-9.5zM420.9 384.9h9.5v4.9h-9.5zM398.2 389.4h4.9v4.9h-4.9zM425.4 389.4h4.9v4.9h-4.9z"/><path fill="#220690" d="M389.2 290.1h41.1v4.9h-41.1zM389.2 294.6h9.5v4.9h-9.5zM407.3 294.6h14v4.9h-14zM389.2 299.1h4.9v4.9h-4.9zM411.8 299.1h4.9v4.9h-4.9zM389.2 303.7h4.9v4.9h-4.9zM411.8 303.7h4.9v4.9h-4.9zM389.2 308.2h4.9v4.9h-4.9zM411.8 308.2h4.9v4.9h-4.9zM389.2 312.7h4.9v4.9h-4.9zM411.8 312.7h4.9v4.9h-4.9zM389.2 317.2h4.9v4.9h-4.9zM411.8 317.2h4.9v4.9h-4.9zM389.2 321.7h4.9v4.9h-4.9zM411.8 321.7h4.9v4.9h-4.9zM389.2 326.2h4.9v4.9h-4.9zM411.8 326.2h4.9v4.9h-4.9zM389.2 330.7h4.9v4.9h-4.9zM411.8 330.7h4.9v4.9h-4.9zM389.2 335.2h4.9v4.9h-4.9zM411.8 335.2h4.9v4.9h-4.9zM389.2 339.8h4.9v4.9h-4.9zM411.8 339.8h4.9v4.9h-4.9zM389.2 344.3h4.9v4.9h-4.9zM411.8 344.3h4.9v4.9h-4.9zM389.2 348.8h4.9v4.9h-4.9zM411.8 348.8h4.9v4.9h-4.9zM389.2 353.3h4.9v4.9h-4.9zM411.8 353.3h4.9v4.9h-4.9zM389.2 357.8h4.9v4.9h-4.9zM411.8 357.8h4.9v4.9h-4.9zM389.2 362.3h4.9v4.9h-4.9zM411.8 362.3h4.9v4.9h-4.9zM389.2 366.8h4.9v4.9h-4.9zM411.8 366.8h4.9v4.9h-4.9zM389.2 371.4h4.9v4.9h-4.9zM411.8 371.4h4.9v4.9h-4.9zM389.2 375.9h4.9v4.9h-4.9zM411.8 375.9h4.9v4.9h-4.9zM393.7 380.4h4.9v4.9h-4.9zM411.8 380.4h4.9v4.9h-4.9zM393.7 384.9h4.9v4.9h-4.9zM407.3 384.9h14v4.9h-14zM393.7 389.4h4.9v4.9h-4.9zM402.8 389.4h23v4.9h-23zM398.2 393.9h14v4.9h-14zM416.4 393.9h14v4.9h-14zM398.2 398.4h9.5v4.9h-9.5zM425.4 398.4h4.9v4.9h-4.9zM398.2 403h4.9v4.9h-4.9z"/><path fill="#260591" d="M384.7 285.6h45.7v4.9h-45.7zM384.7 290.1h4.9v4.9h-4.9zM384.7 294.6h4.9v4.9h-4.9zM384.7 299.1h4.9v4.9h-4.9zM384.7 303.7h4.9v4.9h-4.9zM429.9 303.7h4.9v4.9h-4.9zM384.7 308.2h4.9v4.9h-4.9zM429.9 308.2h4.9v4.9h-4.9zM384.7 312.7h4.9v4.9h-4.9zM429.9 312.7h4.9v4.9h-4.9zM384.7 317.2h4.9v4.9h-4.9zM429.9 317.2h4.9v4.9h-4.9zM384.7 321.7h4.9v4.9h-4.9zM429.9 321.7h4.9v4.9h-4.9zM384.7 326.2h4.9v4.9h-4.9zM429.9 326.2h4.9v4.9h-4.9zM384.7 330.7h4.9v4.9h-4.9zM429.9 330.7h4.9v4.9h-4.9zM384.7 335.2h4.9v4.9h-4.9zM429.9 335.2h4.9v4.9h-4.9zM384.7 339.8h4.9v4.9h-4.9zM429.9 339.8h4.9v4.9h-4.9zM384.7 344.3h4.9v4.9h-4.9zM429.9 344.3h4.9v4.9h-4.9zM384.7 348.8h4.9v4.9h-4.9zM429.9 348.8h4.9v4.9h-4.9zM384.7 353.3h4.9v4.9h-4.9zM429.9 353.3h4.9v4.9h-4.9zM384.7 357.8h4.9v4.9h-4.9zM429.9 357.8h4.9v4.9h-4.9zM384.7 362.3h4.9v4.9h-4.9zM429.9 362.3h4.9v4.9h-4.9zM384.7 366.8h4.9v4.9h-4.9zM429.9 366.8h4.9v4.9h-4.9zM384.7 371.4h4.9v4.9h-4.9zM429.9 371.4h4.9v4.9h-4.9zM429.9 375.9h4.9v4.9h-4.9zM389.2 380.4h4.9v4.9h-4.9zM389.2 384.9h4.9v4.9h-4.9zM393.7 393.9h4.9v4.9h-4.9zM411.8 393.9h4.9v4.9h-4.9zM393.7 398.4h4.9v4.9h-4.9zM407.3 398.4h18.5v4.9h-18.5zM393.7 403h4.9v4.9h-4.9zM402.8 403h9.5v4.9h-9.5zM416.4 403h14v4.9h-14zM393.7 407.5h14v4.9h-14zM393.7 412h14v16.9h-14z"/><path fill="#2a0593" d="M384.7 281.1h45.7v4.9h-45.7zM380.1 294.6h4.9v4.9h-4.9zM380.1 299.1h4.9v4.9h-4.9zM429.9 299.1h4.9v4.9h-4.9zM380.1 303.7h4.9v4.9h-4.9zM380.1 308.2h4.9v4.9h-4.9zM380.1 312.7h4.9v4.9h-4.9zM380.1 317.2h4.9v4.9h-4.9zM380.1 321.7h4.9v4.9h-4.9zM380.1 326.2h4.9v4.9h-4.9zM380.1 330.7h4.9v4.9h-4.9zM384.7 375.9h4.9v4.9h-4.9zM384.7 380.4h4.9v4.9h-4.9zM429.9 380.4h4.9v4.9h-4.9zM384.7 384.9h4.9v4.9h-4.9zM429.9 384.9h4.9v4.9h-4.9zM389.2 389.4h4.9v4.9h-4.9zM389.2 393.9h4.9v4.9h-4.9zM389.2 398.4h4.9v4.9h-4.9zM384.7 403h9.5v4.9h-9.5zM411.8 403h4.9v4.9h-4.9zM384.7 407.5h9.5v4.9h-9.5zM407.3 407.5h23v4.9h-23zM384.7 412h9.5v16.9h-9.5zM407.3 412h23v16.9h-23z"/><path fill="#2f0596" d="M384.7 276.6h45.7v4.9h-45.7zM380.1 285.6h4.9v4.9h-4.9zM380.1 290.1h4.9v4.9h-4.9zM429.9 294.6h4.9v4.9h-4.9zM375.6 308.2h4.9v4.9h-4.9zM375.6 312.7h4.9v4.9h-4.9zM434.5 312.7h4.9v4.9h-4.9zM375.6 317.2h4.9v4.9h-4.9zM434.5 317.2h4.9v4.9h-4.9zM434.5 321.7h4.9v4.9h-4.9zM434.5 326.2h4.9v4.9h-4.9zM434.5 330.7h4.9v4.9h-4.9zM380.1 335.2h4.9v4.9h-4.9zM434.5 335.2h4.9v4.9h-4.9zM380.1 339.8h4.9v4.9h-4.9zM434.5 339.8h4.9v4.9h-4.9zM380.1 344.3h4.9v4.9h-4.9zM434.5 344.3h4.9v4.9h-4.9zM380.1 348.8h4.9v4.9h-4.9zM434.5 348.8h4.9v4.9h-4.9zM380.1 353.3h4.9v4.9h-4.9zM434.5 353.3h4.9v4.9h-4.9zM380.1 357.8h4.9v4.9h-4.9zM434.5 357.8h4.9v4.9h-4.9zM380.1 362.3h4.9v4.9h-4.9zM434.5 362.3h4.9v4.9h-4.9zM380.1 366.8h4.9v4.9h-4.9zM434.5 366.8h4.9v4.9h-4.9zM380.1 371.4h4.9v4.9h-4.9zM384.7 389.4h4.9v4.9h-4.9zM429.9 389.4h4.9v4.9h-4.9zM384.7 393.9h4.9v4.9h-4.9zM384.7 398.4h4.9v4.9h-4.9zM380.1 407.5h4.9v4.9h-4.9zM380.1 412h4.9v16.9h-4.9z"/><path fill="#330597" d="M384.7 272.1h45.7v4.9h-45.7zM380.1 281.1h4.9v4.9h-4.9zM375.6 290.1h4.9v4.9h-4.9zM429.9 290.1h4.9v4.9h-4.9zM375.6 294.6h4.9v4.9h-4.9zM375.6 299.1h4.9v4.9h-4.9zM375.6 303.7h4.9v4.9h-4.9zM434.5 303.7h4.9v4.9h-4.9zM434.5 308.2h4.9v4.9h-4.9zM371.1 312.7h4.9v4.9h-4.9zM375.6 321.7h4.9v4.9h-4.9zM375.6 326.2h4.9v4.9h-4.9zM375.6 330.7h4.9v4.9h-4.9zM375.6 335.2h4.9v4.9h-4.9zM434.5 371.4h4.9v4.9h-4.9zM380.1 375.9h4.9v4.9h-4.9zM434.5 375.9h4.9v4.9h-4.9zM380.1 380.4h4.9v4.9h-4.9zM429.9 393.9h4.9v4.9h-4.9zM380.1 398.4h4.9v4.9h-4.9zM380.1 403h4.9v4.9h-4.9zM375.6 407.5h4.9v4.9h-4.9zM375.6 412h4.9v16.9h-4.9z"/><path fill="#370499" d="M380.1 276.6h4.9v4.9h-4.9zM375.6 285.6h4.9v4.9h-4.9zM429.9 285.6h4.9v4.9h-4.9zM434.5 299.1h4.9v4.9h-4.9zM371.1 303.7h4.9v4.9h-4.9zM371.1 308.2h4.9v4.9h-4.9zM371.1 317.2h4.9v4.9h-4.9zM371.1 321.7h4.9v4.9h-4.9zM375.6 339.8h4.9v4.9h-4.9zM375.6 344.3h4.9v4.9h-4.9zM375.6 348.8h4.9v4.9h-4.9zM375.6 353.3h4.9v4.9h-4.9zM375.6 357.8h4.9v4.9h-4.9zM375.6 362.3h4.9v4.9h-4.9zM375.6 366.8h4.9v4.9h-4.9zM375.6 371.4h4.9v4.9h-4.9zM434.5 380.4h4.9v4.9h-4.9zM380.1 384.9h4.9v4.9h-4.9zM380.1 389.4h4.9v4.9h-4.9zM380.1 393.9h4.9v4.9h-4.9zM429.9 398.4h4.9v4.9h-4.9zM375.6 403h4.9v4.9h-4.9z"/><path fill="#3a049a" d="M402.8 267.5h23v4.9h-23zM375.6 281.1h4.9v4.9h-4.9zM371.1 290.1h4.9v4.9h-4.9zM371.1 294.6h4.9v4.9h-4.9zM434.5 294.6h4.9v4.9h-4.9zM371.1 299.1h4.9v4.9h-4.9zM366.6 308.2h4.9v4.9h-4.9zM439 308.2h4.9v4.9h-4.9zM366.6 312.7h4.9v4.9h-4.9zM439 312.7h4.9v4.9h-4.9zM366.6 317.2h4.9v4.9h-4.9zM439 317.2h4.9v4.9h-4.9zM439 321.7h4.9v4.9h-4.9zM371.1 326.2h4.9v4.9h-4.9zM439 326.2h4.9v4.9h-4.9zM371.1 330.7h4.9v4.9h-4.9zM439 330.7h4.9v4.9h-4.9zM371.1 335.2h4.9v4.9h-4.9zM439 335.2h4.9v4.9h-4.9zM439 339.8h4.9v4.9h-4.9zM439 344.3h4.9v4.9h-4.9zM439 348.8h4.9v4.9h-4.9zM439 353.3h4.9v4.9h-4.9zM439 357.8h4.9v4.9h-4.9zM439 362.3h4.9v4.9h-4.9zM439 366.8h4.9v4.9h-4.9zM439 371.4h4.9v4.9h-4.9zM375.6 375.9h4.9v4.9h-4.9zM434.5 384.9h4.9v4.9h-4.9zM375.6 398.4h4.9v4.9h-4.9zM371.1 407.5h4.9v4.9h-4.9zM371.1 412h4.9v16.9h-4.9z"/><path fill="#3e049c" d="M411.8 263h4.9v4.9h-4.9zM398.2 267.5h4.9v4.9h-4.9zM425.4 267.5h4.9v4.9h-4.9zM380.1 272.1h4.9v4.9h-4.9zM429.9 281.1h4.9v4.9h-4.9zM371.1 285.6h4.9v4.9h-4.9zM434.5 290.1h4.9v4.9h-4.9zM366.6 303.7h4.9v4.9h-4.9zM439 303.7h4.9v4.9h-4.9zM366.6 321.7h4.9v4.9h-4.9zM366.6 326.2h4.9v4.9h-4.9zM371.1 339.8h4.9v4.9h-4.9zM371.1 344.3h4.9v4.9h-4.9zM371.1 348.8h4.9v4.9h-4.9zM371.1 353.3h4.9v4.9h-4.9zM371.1 357.8h4.9v4.9h-4.9zM371.1 362.3h4.9v4.9h-4.9zM371.1 366.8h4.9v4.9h-4.9zM439 375.9h4.9v4.9h-4.9zM375.6 380.4h4.9v4.9h-4.9zM375.6 384.9h4.9v4.9h-4.9zM375.6 389.4h4.9v4.9h-4.9zM434.5 389.4h4.9v4.9h-4.9zM375.6 393.9h4.9v4.9h-4.9zM371.1 403h4.9v4.9h-4.9zM429.9 403h4.9v4.9h-4.9z"/><path fill="#41049d" d="M411.8 242h4.9v16.9h-4.9zM411.8 258.5h4.9v4.9h-4.9zM402.8 263h9.5v4.9h-9.5zM416.4 263h9.5v4.9h-9.5zM393.7 267.5h4.9v4.9h-4.9zM375.6 276.6h4.9v4.9h-4.9zM429.9 276.6h4.9v4.9h-4.9zM371.1 281.1h4.9v4.9h-4.9zM366.6 299.1h4.9v4.9h-4.9zM439 299.1h4.9v4.9h-4.9zM362 308.2h4.9v4.9h-4.9zM362 312.7h4.9v4.9h-4.9zM362 317.2h4.9v4.9h-4.9zM362 321.7h4.9v4.9h-4.9zM366.6 330.7h4.9v4.9h-4.9zM366.6 335.2h4.9v4.9h-4.9zM371.1 371.4h4.9v4.9h-4.9zM371.1 375.9h4.9v4.9h-4.9zM439 380.4h4.9v4.9h-4.9zM434.5 393.9h4.9v4.9h-4.9zM371.1 398.4h4.9v4.9h-4.9zM429.9 407.5h4.9v4.9h-4.9zM429.9 412h4.9v16.9h-4.9z"/><path fill="#44039e" d="M407.3 242h4.9v16.9h-4.9zM416.4 242h4.9v16.9h-4.9zM407.3 258.5h4.9v4.9h-4.9zM416.4 258.5h4.9v4.9h-4.9zM398.2 263h4.9v4.9h-4.9zM425.4 263h4.9v4.9h-4.9zM384.7 267.5h9.5v4.9h-9.5zM375.6 272.1h4.9v4.9h-4.9zM434.5 285.6h4.9v4.9h-4.9zM366.6 294.6h4.9v4.9h-4.9zM439 294.6h4.9v4.9h-4.9zM362 299.1h4.9v4.9h-4.9zM362 303.7h4.9v4.9h-4.9zM357.5 312.7h4.9v4.9h-4.9zM357.5 317.2h4.9v4.9h-4.9zM362 326.2h4.9v4.9h-4.9zM366.6 339.8h4.9v4.9h-4.9zM366.6 344.3h4.9v4.9h-4.9zM371.1 380.4h4.9v4.9h-4.9zM371.1 384.9h4.9v4.9h-4.9zM439 384.9h4.9v4.9h-4.9zM371.1 389.4h4.9v4.9h-4.9zM371.1 393.9h4.9v4.9h-4.9z"/><path fill="#4903a0" d="M402.8 242h4.9v16.9h-4.9zM420.9 242h4.9v16.9h-4.9zM402.8 258.5h4.9v4.9h-4.9zM420.9 258.5h4.9v4.9h-4.9zM429.9 272.1h4.9v4.9h-4.9zM371.1 276.6h4.9v4.9h-4.9zM366.6 290.1h4.9v4.9h-4.9zM357.5 308.2h4.9v4.9h-4.9zM357.5 321.7h4.9v4.9h-4.9zM357.5 326.2h4.9v4.9h-4.9zM362 330.7h4.9v4.9h-4.9zM366.6 348.8h4.9v4.9h-4.9zM366.6 353.3h4.9v4.9h-4.9zM434.5 398.4h4.9v4.9h-4.9zM366.6 407.5h4.9v4.9h-4.9zM366.6 412h4.9v16.9h-4.9z"/><path fill="#4c02a1" d="M398.2 242h4.9v16.9h-4.9zM425.4 242h4.9v16.9h-4.9zM398.2 258.5h4.9v4.9h-4.9zM425.4 258.5h4.9v4.9h-4.9zM393.7 263h4.9v4.9h-4.9zM371.1 272.1h4.9v4.9h-4.9zM434.5 281.1h4.9v4.9h-4.9zM366.6 285.6h4.9v4.9h-4.9zM439 290.1h4.9v4.9h-4.9zM362 294.6h4.9v4.9h-4.9zM357.5 299.1h4.9v4.9h-4.9zM357.5 303.7h4.9v4.9h-4.9zM353 312.7h4.9v4.9h-4.9zM353 317.2h4.9v4.9h-4.9zM357.5 330.7h4.9v4.9h-4.9zM362 335.2h4.9v4.9h-4.9zM362 339.8h4.9v4.9h-4.9zM366.6 357.8h4.9v4.9h-4.9zM366.6 362.3h4.9v4.9h-4.9zM366.6 366.8h4.9v4.9h-4.9zM439 389.4h4.9v4.9h-4.9z"/><path fill="#5002a2" d="M380.1 267.5h4.9v4.9h-4.9zM353 308.2h4.9v4.9h-4.9zM348.4 312.7h4.9v4.9h-4.9zM353 321.7h4.9v4.9h-4.9zM353 326.2h4.9v4.9h-4.9zM362 344.3h4.9v4.9h-4.9zM366.6 403h4.9v4.9h-4.9zM434.5 403h4.9v4.9h-4.9z"/><path fill="#5302a3" d="M389.2 263h4.9v4.9h-4.9zM366.6 281.1h4.9v4.9h-4.9zM439 285.6h4.9v4.9h-4.9zM362 290.1h4.9v4.9h-4.9zM353 303.7h4.9v4.9h-4.9zM348.4 317.2h4.9v4.9h-4.9zM357.5 335.2h4.9v4.9h-4.9zM362 348.8h4.9v4.9h-4.9zM366.6 371.4h4.9v4.9h-4.9zM439 393.9h4.9v4.9h-4.9zM366.6 398.4h4.9v4.9h-4.9z"/><path fill="#5601a4" d="M393.7 242h4.9v16.9h-4.9zM393.7 258.5h4.9v4.9h-4.9zM429.9 267.5h4.9v4.9h-4.9zM434.5 276.6h4.9v4.9h-4.9zM357.5 294.6h4.9v4.9h-4.9zM353 299.1h4.9v4.9h-4.9zM348.4 308.2h4.9v4.9h-4.9zM343.9 312.7h4.9v4.9h-4.9zM348.4 321.7h4.9v4.9h-4.9zM348.4 326.2h4.9v4.9h-4.9zM353 330.7h4.9v4.9h-4.9zM357.5 339.8h4.9v4.9h-4.9zM362 353.3h4.9v4.9h-4.9zM366.6 375.9h4.9v4.9h-4.9zM434.5 407.5h4.9v4.9h-4.9zM434.5 412h4.9v16.9h-4.9z"/><path fill="#5901a5" d="M384.7 263h4.9v4.9h-4.9zM375.6 267.5h4.9v4.9h-4.9zM366.6 276.6h4.9v4.9h-4.9zM362 285.6h4.9v4.9h-4.9zM348.4 303.7h4.9v4.9h-4.9zM343.9 317.2h4.9v4.9h-4.9zM343.9 321.7h4.9v4.9h-4.9zM357.5 344.3h4.9v4.9h-4.9zM362 357.8h4.9v4.9h-4.9zM362 362.3h4.9v4.9h-4.9zM366.6 380.4h4.9v4.9h-4.9zM366.6 384.9h4.9v4.9h-4.9zM366.6 389.4h4.9v4.9h-4.9zM366.6 393.9h4.9v4.9h-4.9zM439 398.4h4.9v4.9h-4.9zM362 407.5h4.9v4.9h-4.9zM362 412h4.9v16.9h-4.9z"/><path fill="#5e01a6" d="M434.5 272.1h4.9v4.9h-4.9zM439 281.1h4.9v4.9h-4.9zM357.5 290.1h4.9v4.9h-4.9zM343.9 308.2h4.9v4.9h-4.9zM343.9 326.2h4.9v4.9h-4.9zM353 335.2h4.9v4.9h-4.9zM357.5 348.8h4.9v4.9h-4.9zM362 366.8h4.9v4.9h-4.9z"/><path fill="#6100a7" d="M389.2 242h4.9v16.9h-4.9zM389.2 258.5h4.9v4.9h-4.9zM429.9 263h4.9v4.9h-4.9zM366.6 272.1h4.9v4.9h-4.9zM348.4 299.1h4.9v4.9h-4.9zM443.5 308.2h4.9v4.9h-4.9zM443.5 312.7h4.9v4.9h-4.9zM443.5 317.2h4.9v4.9h-4.9zM443.5 321.7h4.9v4.9h-4.9zM443.5 326.2h4.9v4.9h-4.9zM348.4 330.7h4.9v4.9h-4.9zM443.5 330.7h4.9v4.9h-4.9zM443.5 335.2h4.9v4.9h-4.9zM443.5 339.8h4.9v4.9h-4.9zM443.5 344.3h4.9v4.9h-4.9zM357.5 353.3h4.9v4.9h-4.9zM362 403h4.9v4.9h-4.9zM439 403h4.9v4.9h-4.9z"/><path fill="#6400a7" d="M380.1 263h4.9v4.9h-4.9zM371.1 267.5h4.9v4.9h-4.9zM362 281.1h4.9v4.9h-4.9zM353 294.6h4.9v4.9h-4.9zM343.9 303.7h4.9v4.9h-4.9zM443.5 303.7h4.9v4.9h-4.9zM353 339.8h4.9v4.9h-4.9zM443.5 348.8h4.9v4.9h-4.9zM443.5 353.3h4.9v4.9h-4.9zM362 371.4h4.9v4.9h-4.9zM362 398.4h4.9v4.9h-4.9z"/><path fill="#6700a8" d="M439 276.6h4.9v4.9h-4.9zM357.5 285.6h4.9v4.9h-4.9zM443.5 299.1h4.9v4.9h-4.9zM343.9 330.7h4.9v4.9h-4.9zM348.4 335.2h4.9v4.9h-4.9zM353 344.3h4.9v4.9h-4.9zM357.5 357.8h4.9v4.9h-4.9zM443.5 357.8h4.9v4.9h-4.9zM362 375.9h4.9v4.9h-4.9z"/><path fill="#6a00a8" d="M384.7 242h4.9v16.9h-4.9zM429.9 242h4.9v16.9h-4.9zM384.7 258.5h4.9v4.9h-4.9zM429.9 258.5h4.9v4.9h-4.9zM434.5 267.5h4.9v4.9h-4.9zM362 276.6h4.9v4.9h-4.9zM443.5 294.6h4.9v4.9h-4.9zM343.9 299.1h4.9v4.9h-4.9zM357.5 362.3h4.9v4.9h-4.9zM443.5 362.3h4.9v4.9h-4.9zM362 380.4h4.9v4.9h-4.9zM362 384.9h4.9v4.9h-4.9zM362 389.4h4.9v4.9h-4.9zM362 393.9h4.9v4.9h-4.9zM357.5 407.5h4.9v4.9h-4.9zM439 407.5h4.9v4.9h-4.9zM357.5 412h4.9v16.9h-4.9zM439 412h4.9v16.9h-4.9z"/><path fill="#6e00a8" d="M353 348.8h4.9v4.9h-4.9zM357.5 366.8h4.9v4.9h-4.9zM443.5 366.8h4.9v4.9h-4.9z"/><path fill="#7100a8" d="M375.6 263h4.9v4.9h-4.9zM366.6 267.5h4.9v4.9h-4.9zM439 272.1h4.9v4.9h-4.9zM357.5 281.1h4.9v4.9h-4.9zM443.5 290.1h4.9v4.9h-4.9zM339.4 312.7h4.9v4.9h-4.9zM348.4 339.8h4.9v4.9h-4.9zM353 353.3h4.9v4.9h-4.9zM357.5 403h4.9v4.9h-4.9z"/><path fill="#7501a8" d="M362 272.1h4.9v4.9h-4.9zM443.5 285.6h4.9v4.9h-4.9zM353 290.1h4.9v4.9h-4.9zM348.4 294.6h4.9v4.9h-4.9zM339.4 317.2h4.9v4.9h-4.9zM339.4 321.7h4.9v4.9h-4.9zM343.9 335.2h4.9v4.9h-4.9zM357.5 371.4h4.9v4.9h-4.9zM443.5 371.4h4.9v4.9h-4.9z"/><path fill="#7801a8" d="M380.1 242h4.9v16.9h-4.9zM380.1 258.5h4.9v4.9h-4.9zM339.4 308.2h4.9v4.9h-4.9zM339.4 326.2h4.9v4.9h-4.9zM348.4 344.3h4.9v4.9h-4.9zM353 357.8h4.9v4.9h-4.9zM357.5 375.9h4.9v4.9h-4.9zM357.5 398.4h4.9v4.9h-4.9z"/><path fill="#7b02a8" d="M371.1 263h4.9v4.9h-4.9zM434.5 263h4.9v4.9h-4.9zM348.4 348.8h4.9v4.9h-4.9zM353 362.3h4.9v4.9h-4.9zM443.5 375.9h4.9v4.9h-4.9z"/><path fill="#7e03a8" d="M362 267.5h4.9v4.9h-4.9zM357.5 276.6h4.9v4.9h-4.9zM443.5 281.1h4.9v4.9h-4.9zM339.4 303.7h4.9v4.9h-4.9zM343.9 339.8h4.9v4.9h-4.9zM357.5 380.4h4.9v4.9h-4.9zM357.5 384.9h4.9v4.9h-4.9zM357.5 389.4h4.9v4.9h-4.9zM357.5 393.9h4.9v4.9h-4.9z"/><path fill="#8104a7" d="M366.6 263h4.9v4.9h-4.9zM439 267.5h4.9v4.9h-4.9zM353 285.6h4.9v4.9h-4.9zM339.4 330.7h4.9v4.9h-4.9zM348.4 353.3h4.9v4.9h-4.9zM353 366.8h4.9v4.9h-4.9z"/><path fill="#8405a7" d="M375.6 242h4.9v16.9h-4.9zM375.6 258.5h4.9v4.9h-4.9zM343.9 294.6h4.9v4.9h-4.9zM339.4 299.1h4.9v4.9h-4.9zM448.1 312.7h4.9v4.9h-4.9zM448.1 317.2h4.9v4.9h-4.9zM448.1 321.7h4.9v4.9h-4.9zM448.1 326.2h4.9v4.9h-4.9zM448.1 330.7h4.9v4.9h-4.9zM448.1 335.2h4.9v4.9h-4.9zM448.1 339.8h4.9v4.9h-4.9zM343.9 344.3h4.9v4.9h-4.9zM443.5 380.4h4.9v4.9h-4.9z"/><path fill="#8707a6" d="M434.5 242h4.9v16.9h-4.9zM434.5 258.5h4.9v4.9h-4.9zM362 263h4.9v4.9h-4.9zM357.5 272.1h4.9v4.9h-4.9zM443.5 276.6h4.9v4.9h-4.9zM348.4 290.1h4.9v4.9h-4.9zM448.1 303.7h4.9v4.9h-4.9zM448.1 308.2h4.9v4.9h-4.9zM339.4 335.2h4.9v4.9h-4.9zM448.1 344.3h4.9v4.9h-4.9zM348.4 357.8h4.9v4.9h-4.9zM353 371.4h4.9v4.9h-4.9zM353 407.5h4.9v4.9h-4.9zM353 412h4.9v16.9h-4.9z"/><path fill="#8b0aa5" d="M357.5 267.5h4.9v4.9h-4.9zM353 281.1h4.9v4.9h-4.9zM448.1 299.1h4.9v4.9h-4.9zM334.9 312.7h4.9v4.9h-4.9zM343.9 348.8h4.9v4.9h-4.9zM448.1 348.8h4.9v4.9h-4.9zM443.5 384.9h4.9v4.9h-4.9zM353 403h4.9v4.9h-4.9z"/><path fill="#8e0ca4" d="M357.5 263h4.9v4.9h-4.9zM448.1 294.6h4.9v4.9h-4.9zM334.9 317.2h4.9v4.9h-4.9zM334.9 321.7h4.9v4.9h-4.9zM448.1 353.3h4.9v4.9h-4.9zM348.4 362.3h4.9v4.9h-4.9zM353 375.9h4.9v4.9h-4.9z"/><path fill="#910ea3" d="M357.5 242h18.5v16.9h-18.5zM357.5 258.5h18.5v4.9h-18.5zM439 263h4.9v4.9h-4.9zM443.5 272.1h4.9v4.9h-4.9zM448.1 290.1h4.9v4.9h-4.9zM334.9 308.2h4.9v4.9h-4.9zM334.9 326.2h4.9v4.9h-4.9zM339.4 339.8h4.9v4.9h-4.9zM343.9 353.3h4.9v4.9h-4.9zM448.1 357.8h4.9v4.9h-4.9zM443.5 389.4h4.9v4.9h-4.9zM353 398.4h4.9v4.9h-4.9z"/><path fill="#9410a2" d="M448.1 285.6h4.9v4.9h-4.9zM339.4 344.3h4.9v4.9h-4.9zM348.4 366.8h4.9v4.9h-4.9zM353 380.4h4.9v4.9h-4.9zM353 384.9h4.9v4.9h-4.9z"/><path fill="#9613a1" d="M353 276.6h4.9v4.9h-4.9zM339.4 294.6h4.9v4.9h-4.9zM334.9 303.7h4.9v4.9h-4.9zM334.9 330.7h4.9v4.9h-4.9zM343.9 357.8h4.9v4.9h-4.9zM448.1 362.3h4.9v4.9h-4.9zM353 389.4h4.9v4.9h-4.9zM353 393.9h4.9v4.9h-4.9z"/><path fill="#99159f" d="M348.4 285.6h4.9v4.9h-4.9zM339.4 348.8h4.9v4.9h-4.9zM348.4 371.4h4.9v4.9h-4.9zM443.5 393.9h4.9v4.9h-4.9z"/><path fill="#9d189d" d="M448.1 281.1h4.9v4.9h-4.9zM343.9 290.1h4.9v4.9h-4.9zM334.9 299.1h4.9v4.9h-4.9zM334.9 335.2h4.9v4.9h-4.9zM343.9 362.3h4.9v4.9h-4.9zM448.1 366.8h4.9v4.9h-4.9zM443.5 398.4h4.9v4.9h-4.9z"/><path fill="#a01a9c" d="M353 242h4.9v16.9h-4.9zM353 258.5h4.9v4.9h-4.9zM353 263h4.9v4.9h-4.9zM353 267.5h4.9v4.9h-4.9zM443.5 267.5h4.9v4.9h-4.9zM353 272.1h4.9v4.9h-4.9zM339.4 353.3h4.9v4.9h-4.9zM348.4 407.5h4.9v4.9h-4.9zM348.4 412h4.9v16.9h-4.9z"/><path fill="#a21d9a" d="M439 242h4.9v16.9h-4.9zM439 258.5h4.9v4.9h-4.9zM313.8 312.7h21.5v4.9h-21.5zM313.8 317.2h21.5v4.9h-21.5zM334.9 339.8h4.9v4.9h-4.9zM348.4 375.9h4.9v4.9h-4.9zM443.5 403h4.9v4.9h-4.9z"/><path fill="#a51f99" d="M448.1 276.6h4.9v4.9h-4.9zM348.4 281.1h4.9v4.9h-4.9zM452.6 312.7h4.9v4.9h-4.9zM452.6 317.2h4.9v4.9h-4.9zM313.8 321.7h21.5v4.9h-21.5zM452.6 321.7h4.9v4.9h-4.9zM452.6 326.2h4.9v4.9h-4.9zM452.6 330.7h4.9v4.9h-4.9zM452.6 335.2h4.9v4.9h-4.9zM452.6 339.8h4.9v4.9h-4.9zM334.9 344.3h4.9v4.9h-4.9zM339.4 357.8h4.9v4.9h-4.9zM343.9 366.8h4.9v4.9h-4.9zM348.4 403h4.9v4.9h-4.9z"/><path fill="#a72197" d="M452.6 303.7h4.9v4.9h-4.9zM313.8 308.2h21.5v4.9h-21.5zM452.6 308.2h4.9v4.9h-4.9zM313.8 326.2h21.5v4.9h-21.5zM452.6 344.3h4.9v4.9h-4.9zM448.1 371.4h4.9v4.9h-4.9zM348.4 380.4h4.9v4.9h-4.9zM443.5 407.5h4.9v4.9h-4.9zM443.5 412h4.9v16.9h-4.9z"/><path fill="#aa2395" d="M448.1 272.1h4.9v4.9h-4.9zM339.4 290.1h4.9v4.9h-4.9zM334.9 294.6h4.9v4.9h-4.9zM452.6 299.1h4.9v4.9h-4.9zM313.8 330.7h21.5v4.9h-21.5zM334.9 348.8h4.9v4.9h-4.9zM339.4 362.3h4.9v4.9h-4.9zM348.4 384.9h4.9v4.9h-4.9zM348.4 398.4h4.9v4.9h-4.9z"/><path fill="#ac2694" d="M443.5 263h4.9v4.9h-4.9zM348.4 276.6h4.9v4.9h-4.9zM452.6 294.6h4.9v4.9h-4.9zM313.8 303.7h21.5v4.9h-21.5zM313.8 335.2h21.5v4.9h-21.5zM452.6 348.8h4.9v4.9h-4.9zM334.9 353.3h4.9v4.9h-4.9zM343.9 371.4h4.9v4.9h-4.9zM348.4 389.4h4.9v4.9h-4.9zM348.4 393.9h4.9v4.9h-4.9z"/><path fill="#b02991" d="M348.4 242h4.9v16.9h-4.9zM348.4 258.5h4.9v4.9h-4.9zM452.6 290.1h4.9v4.9h-4.9zM339.4 366.8h4.9v4.9h-4.9z"/><path fill="#b22b8f" d="M348.4 263h4.9v4.9h-4.9zM348.4 267.5h4.9v4.9h-4.9zM343.9 285.6h4.9v4.9h-4.9zM452.6 285.6h18.5v4.9h-18.5zM457.1 290.1h4.9v4.9h-4.9zM313.8 299.1h21.5v4.9h-21.5zM313.8 339.8h21.5v4.9h-21.5zM457.1 339.8h4.9v4.9h-4.9zM452.6 353.3h4.9v4.9h-4.9zM334.9 357.8h4.9v4.9h-4.9zM343.9 375.9h4.9v4.9h-4.9zM448.1 375.9h4.9v4.9h-4.9z"/><path fill="#b42e8d" d="M348.4 272.1h4.9v4.9h-4.9zM461.6 290.1h4.9v4.9h-4.9zM457.1 294.6h4.9v4.9h-4.9zM457.1 299.1h4.9v4.9h-4.9zM457.1 335.2h4.9v4.9h-4.9zM313.8 344.3h21.5v4.9h-21.5z"/><path fill="#b6308b" d="M448.1 267.5h4.9v4.9h-4.9zM452.6 281.1h18.5v4.9h-18.5zM334.9 290.1h4.9v4.9h-4.9zM457.1 303.7h4.9v4.9h-4.9zM457.1 344.3h4.9v4.9h-4.9zM313.8 348.8h21.5v4.9h-21.5zM452.6 357.8h4.9v4.9h-4.9zM334.9 362.3h4.9v4.9h-4.9zM339.4 371.4h4.9v4.9h-4.9zM343.9 407.5h4.9v4.9h-4.9zM343.9 412h4.9v16.9h-4.9z"/><path fill="#b83289" d="M443.5 242h4.9v16.9h-4.9zM443.5 258.5h4.9v4.9h-4.9zM343.9 281.1h4.9v4.9h-4.9zM466.2 290.1h4.9v4.9h-4.9zM461.6 294.6h4.9v4.9h-4.9zM457.1 308.2h4.9v4.9h-4.9zM457.1 330.7h4.9v4.9h-4.9zM313.8 353.3h21.5v4.9h-21.5zM343.9 380.4h4.9v4.9h-4.9z"/><path fill="#bb3488" d="M343.9 242h4.9v16.9h-4.9zM343.9 258.5h4.9v4.9h-4.9zM452.6 276.6h4.9v4.9h-4.9zM339.4 285.6h4.9v4.9h-4.9zM313.8 294.6h21.5v4.9h-21.5zM457.1 312.7h4.9v4.9h-4.9zM461.6 339.8h4.9v4.9h-4.9zM457.1 348.8h4.9v4.9h-4.9zM452.6 362.3h4.9v4.9h-4.9zM334.9 366.8h4.9v4.9h-4.9zM339.4 375.9h4.9v4.9h-4.9zM448.1 380.4h4.9v4.9h-4.9zM343.9 384.9h4.9v4.9h-4.9zM343.9 403h4.9v4.9h-4.9z"/><path fill="#be3885" d="M457.1 276.6h14v4.9h-14zM461.6 299.1h4.9v4.9h-4.9zM457.1 317.2h4.9v4.9h-4.9zM457.1 321.7h4.9v4.9h-4.9zM457.1 326.2h4.9v4.9h-4.9zM313.8 357.8h21.5v4.9h-21.5zM343.9 398.4h4.9v4.9h-4.9z"/><path fill="#c03a83" d="M343.9 263h4.9v4.9h-4.9zM343.9 276.6h4.9v4.9h-4.9zM339.4 281.1h4.9v4.9h-4.9zM470.7 285.6h4.9v4.9h-4.9zM466.2 294.6h4.9v4.9h-4.9zM313.8 362.3h21.5v4.9h-21.5zM334.9 371.4h4.9v4.9h-4.9zM343.9 389.4h4.9v4.9h-4.9zM339.4 407.5h4.9v4.9h-4.9zM339.4 412h4.9v16.9h-4.9z"/><path fill="#c23c81" d="M448.1 263h4.9v4.9h-4.9zM452.6 272.1h9.5v4.9h-9.5zM457.1 353.3h4.9v4.9h-4.9zM452.6 366.8h4.9v4.9h-4.9zM339.4 380.4h4.9v4.9h-4.9zM448.1 384.9h4.9v4.9h-4.9zM343.9 393.9h4.9v4.9h-4.9z"/><path fill="#c43e7f" d="M343.9 267.5h4.9v4.9h-4.9zM461.6 272.1h9.5v4.9h-9.5zM470.7 281.1h4.9v4.9h-4.9zM334.9 285.6h4.9v4.9h-4.9zM313.8 290.1h21.5v4.9h-21.5zM461.6 303.7h4.9v4.9h-4.9zM461.6 335.2h4.9v4.9h-4.9zM461.6 344.3h4.9v4.9h-4.9zM313.8 366.8h21.5v4.9h-21.5zM334.9 375.9h4.9v4.9h-4.9zM339.4 403h4.9v4.9h-4.9z"/><path fill="#c6417d" d="M339.4 242h4.9v16.9h-4.9zM339.4 258.5h4.9v4.9h-4.9zM343.9 272.1h4.9v4.9h-4.9zM339.4 276.6h4.9v4.9h-4.9zM470.7 290.1h4.9v4.9h-4.9zM466.2 299.1h4.9v4.9h-4.9zM466.2 339.8h4.9v4.9h-4.9zM339.4 384.9h4.9v4.9h-4.9z"/><path fill="#c8437b" d="M339.4 263h4.9v4.9h-4.9zM470.7 276.6h4.9v4.9h-4.9zM334.9 281.1h4.9v4.9h-4.9zM457.1 357.8h4.9v4.9h-4.9zM313.8 371.4h21.5v4.9h-21.5zM334.9 380.4h4.9v4.9h-4.9zM339.4 389.4h4.9v4.9h-4.9zM448.1 389.4h4.9v4.9h-4.9zM339.4 398.4h4.9v4.9h-4.9zM334.9 407.5h4.9v4.9h-4.9zM334.9 412h4.9v16.9h-4.9z"/><path fill="#ca457a" d="M339.4 267.5h4.9v4.9h-4.9zM461.6 308.2h4.9v4.9h-4.9zM461.6 348.8h4.9v4.9h-4.9z"/><path fill="#cc4977" d="M448.1 242h4.9v16.9h-4.9zM448.1 258.5h4.9v4.9h-4.9zM452.6 267.5h18.5v4.9h-18.5zM339.4 272.1h4.9v4.9h-4.9zM470.7 272.1h4.9v4.9h-4.9zM334.9 276.6h4.9v4.9h-4.9zM313.8 285.6h21.5v4.9h-21.5zM475.2 285.6h4.9v4.9h-4.9zM461.6 330.7h4.9v4.9h-4.9zM452.6 371.4h4.9v4.9h-4.9zM313.8 375.9h21.5v4.9h-21.5zM339.4 393.9h4.9v4.9h-4.9z"/><path fill="#ce4b75" d="M313.8 281.1h21.5v4.9h-21.5zM475.2 281.1h4.9v4.9h-4.9zM470.7 294.6h4.9v4.9h-4.9zM466.2 344.3h4.9v4.9h-4.9zM457.1 362.3h4.9v4.9h-4.9zM334.9 384.9h4.9v4.9h-4.9zM448.1 393.9h4.9v4.9h-4.9zM334.9 403h4.9v4.9h-4.9z"/><path fill="#d04d73" d="M334.9 242h4.9v16.9h-4.9zM334.9 258.5h4.9v4.9h-4.9zM334.9 263h4.9v4.9h-4.9zM334.9 267.5h4.9v4.9h-4.9zM334.9 272.1h4.9v4.9h-4.9zM475.2 276.6h4.9v4.9h-4.9zM466.2 303.7h4.9v4.9h-4.9zM461.6 312.7h4.9v4.9h-4.9zM461.6 317.2h4.9v4.9h-4.9zM461.6 353.3h4.9v4.9h-4.9zM313.8 380.4h21.5v4.9h-21.5zM448.1 398.4h4.9v4.9h-4.9zM313.8 407.5h21.5v4.9h-21.5zM313.8 412h21.5v16.9h-21.5z"/><path fill="#d24f71" d="M470.7 267.5h4.9v4.9h-4.9zM475.2 272.1h4.9v4.9h-4.9zM313.8 276.6h21.5v4.9h-21.5zM461.6 321.7h4.9v4.9h-4.9zM461.6 326.2h4.9v4.9h-4.9zM466.2 335.2h4.9v4.9h-4.9zM334.9 389.4h4.9v4.9h-4.9zM334.9 398.4h4.9v4.9h-4.9zM448.1 403h4.9v4.9h-4.9zM448.1 407.5h4.9v4.9h-4.9zM448.1 412h4.9v16.9h-4.9z"/><path fill="#d45270" d="M452.6 263h9.5v4.9h-9.5zM313.8 272.1h21.5v4.9h-21.5zM475.2 290.1h4.9v4.9h-4.9zM470.7 299.1h4.9v4.9h-4.9zM457.1 366.8h4.9v4.9h-4.9z"/><path fill="#d5546e" d="M461.6 263h9.5v4.9h-9.5zM313.8 267.5h21.5v4.9h-21.5zM466.2 348.8h4.9v4.9h-4.9zM313.8 384.9h21.5v4.9h-21.5zM313.8 403h21.5v4.9h-21.5z"/><path fill="#d7566c" d="M313.8 263h21.5v4.9h-21.5zM475.2 267.5h4.9v4.9h-4.9zM470.7 339.8h4.9v4.9h-4.9zM461.6 357.8h4.9v4.9h-4.9zM452.6 375.9h4.9v4.9h-4.9zM334.9 393.9h4.9v4.9h-4.9z"/><path fill="#da5a6a" d="M313.8 242h21.5v16.9h-21.5zM313.8 258.5h21.5v4.9h-21.5zM470.7 263h4.9v4.9h-4.9zM479.7 272.1h21.5v4.9h-21.5zM479.7 276.6h21.5v4.9h-21.5zM479.7 281.1h21.5v4.9h-21.5zM479.7 285.6h21.5v4.9h-21.5zM466.2 308.2h4.9v4.9h-4.9z"/><path fill="#db5c68" d="M475.2 294.6h4.9v4.9h-4.9zM466.2 330.7h4.9v4.9h-4.9zM313.8 389.4h21.5v4.9h-21.5zM313.8 398.4h21.5v4.9h-21.5z"/><path fill="#dd5e66" d="M452.6 242h18.5v16.9h-18.5zM452.6 258.5h18.5v4.9h-18.5zM475.2 263h4.9v4.9h-4.9zM479.7 267.5h21.5v4.9h-21.5zM470.7 303.7h4.9v4.9h-4.9zM470.7 344.3h4.9v4.9h-4.9zM466.2 353.3h4.9v4.9h-4.9z"/><path fill="#de6164" d="M461.6 362.3h4.9v4.9h-4.9zM457.1 371.4h4.9v4.9h-4.9z"/><path fill="#e06363" d="M470.7 242h4.9v16.9h-4.9zM470.7 258.5h4.9v4.9h-4.9zM479.7 263h21.5v4.9h-21.5zM479.7 290.1h21.5v4.9h-21.5zM475.2 299.1h4.9v4.9h-4.9zM466.2 312.7h4.9v4.9h-4.9zM452.6 380.4h4.9v4.9h-4.9zM313.8 393.9h21.5v4.9h-21.5z"/><path fill="#e26561" d="M475.2 242h4.9v16.9h-4.9zM475.2 258.5h4.9v4.9h-4.9zM466.2 317.2h4.9v4.9h-4.9zM470.7 335.2h4.9v4.9h-4.9zM470.7 348.8h4.9v4.9h-4.9z"/><path fill="#e4695e" d="M466.2 321.7h4.9v4.9h-4.9z"/><path fill="#e56b5d" d="M479.7 242h21.5v16.9h-21.5zM479.7 258.5h21.5v4.9h-21.5zM470.7 308.2h4.9v4.9h-4.9zM466.2 326.2h4.9v4.9h-4.9zM466.2 357.8h4.9v4.9h-4.9zM461.6 366.8h4.9v4.9h-4.9z"/><path fill="#e76e5b" d="M479.7 294.6h21.5v4.9h-21.5zM475.2 339.8h4.9v4.9h-4.9zM470.7 353.3h4.9v4.9h-4.9zM457.1 375.9h4.9v4.9h-4.9zM452.6 384.9h4.9v4.9h-4.9z"/><path fill="#e87059" d="M475.2 344.3h4.9v4.9h-4.9z"/><path fill="#e97257" d="M475.2 303.7h4.9v4.9h-4.9z"/><path fill="#eb7556" d="M470.7 330.7h4.9v4.9h-4.9zM475.2 348.8h4.9v4.9h-4.9z"/><path fill="#ec7754" d="M479.7 299.1h21.5v4.9h-21.5zM470.7 312.7h4.9v4.9h-4.9zM470.7 357.8h4.9v4.9h-4.9zM466.2 362.3h4.9v4.9h-4.9zM461.6 371.4h4.9v4.9h-4.9zM452.6 389.4h4.9v4.9h-4.9z"/><path fill="#ee7b51" d="M475.2 353.3h4.9v4.9h-4.9z"/><path fill="#ef7e50" d="M470.7 317.2h4.9v4.9h-4.9zM475.2 335.2h4.9v4.9h-4.9zM457.1 380.4h4.9v4.9h-4.9z"/><path fill="#f0804e" d="M475.2 308.2h4.9v4.9h-4.9z"/><path fill="#f1834c" d="M470.7 321.7h4.9v4.9h-4.9zM479.7 339.8h21.5v4.9h-21.5zM475.2 357.8h4.9v4.9h-4.9zM470.7 362.3h4.9v4.9h-4.9zM466.2 366.8h4.9v4.9h-4.9zM452.6 393.9h4.9v4.9h-4.9zM452.6 398.4h4.9v4.9h-4.9zM452.6 403h4.9v4.9h-4.9zM452.6 407.5h4.9v4.9h-4.9zM452.6 412h4.9v16.9h-4.9z"/><path fill="#f3854b" d="M479.7 303.7h21.5v4.9h-21.5zM470.7 326.2h4.9v4.9h-4.9zM479.7 344.3h21.5v4.9h-21.5zM461.6 375.9h4.9v4.9h-4.9zM457.1 384.9h4.9v4.9h-4.9z"/><path fill="#f48849" d="M479.7 348.8h21.5v4.9h-21.5z"/><path fill="#f58c46" d="M479.7 353.3h21.5v4.9h-21.5zM475.2 362.3h4.9v4.9h-4.9zM470.7 366.8h4.9v4.9h-4.9z"/><path fill="#f68f44" d="M475.2 312.7h4.9v4.9h-4.9zM457.1 389.4h4.9v4.9h-4.9z"/><path fill="#f79143" d="M475.2 330.7h4.9v4.9h-4.9zM479.7 357.8h21.5v4.9h-21.5zM466.2 371.4h4.9v4.9h-4.9z"/><path fill="#f89441" d="M457.1 407.5h4.9v4.9h-4.9zM457.1 412h4.9v16.9h-4.9z"/><path fill="#f9973f" d="M479.7 308.2h21.5v4.9h-21.5zM475.2 317.2h4.9v4.9h-4.9zM479.7 335.2h21.5v4.9h-21.5zM479.7 362.3h21.5v4.9h-21.5zM475.2 366.8h4.9v4.9h-4.9zM461.6 380.4h4.9v4.9h-4.9zM457.1 393.9h4.9v4.9h-4.9zM457.1 398.4h4.9v4.9h-4.9zM457.1 403h4.9v4.9h-4.9z"/><path fill="#f99a3e" d="M470.7 371.4h4.9v4.9h-4.9z"/><path fill="#fa9c3c" d="M475.2 321.7h4.9v4.9h-4.9zM461.6 384.9h4.9v4.9h-4.9z"/><path fill="#fba139" d="M479.7 366.8h21.5v4.9h-21.5zM475.2 371.4h4.9v4.9h-4.9z"/><path fill="#fca338" d="M475.2 326.2h4.9v4.9h-4.9zM466.2 375.9h4.9v4.9h-4.9zM461.6 389.4h4.9v4.9h-4.9z"/><path fill="#fca636" d="M479.7 312.7h21.5v4.9h-21.5zM470.7 375.9h4.9v4.9h-4.9zM461.6 407.5h4.9v4.9h-4.9zM461.6 412h4.9v16.9h-4.9z"/><path fill="#fca934" d="M479.7 371.4h21.5v4.9h-21.5zM461.6 398.4h4.9v4.9h-4.9zM461.6 403h4.9v4.9h-4.9z"/><path fill="#fdac33" d="M475.2 375.9h4.9v4.9h-4.9zM461.6 393.9h4.9v4.9h-4.9z"/><path fill="#fdaf31" d="M479.7 317.2h21.5v4.9h-21.5zM479.7 330.7h21.5v4.9h-21.5zM479.7 375.9h21.5v4.9h-21.5z"/><path fill="#fdb22f" d="M466.2 380.4h4.9v4.9h-4.9z"/><path fill="#feb72d" d="M470.7 380.4h9.5v4.9h-9.5zM466.2 384.9h4.9v4.9h-4.9z"/><path fill="#feba2c" d="M479.7 380.4h21.5v4.9h-21.5zM470.7 384.9h9.5v4.9h-9.5zM466.2 407.5h4.9v4.9h-4.9zM466.2 412h4.9v16.9h-4.9z"/><path fill="#febd2a" d="M479.7 321.7h21.5v4.9h-21.5zM479.7 384.9h21.5v4.9h-21.5zM466.2 389.4h14v4.9h-14zM466.2 403h9.5v4.9h-9.5zM470.7 407.5h4.9v4.9h-4.9zM470.7 412h4.9v16.9h-4.9z"/><path fill="#fec029" d="M479.7 389.4h21.5v4.9h-21.5zM466.2 398.4h14v4.9h-14zM475.2 403h4.9v4.9h-4.9zM475.2 407.5h4.9v4.9h-4.9zM475.2 412h4.9v16.9h-4.9z"/><path fill="#fdc328" d="M466.2 393.9h35v4.9h-35zM479.7 398.4h21.5v4.9h-21.5zM479.7 403h21.5v4.9h-21.5zM479.7 407.5h21.5v4.9h-21.5zM479.7 412h21.5v16.9h-21.5z"/><path fill="#fdc627" d="M479.7 326.2h21.5v4.9h-21.5z"/></g></g>
<rect x="325.8" y="254.0" width="163.0" height="162.5" fill="none" stroke="#000" stroke-width="0.8"/>
<path d="M325.8 254.0h-3M325.8 416.5h-3M325.8 416.5v3M488.8 416.5v3" stroke="#000" stroke-width="0.8" fill="none"/>
<text class="k" x="319.1" y="258.3" text-anchor="end"><tspan font-size="8px" dy="-1.1">−</tspan><tspan dy="1.1" dx="-0.4">4.48</tspan></text><text class="k" x="319.1" y="420.1" text-anchor="end">4.48</text><text class="k" x="325.5" y="431.8" text-anchor="middle"><tspan font-size="8px" dy="-1.1">−</tspan><tspan dy="1.1" dx="-0.4">4.48</tspan></text><text class="k" x="488.8" y="431.8" text-anchor="middle">4.48</text>
<text class="t" x="407.3" y="247.9">Loss Values</text>
<rect x="499.6" y="254.0" width="8.4" height="162.5" fill="url(#pl)" stroke="#000" stroke-width="0.8"/>
<path d="M508.0 397.9h2.6" stroke="#000" stroke-width="0.8"/><text class="c" x="513.4" y="400.8">20</text><path d="M508.0 378.1h2.6" stroke="#000" stroke-width="0.8"/><text class="c" x="513.4" y="381.0">40</text><path d="M508.0 358.3h2.6" stroke="#000" stroke-width="0.8"/><text class="c" x="513.4" y="361.2">60</text><path d="M508.0 338.5h2.6" stroke="#000" stroke-width="0.8"/><text class="c" x="513.4" y="341.4">80</text><path d="M508.0 318.7h2.6" stroke="#000" stroke-width="0.8"/><text class="c" x="513.4" y="321.6">100</text><path d="M508.0 298.9h2.6" stroke="#000" stroke-width="0.8"/><text class="c" x="513.4" y="301.8">120</text><path d="M508.0 279.1h2.6" stroke="#000" stroke-width="0.8"/><text class="c" x="513.4" y="282.0">140</text><path d="M508.0 259.3h2.6" stroke="#000" stroke-width="0.8"/><text class="c" x="513.4" y="262.2">160</text>
<text class="cap" x="140" y="472.5">(<tspan font-weight="bold">a</tspan>)</text>
<text class="cap" x="413.8" y="472.5">(<tspan font-weight="bold">b</tspan>)</text>
</svg></body></html>
